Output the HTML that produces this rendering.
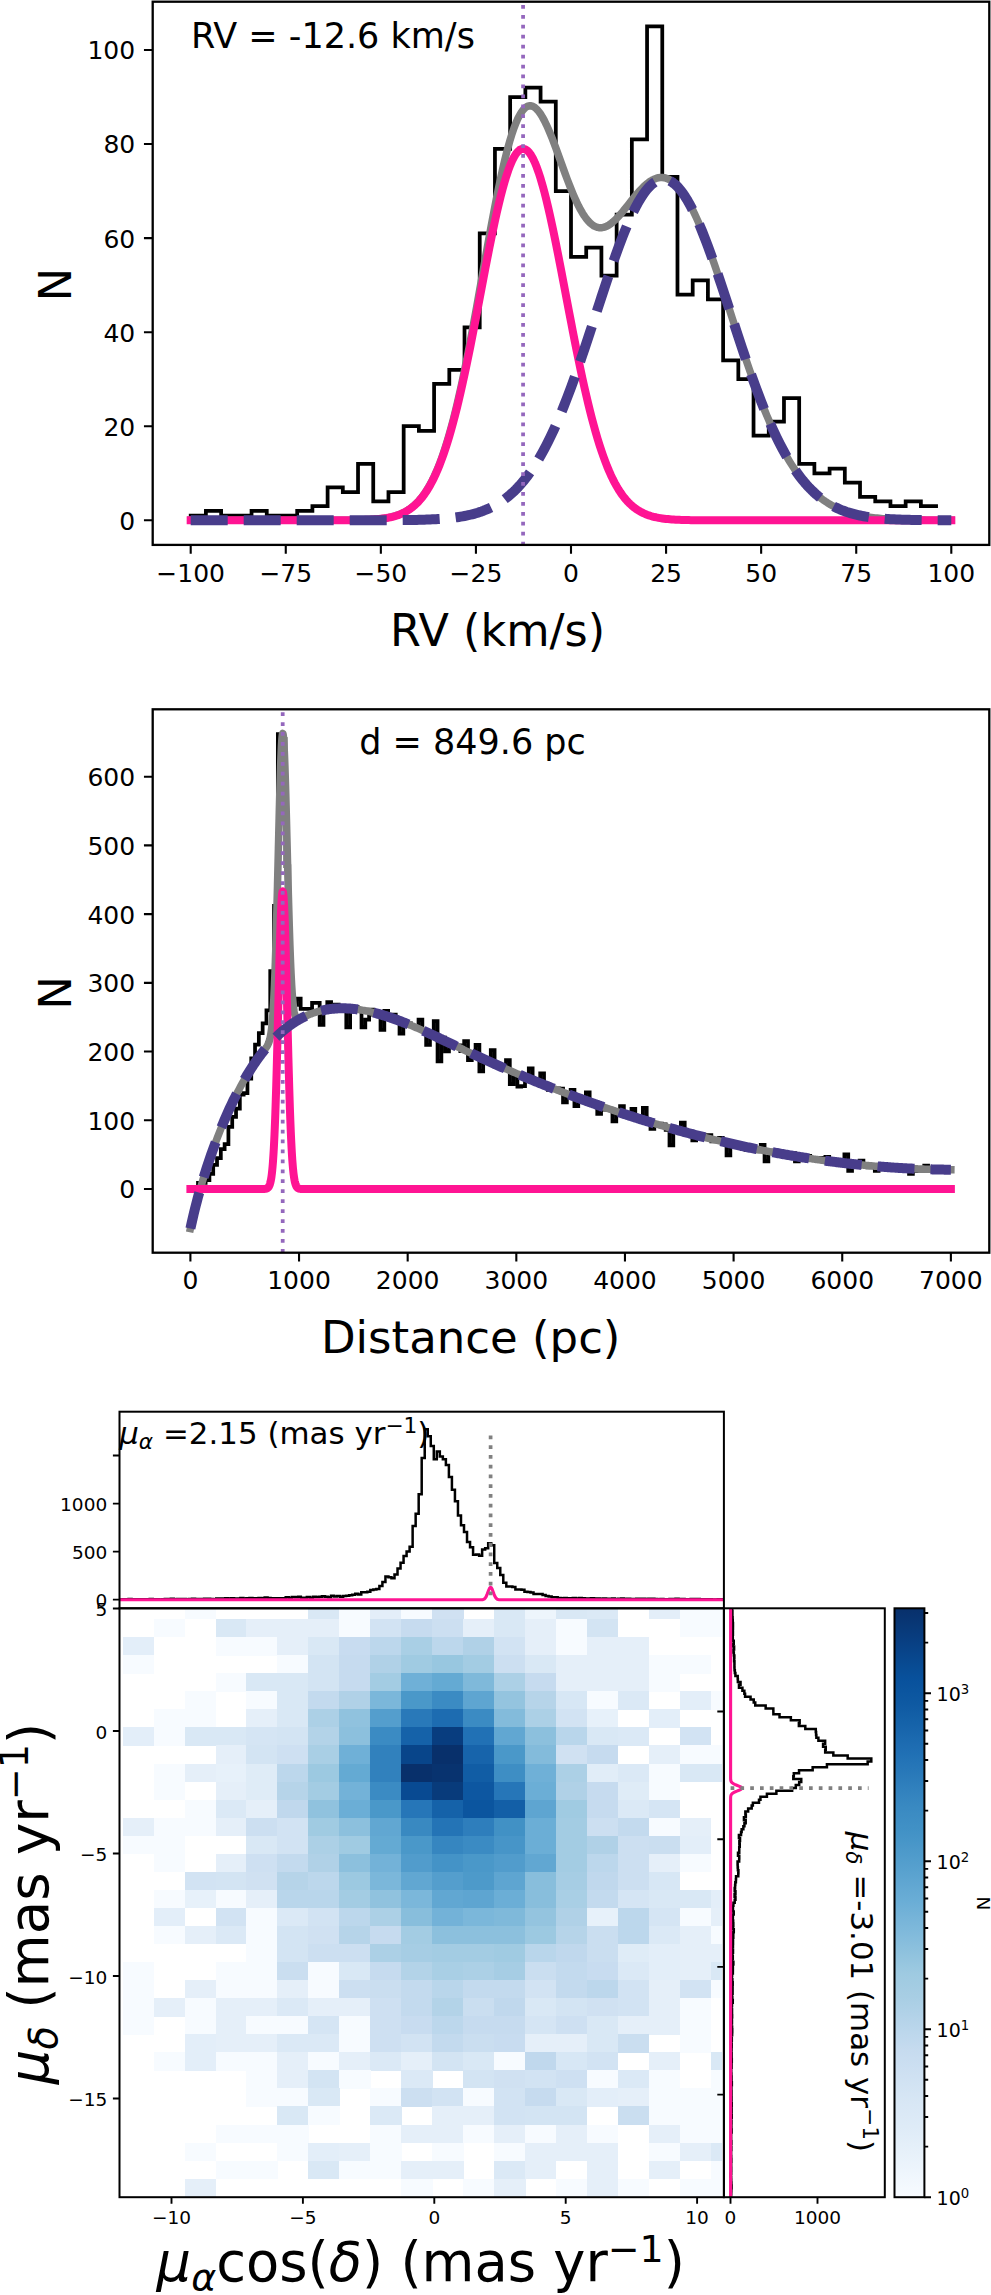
<!DOCTYPE html>
<html><head><meta charset="utf-8"><title>Figure</title>
<style>
html,body{margin:0;padding:0;background:#fff;}
svg{display:block;}
svg text{font-family:'DejaVu Sans','Liberation Sans',sans-serif;fill:#000;}
</style></head>
<body>
<svg width="991" height="2295" viewBox="0 0 991 2295">
<rect width="991" height="2295" fill="#fff"/>
<g id="p1">
<path d="M190.7 515.6 L205.91 515.6 L205.91 510.89 L221.12 510.89 L221.12 515.6 L236.34 515.6 L236.34 515.6 L251.55 515.6 L251.55 510.89 L266.76 510.89 L266.76 515.6 L281.97 515.6 L281.97 515.6 L297.18 515.6 L297.18 510.89 L312.4 510.89 L312.4 506.19 L327.61 506.19 L327.61 487.38 L342.82 487.38 L342.82 492.08 L358.03 492.08 L358.03 463.86 L373.24 463.86 L373.24 501.49 L388.46 501.49 L388.46 492.08 L403.67 492.08 L403.67 426.24 L418.88 426.24 L418.88 430.94 L434.09 430.94 L434.09 383.91 L449.3 383.91 L449.3 369.8 L464.52 369.8 L464.52 327.48 L479.73 327.48 L479.73 233.42 L494.94 233.42 L494.94 148.76 L510.15 148.76 L510.15 97.03 L525.36 97.03 L525.36 87.62 L540.58 87.62 L540.58 101.73 L555.79 101.73 L555.79 191.09 L571 191.09 L571 256.93 L586.21 256.93 L586.21 247.53 L601.42 247.53 L601.42 275.74 L616.64 275.74 L616.64 214.6 L631.85 214.6 L631.85 139.36 L647.06 139.36 L647.06 26.48 L662.27 26.48 L662.27 176.98 L677.48 176.98 L677.48 294.56 L692.7 294.56 L692.7 280.45 L707.91 280.45 L707.91 299.26 L723.12 299.26 L723.12 360.4 L738.33 360.4 L738.33 379.21 L753.54 379.21 L753.54 435.65 L768.76 435.65 L768.76 421.54 L783.97 421.54 L783.97 398.02 L799.18 398.02 L799.18 463.86 L814.39 463.86 L814.39 473.27 L829.6 473.27 L829.6 468.57 L844.82 468.57 L844.82 482.68 L860.03 482.68 L860.03 496.78 L875.24 496.78 L875.24 501.49 L890.45 501.49 L890.45 506.19 L905.66 506.19 L905.66 501.49 L920.88 501.49 L920.88 506.19 L936.09 506.19" fill="none" stroke="#000" stroke-width="3.75" stroke-linejoin="miter" stroke-linecap="square"/>
<path d="M190.7 520.3 L192.6 520.3 L194.5 520.3 L196.4 520.3 L198.31 520.3 L200.21 520.3 L202.11 520.3 L204.01 520.3 L205.91 520.3 L207.81 520.3 L209.72 520.3 L211.62 520.3 L213.52 520.3 L215.42 520.3 L217.32 520.3 L219.22 520.3 L221.12 520.3 L223.03 520.3 L224.93 520.3 L226.83 520.3 L228.73 520.3 L230.63 520.3 L232.53 520.3 L234.43 520.3 L236.34 520.3 L238.24 520.3 L240.14 520.3 L242.04 520.3 L243.94 520.3 L245.84 520.3 L247.75 520.3 L249.65 520.3 L251.55 520.3 L253.45 520.3 L255.35 520.3 L257.25 520.3 L259.15 520.3 L261.06 520.3 L262.96 520.3 L264.86 520.3 L266.76 520.3 L268.66 520.3 L270.56 520.3 L272.46 520.3 L274.37 520.3 L276.27 520.3 L278.17 520.3 L280.07 520.3 L281.97 520.3 L283.87 520.3 L285.77 520.3 L287.68 520.3 L289.58 520.3 L291.48 520.3 L293.38 520.3 L295.28 520.3 L297.18 520.3 L299.09 520.3 L300.99 520.3 L302.89 520.3 L304.79 520.3 L306.69 520.3 L308.59 520.3 L310.49 520.3 L312.4 520.3 L314.3 520.3 L316.2 520.3 L318.1 520.3 L320 520.29 L321.9 520.29 L323.81 520.29 L325.71 520.29 L327.61 520.29 L329.51 520.29 L331.41 520.28 L333.31 520.28 L335.21 520.27 L337.12 520.27 L339.02 520.26 L340.92 520.25 L342.82 520.24 L344.72 520.23 L346.62 520.22 L348.52 520.2 L350.43 520.19 L352.33 520.16 L354.23 520.14 L356.13 520.11 L358.03 520.07 L359.93 520.03 L361.84 519.98 L363.74 519.92 L365.64 519.85 L367.54 519.78 L369.44 519.69 L371.34 519.58 L373.24 519.46 L375.15 519.32 L377.05 519.16 L378.95 518.98 L380.85 518.77 L382.75 518.53 L384.65 518.26 L386.55 517.94 L388.46 517.59 L390.36 517.19 L392.26 516.73 L394.16 516.22 L396.06 515.64 L397.96 514.99 L399.87 514.27 L401.77 513.45 L403.67 512.54 L405.57 511.53 L407.47 510.41 L409.37 509.16 L411.27 507.78 L413.18 506.25 L415.08 504.57 L416.98 502.72 L418.88 500.7 L420.78 498.48 L422.68 496.06 L424.58 493.42 L426.49 490.56 L428.39 487.45 L430.29 484.09 L432.19 480.46 L434.09 476.56 L435.99 472.37 L437.89 467.87 L439.8 463.07 L441.7 457.95 L443.6 452.5 L445.5 446.72 L447.4 440.6 L449.3 434.14 L451.21 427.33 L453.11 420.18 L455.01 412.7 L456.91 404.87 L458.81 396.72 L460.71 388.25 L462.61 379.46 L464.52 370.39 L466.42 361.03 L468.32 351.42 L470.22 341.57 L472.12 331.51 L474.02 321.26 L475.93 310.86 L477.83 300.33 L479.73 289.72 L481.63 279.05 L483.53 268.36 L485.43 257.7 L487.33 247.1 L489.24 236.6 L491.14 226.26 L493.04 216.09 L494.94 206.16 L496.84 196.51 L498.74 187.16 L500.64 178.18 L502.55 169.58 L504.45 161.41 L506.35 153.71 L508.25 146.5 L510.15 139.82 L512.05 133.69 L513.96 128.14 L515.86 123.17 L517.76 118.82 L519.66 115.09 L521.56 111.98 L523.46 109.51 L525.36 107.66 L527.27 106.44 L529.17 105.83 L531.07 105.83 L532.97 106.4 L534.87 107.54 L536.77 109.21 L538.67 111.4 L540.58 114.05 L542.48 117.15 L544.38 120.66 L546.28 124.53 L548.18 128.73 L550.08 133.21 L551.99 137.93 L553.89 142.85 L555.79 147.93 L557.69 153.11 L559.59 158.36 L561.49 163.63 L563.39 168.89 L565.3 174.09 L567.2 179.2 L569.1 184.18 L571 189 L572.9 193.62 L574.8 198.02 L576.7 202.18 L578.61 206.06 L580.51 209.66 L582.41 212.95 L584.31 215.93 L586.21 218.57 L588.11 220.89 L590.01 222.86 L591.92 224.49 L593.82 225.78 L595.72 226.74 L597.62 227.37 L599.52 227.68 L601.42 227.68 L603.33 227.39 L605.23 226.81 L607.13 225.97 L609.03 224.88 L610.93 223.57 L612.83 222.04 L614.73 220.33 L616.64 218.46 L618.54 216.44 L620.44 214.3 L622.34 212.06 L624.24 209.74 L626.14 207.37 L628.04 204.97 L629.95 202.56 L631.85 200.16 L633.75 197.79 L635.65 195.47 L637.55 193.22 L639.45 191.07 L641.36 189.02 L643.26 187.09 L645.16 185.3 L647.06 183.67 L648.96 182.2 L650.86 180.91 L652.76 179.81 L654.67 178.92 L656.57 178.23 L658.47 177.76 L660.37 177.52 L662.27 177.51 L664.17 177.74 L666.08 178.2 L667.98 178.91 L669.88 179.87 L671.78 181.07 L673.68 182.52 L675.58 184.21 L677.48 186.15 L679.39 188.33 L681.29 190.74 L683.19 193.4 L685.09 196.28 L686.99 199.38 L688.89 202.7 L690.79 206.24 L692.7 209.97 L694.6 213.91 L696.5 218.03 L698.4 222.33 L700.3 226.8 L702.2 231.44 L704.11 236.23 L706.01 241.15 L707.91 246.22 L709.81 251.4 L711.71 256.69 L713.61 262.09 L715.51 267.58 L717.42 273.14 L719.32 278.78 L721.22 284.47 L723.12 290.22 L725.02 296 L726.92 301.82 L728.82 307.65 L730.73 313.49 L732.63 319.33 L734.53 325.16 L736.43 330.98 L738.33 336.76 L740.23 342.52 L742.13 348.22 L744.04 353.88 L745.94 359.48 L747.84 365.02 L749.74 370.48 L751.64 375.87 L753.54 381.18 L755.45 386.4 L757.35 391.52 L759.25 396.55 L761.15 401.47 L763.05 406.29 L764.95 411.01 L766.85 415.61 L768.76 420.09 L770.66 424.47 L772.56 428.72 L774.46 432.86 L776.36 436.87 L778.26 440.76 L780.16 444.54 L782.07 448.19 L783.97 451.72 L785.87 455.13 L787.77 458.42 L789.67 461.59 L791.57 464.64 L793.48 467.58 L795.38 470.4 L797.28 473.1 L799.18 475.7 L801.08 478.19 L802.98 480.57 L804.88 482.84 L806.79 485.02 L808.69 487.09 L810.59 489.07 L812.49 490.95 L814.39 492.74 L816.29 494.44 L818.19 496.06 L820.1 497.59 L822 499.05 L823.9 500.42 L825.8 501.72 L827.7 502.95 L829.6 504.12 L831.51 505.21 L833.41 506.25 L835.31 507.22 L837.21 508.13 L839.11 508.99 L841.01 509.8 L842.91 510.56 L844.82 511.27 L846.72 511.94 L848.62 512.56 L850.52 513.14 L852.42 513.68 L854.32 514.19 L856.23 514.66 L858.13 515.1 L860.03 515.51 L861.93 515.89 L863.83 516.25 L865.73 516.58 L867.63 516.88 L869.54 517.16 L871.44 517.42 L873.34 517.67 L875.24 517.89 L877.14 518.09 L879.04 518.28 L880.94 518.46 L882.85 518.62 L884.75 518.77 L886.65 518.91 L888.55 519.03 L890.45 519.15 L892.35 519.25 L894.25 519.35 L896.16 519.44 L898.06 519.52 L899.96 519.59 L901.86 519.66 L903.76 519.72 L905.66 519.77 L907.57 519.83 L909.47 519.87 L911.37 519.91 L913.27 519.95 L915.17 519.99 L917.07 520.02 L918.97 520.05 L920.88 520.07 L922.78 520.1 L924.68 520.12 L926.58 520.14 L928.48 520.15 L930.38 520.17 L932.28 520.18 L934.19 520.2 L936.09 520.21 L937.99 520.22 L939.89 520.23 L941.79 520.23 L943.69 520.24 L945.6 520.25 L947.5 520.25 L949.4 520.26 L951.3 520.26" fill="none" stroke="#808080" stroke-width="7.5" stroke-linecap="square" stroke-linejoin="round"/>
<path d="M190.7 520.3 L192.6 520.3 L194.5 520.3 L196.4 520.3 L198.31 520.3 L200.21 520.3 L202.11 520.3 L204.01 520.3 L205.91 520.3 L207.81 520.3 L209.72 520.3 L211.62 520.3 L213.52 520.3 L215.42 520.3 L217.32 520.3 L219.22 520.3 L221.12 520.3 L223.03 520.3 L224.93 520.3 L226.83 520.3 L228.73 520.3 L230.63 520.3 L232.53 520.3 L234.43 520.3 L236.34 520.3 L238.24 520.3 L240.14 520.3 L242.04 520.3 L243.94 520.3 L245.84 520.3 L247.75 520.3 L249.65 520.3 L251.55 520.3 L253.45 520.3 L255.35 520.3 L257.25 520.3 L259.15 520.3 L261.06 520.3 L262.96 520.3 L264.86 520.3 L266.76 520.3 L268.66 520.3 L270.56 520.3 L272.46 520.3 L274.37 520.3 L276.27 520.3 L278.17 520.3 L280.07 520.3 L281.97 520.3 L283.87 520.3 L285.77 520.3 L287.68 520.3 L289.58 520.3 L291.48 520.3 L293.38 520.3 L295.28 520.3 L297.18 520.3 L299.09 520.3 L300.99 520.3 L302.89 520.3 L304.79 520.3 L306.69 520.3 L308.59 520.3 L310.49 520.3 L312.4 520.3 L314.3 520.3 L316.2 520.3 L318.1 520.3 L320 520.3 L321.9 520.29 L323.81 520.29 L325.71 520.29 L327.61 520.29 L329.51 520.29 L331.41 520.28 L333.31 520.28 L335.21 520.28 L337.12 520.27 L339.02 520.26 L340.92 520.26 L342.82 520.25 L344.72 520.24 L346.62 520.22 L348.52 520.21 L350.43 520.19 L352.33 520.17 L354.23 520.15 L356.13 520.12 L358.03 520.08 L359.93 520.04 L361.84 519.99 L363.74 519.94 L365.64 519.87 L367.54 519.8 L369.44 519.71 L371.34 519.61 L373.24 519.49 L375.15 519.36 L377.05 519.2 L378.95 519.03 L380.85 518.82 L382.75 518.59 L384.65 518.32 L386.55 518.02 L388.46 517.67 L390.36 517.28 L392.26 516.84 L394.16 516.33 L396.06 515.77 L397.96 515.14 L399.87 514.43 L401.77 513.63 L403.67 512.74 L405.57 511.75 L407.47 510.65 L409.37 509.43 L411.27 508.08 L413.18 506.59 L415.08 504.95 L416.98 503.14 L418.88 501.16 L420.78 498.99 L422.68 496.63 L424.58 494.05 L426.49 491.25 L428.39 488.22 L430.29 484.94 L432.19 481.4 L434.09 477.59 L435.99 473.5 L437.89 469.12 L439.8 464.44 L441.7 459.45 L443.6 454.15 L445.5 448.52 L447.4 442.58 L449.3 436.3 L451.21 429.7 L453.11 422.77 L455.01 415.52 L456.91 407.96 L458.81 400.08 L460.71 391.91 L462.61 383.45 L464.52 374.72 L466.42 365.74 L468.32 356.53 L470.22 347.12 L472.12 337.52 L474.02 327.77 L475.93 317.91 L477.83 307.96 L479.73 297.96 L481.63 287.94 L483.53 277.96 L485.43 268.04 L487.33 258.24 L489.24 248.59 L491.14 239.15 L493.04 229.95 L494.94 221.04 L496.84 212.47 L498.74 204.27 L500.64 196.5 L502.55 189.19 L504.45 182.39 L506.35 176.12 L508.25 170.43 L510.15 165.35 L512.05 160.9 L513.96 157.12 L515.86 154.02 L517.76 151.63 L519.66 149.95 L521.56 149 L523.46 148.78 L525.36 149.29 L527.27 150.53 L529.17 152.5 L531.07 155.18 L532.97 158.55 L534.87 162.6 L536.77 167.31 L538.67 172.64 L540.58 178.56 L542.48 185.04 L544.38 192.06 L546.28 199.56 L548.18 207.5 L550.08 215.85 L551.99 224.57 L553.89 233.6 L555.79 242.9 L557.69 252.43 L559.59 262.15 L561.49 272 L563.39 281.95 L565.3 291.95 L567.2 301.96 L569.1 311.95 L571 321.87 L572.9 331.69 L574.8 341.38 L576.7 350.91 L578.61 360.24 L580.51 369.36 L582.41 378.24 L584.31 386.87 L586.21 395.21 L588.11 403.27 L590.01 411.02 L591.92 418.46 L593.82 425.58 L595.72 432.38 L597.62 438.85 L599.52 444.99 L601.42 450.81 L603.33 456.31 L605.23 461.48 L607.13 466.35 L609.03 470.91 L610.93 475.17 L612.83 479.15 L614.73 482.85 L616.64 486.28 L618.54 489.46 L620.44 492.4 L622.34 495.11 L624.24 497.6 L626.14 499.88 L628.04 501.98 L629.95 503.88 L631.85 505.62 L633.75 507.21 L635.65 508.64 L637.55 509.94 L639.45 511.11 L641.36 512.16 L643.26 513.11 L645.16 513.96 L647.06 514.72 L648.96 515.4 L650.86 516 L652.76 516.54 L654.67 517.02 L656.57 517.44 L658.47 517.81 L660.37 518.14 L662.27 518.43 L664.17 518.68 L666.08 518.91 L667.98 519.1 L669.88 519.27 L671.78 519.41 L673.68 519.54 L675.58 519.65 L677.48 519.75 L679.39 519.83 L681.29 519.9 L683.19 519.96 L685.09 520.01 L686.99 520.06 L688.89 520.1 L690.79 520.13 L692.7 520.16 L694.6 520.18 L696.5 520.2 L698.4 520.22 L700.3 520.23 L702.2 520.24 L704.11 520.25 L706.01 520.26 L707.91 520.27 L709.81 520.27 L711.71 520.28 L713.61 520.28 L715.51 520.28 L717.42 520.29 L719.32 520.29 L721.22 520.29 L723.12 520.29 L725.02 520.29 L726.92 520.3 L728.82 520.3 L730.73 520.3 L732.63 520.3 L734.53 520.3 L736.43 520.3 L738.33 520.3 L740.23 520.3 L742.13 520.3 L744.04 520.3 L745.94 520.3 L747.84 520.3 L749.74 520.3 L751.64 520.3 L753.54 520.3 L755.45 520.3 L757.35 520.3 L759.25 520.3 L761.15 520.3 L763.05 520.3 L764.95 520.3 L766.85 520.3 L768.76 520.3 L770.66 520.3 L772.56 520.3 L774.46 520.3 L776.36 520.3 L778.26 520.3 L780.16 520.3 L782.07 520.3 L783.97 520.3 L785.87 520.3 L787.77 520.3 L789.67 520.3 L791.57 520.3 L793.48 520.3 L795.38 520.3 L797.28 520.3 L799.18 520.3 L801.08 520.3 L802.98 520.3 L804.88 520.3 L806.79 520.3 L808.69 520.3 L810.59 520.3 L812.49 520.3 L814.39 520.3 L816.29 520.3 L818.19 520.3 L820.1 520.3 L822 520.3 L823.9 520.3 L825.8 520.3 L827.7 520.3 L829.6 520.3 L831.51 520.3 L833.41 520.3 L835.31 520.3 L837.21 520.3 L839.11 520.3 L841.01 520.3 L842.91 520.3 L844.82 520.3 L846.72 520.3 L848.62 520.3 L850.52 520.3 L852.42 520.3 L854.32 520.3 L856.23 520.3 L858.13 520.3 L860.03 520.3 L861.93 520.3 L863.83 520.3 L865.73 520.3 L867.63 520.3 L869.54 520.3 L871.44 520.3 L873.34 520.3 L875.24 520.3 L877.14 520.3 L879.04 520.3 L880.94 520.3 L882.85 520.3 L884.75 520.3 L886.65 520.3 L888.55 520.3 L890.45 520.3 L892.35 520.3 L894.25 520.3 L896.16 520.3 L898.06 520.3 L899.96 520.3 L901.86 520.3 L903.76 520.3 L905.66 520.3 L907.57 520.3 L909.47 520.3 L911.37 520.3 L913.27 520.3 L915.17 520.3 L917.07 520.3 L918.97 520.3 L920.88 520.3 L922.78 520.3 L924.68 520.3 L926.58 520.3 L928.48 520.3 L930.38 520.3 L932.28 520.3 L934.19 520.3 L936.09 520.3 L937.99 520.3 L939.89 520.3 L941.79 520.3 L943.69 520.3 L945.6 520.3 L947.5 520.3 L949.4 520.3 L951.3 520.3" fill="none" stroke="#ff1493" stroke-width="8" stroke-linecap="square" stroke-linejoin="round"/>
<path d="M190.7 520.3 L192.6 520.3 L194.5 520.3 L196.4 520.3 L198.31 520.3 L200.21 520.3 L202.11 520.3 L204.01 520.3 L205.91 520.3 L207.81 520.3 L209.72 520.3 L211.62 520.3 L213.52 520.3 L215.42 520.3 L217.32 520.3 L219.22 520.3 L221.12 520.3 L223.03 520.3 L224.93 520.3 L226.83 520.3 L228.73 520.3 L230.63 520.3 L232.53 520.3 L234.43 520.3 L236.34 520.3 L238.24 520.3 L240.14 520.3 L242.04 520.3 L243.94 520.3 L245.84 520.3 L247.75 520.3 L249.65 520.3 L251.55 520.3 L253.45 520.3 L255.35 520.3 L257.25 520.3 L259.15 520.3 L261.06 520.3 L262.96 520.3 L264.86 520.3 L266.76 520.3 L268.66 520.3 L270.56 520.3 L272.46 520.3 L274.37 520.3 L276.27 520.3 L278.17 520.3 L280.07 520.3 L281.97 520.3 L283.87 520.3 L285.77 520.3 L287.68 520.3 L289.58 520.3 L291.48 520.3 L293.38 520.3 L295.28 520.3 L297.18 520.3 L299.09 520.3 L300.99 520.3 L302.89 520.3 L304.79 520.3 L306.69 520.3 L308.59 520.3 L310.49 520.3 L312.4 520.3 L314.3 520.3 L316.2 520.3 L318.1 520.3 L320 520.3 L321.9 520.3 L323.81 520.3 L325.71 520.3 L327.61 520.3 L329.51 520.3 L331.41 520.3 L333.31 520.3 L335.21 520.3 L337.12 520.3 L339.02 520.3 L340.92 520.3 L342.82 520.3 L344.72 520.3 L346.62 520.29 L348.52 520.29 L350.43 520.29 L352.33 520.29 L354.23 520.29 L356.13 520.29 L358.03 520.29 L359.93 520.29 L361.84 520.29 L363.74 520.28 L365.64 520.28 L367.54 520.28 L369.44 520.28 L371.34 520.27 L373.24 520.27 L375.15 520.26 L377.05 520.26 L378.95 520.25 L380.85 520.25 L382.75 520.24 L384.65 520.24 L386.55 520.23 L388.46 520.22 L390.36 520.21 L392.26 520.2 L394.16 520.19 L396.06 520.17 L397.96 520.16 L399.87 520.14 L401.77 520.12 L403.67 520.1 L405.57 520.08 L407.47 520.05 L409.37 520.02 L411.27 519.99 L413.18 519.96 L415.08 519.92 L416.98 519.88 L418.88 519.84 L420.78 519.79 L422.68 519.73 L424.58 519.67 L426.49 519.6 L428.39 519.53 L430.29 519.45 L432.19 519.37 L434.09 519.27 L435.99 519.17 L437.89 519.05 L439.8 518.93 L441.7 518.8 L443.6 518.65 L445.5 518.49 L447.4 518.32 L449.3 518.13 L451.21 517.93 L453.11 517.71 L455.01 517.47 L456.91 517.22 L458.81 516.94 L460.71 516.64 L462.61 516.32 L464.52 515.97 L466.42 515.59 L468.32 515.19 L470.22 514.75 L472.12 514.29 L474.02 513.79 L475.93 513.25 L477.83 512.68 L479.73 512.06 L481.63 511.41 L483.53 510.71 L485.43 509.96 L487.33 509.16 L489.24 508.31 L491.14 507.41 L493.04 506.45 L494.94 505.42 L496.84 504.34 L498.74 503.19 L500.64 501.98 L502.55 500.69 L504.45 499.33 L506.35 497.89 L508.25 496.37 L510.15 494.77 L512.05 493.09 L513.96 491.31 L515.86 489.45 L517.76 487.49 L519.66 485.44 L521.56 483.28 L523.46 481.03 L525.36 478.67 L527.27 476.21 L529.17 473.63 L531.07 470.95 L532.97 468.15 L534.87 465.24 L536.77 462.21 L538.67 459.06 L540.58 455.8 L542.48 452.41 L544.38 448.9 L546.28 445.28 L548.18 441.53 L550.08 437.66 L551.99 433.67 L553.89 429.56 L555.79 425.33 L557.69 420.98 L559.59 416.51 L561.49 411.94 L563.39 407.25 L565.3 402.45 L567.2 397.54 L569.1 392.53 L571 387.43 L572.9 382.23 L574.8 376.94 L576.7 371.57 L578.61 366.12 L580.51 360.6 L582.41 355.01 L584.31 349.36 L586.21 343.66 L588.11 337.92 L590.01 332.14 L591.92 326.33 L593.82 320.5 L595.72 314.66 L597.62 308.82 L599.52 302.99 L601.42 297.17 L603.33 291.38 L605.23 285.63 L607.13 279.92 L609.03 274.28 L610.93 268.7 L612.83 263.2 L614.73 257.79 L616.64 252.48 L618.54 247.27 L620.44 242.2 L622.34 237.25 L624.24 232.44 L626.14 227.79 L628.04 223.29 L629.95 218.97 L631.85 214.83 L633.75 210.88 L635.65 207.13 L637.55 203.59 L639.45 200.26 L641.36 197.16 L643.26 194.28 L645.16 191.64 L647.06 189.25 L648.96 187.1 L650.86 185.21 L652.76 183.57 L654.67 182.2 L656.57 181.09 L658.47 180.25 L660.37 179.68 L662.27 179.38 L664.17 179.35 L666.08 179.6 L667.98 180.12 L669.88 180.9 L671.78 181.96 L673.68 183.28 L675.58 184.86 L677.48 186.7 L679.39 188.8 L681.29 191.14 L683.19 193.73 L685.09 196.56 L686.99 199.62 L688.89 202.91 L690.79 206.41 L692.7 210.12 L694.6 214.03 L696.5 218.13 L698.4 222.42 L700.3 226.87 L702.2 231.5 L704.11 236.27 L706.01 241.19 L707.91 246.25 L709.81 251.43 L711.71 256.72 L713.61 262.11 L715.51 267.59 L717.42 273.15 L719.32 278.79 L721.22 284.48 L723.12 290.23 L725.02 296.01 L726.92 301.82 L728.82 307.65 L730.73 313.49 L732.63 319.33 L734.53 325.16 L736.43 330.98 L738.33 336.76 L740.23 342.52 L742.13 348.22 L744.04 353.88 L745.94 359.48 L747.84 365.02 L749.74 370.48 L751.64 375.87 L753.54 381.18 L755.45 386.4 L757.35 391.52 L759.25 396.55 L761.15 401.47 L763.05 406.29 L764.95 411.01 L766.85 415.61 L768.76 420.09 L770.66 424.47 L772.56 428.72 L774.46 432.86 L776.36 436.87 L778.26 440.76 L780.16 444.54 L782.07 448.19 L783.97 451.72 L785.87 455.13 L787.77 458.42 L789.67 461.59 L791.57 464.64 L793.48 467.58 L795.38 470.4 L797.28 473.1 L799.18 475.7 L801.08 478.19 L802.98 480.57 L804.88 482.84 L806.79 485.02 L808.69 487.09 L810.59 489.07 L812.49 490.95 L814.39 492.74 L816.29 494.44 L818.19 496.06 L820.1 497.59 L822 499.05 L823.9 500.42 L825.8 501.72 L827.7 502.95 L829.6 504.12 L831.51 505.21 L833.41 506.25 L835.31 507.22 L837.21 508.13 L839.11 508.99 L841.01 509.8 L842.91 510.56 L844.82 511.27 L846.72 511.94 L848.62 512.56 L850.52 513.14 L852.42 513.68 L854.32 514.19 L856.23 514.66 L858.13 515.1 L860.03 515.51 L861.93 515.89 L863.83 516.25 L865.73 516.58 L867.63 516.88 L869.54 517.16 L871.44 517.42 L873.34 517.67 L875.24 517.89 L877.14 518.09 L879.04 518.28 L880.94 518.46 L882.85 518.62 L884.75 518.77 L886.65 518.91 L888.55 519.03 L890.45 519.15 L892.35 519.25 L894.25 519.35 L896.16 519.44 L898.06 519.52 L899.96 519.59 L901.86 519.66 L903.76 519.72 L905.66 519.77 L907.57 519.83 L909.47 519.87 L911.37 519.91 L913.27 519.95 L915.17 519.99 L917.07 520.02 L918.97 520.05 L920.88 520.07 L922.78 520.1 L924.68 520.12 L926.58 520.14 L928.48 520.15 L930.38 520.17 L932.28 520.18 L934.19 520.2 L936.09 520.21 L937.99 520.22 L939.89 520.23 L941.79 520.23 L943.69 520.24 L945.6 520.25 L947.5 520.25 L949.4 520.26 L951.3 520.26" fill="none" stroke="#483d8b" stroke-width="10" stroke-dasharray="37 16" stroke-linejoin="round"/>
<path d="M523.08 544.9 V1.7" stroke="#9467bd" stroke-width="3.75" stroke-dasharray="3.75 6.19" stroke-dashoffset="0.6" fill="none"/>
<rect x="152.7" y="1.7" width="836.6" height="543.2" fill="none" stroke="#000" stroke-width="2.3"/>
<path d="M190.7 544.9 v8.75M285.77 544.9 v8.75M380.85 544.9 v8.75M475.93 544.9 v8.75M571 544.9 v8.75M666.08 544.9 v8.75M761.15 544.9 v8.75M856.23 544.9 v8.75M951.3 544.9 v8.75M152.7 520.3 h-8.75M152.7 426.24 h-8.75M152.7 332.18 h-8.75M152.7 238.12 h-8.75M152.7 144.06 h-8.75M152.7 50 h-8.75" stroke="#000" stroke-width="2.1" fill="none"/>
<text x="190.7" y="582" font-size="25" text-anchor="middle" >−100</text>
<text x="285.77" y="582" font-size="25" text-anchor="middle" >−75</text>
<text x="380.85" y="582" font-size="25" text-anchor="middle" >−50</text>
<text x="475.93" y="582" font-size="25" text-anchor="middle" >−25</text>
<text x="571" y="582" font-size="25" text-anchor="middle" >0</text>
<text x="666.08" y="582" font-size="25" text-anchor="middle" >25</text>
<text x="761.15" y="582" font-size="25" text-anchor="middle" >50</text>
<text x="856.23" y="582" font-size="25" text-anchor="middle" >75</text>
<text x="951.3" y="582" font-size="25" text-anchor="middle" >100</text>
<text x="135.2" y="529.7" font-size="25" text-anchor="end" >0</text>
<text x="135.2" y="435.64" font-size="25" text-anchor="end" >20</text>
<text x="135.2" y="341.58" font-size="25" text-anchor="end" >40</text>
<text x="135.2" y="247.52" font-size="25" text-anchor="end" >60</text>
<text x="135.2" y="153.46" font-size="25" text-anchor="end" >80</text>
<text x="135.2" y="59.4" font-size="25" text-anchor="end" >100</text>
<text x="190.9" y="47.9" font-size="35" text-anchor="start" >RV = -12.6 km/s</text>
<text x="497.5" y="645.6" font-size="44.5" text-anchor="middle" >RV (km/s)</text>
<text transform="translate(70.7 284.6) rotate(-90)" font-size="45" text-anchor="middle">N</text>
</g>
<g id="p2">
<path d="M190.4 1189 L194.2 1189 L194.2 1187.63 L198 1187.63 L198 1182.82 L201.81 1182.82 L201.81 1182.82 L205.61 1182.82 L205.61 1180.07 L209.41 1180.07 L209.41 1173.88 L213.21 1173.88 L213.21 1164.95 L217.02 1164.95 L217.02 1158.08 L220.82 1158.08 L220.82 1149.14 L224.62 1149.14 L224.62 1144.13 L228.42 1144.13 L228.42 1126.88 L232.23 1126.88 L232.23 1116.84 L236.03 1116.84 L236.03 1108.6 L239.83 1108.6 L239.83 1094.58 L243.63 1094.58 L243.63 1093.14 L247.44 1093.14 L247.44 1078.5 L251.24 1078.5 L251.24 1058.43 L255.04 1058.43 L255.04 1044.69 L258.84 1044.69 L258.84 1033.01 L262.65 1033.01 L262.65 1023.38 L266.45 1023.38 L266.45 1010.33 L270.25 1010.33 L270.25 971.16 L274.05 971.16 L274.05 905.87 L277.86 905.87 L277.86 734.07 L281.66 734.07 L281.66 738.88 L285.46 738.88 L285.46 866.02 L289.26 866.02 L289.26 982.84 L293.06 982.84 L293.06 1004.83 L296.87 1004.83 L296.87 998.65 L300.67 998.65 L300.67 1008.95 L304.47 1008.95 L304.47 1008.95 L308.27 1008.95 L308.27 1008.95 L312.08 1008.95 L312.08 1002.77 L315.88 1002.77 L315.88 1002.77 L319.68 1002.77 L319.68 1024.77 L323.48 1024.77 L323.48 1007.94 L327.29 1007.94 L327.29 1002.08 L331.09 1002.08 L331.09 1009.75 L334.89 1009.75 L334.89 1004.6 L338.69 1004.6 L338.69 1009.54 L342.5 1009.54 L342.5 1008.58 L346.3 1008.58 L346.3 1027.29 L350.1 1027.29 L350.1 1007.91 L353.9 1007.91 L353.9 1007.13 L357.71 1007.13 L357.71 1009.96 L361.51 1009.96 L361.51 1027.29 L365.31 1027.29 L365.31 1019.72 L369.11 1019.72 L369.11 1009.74 L372.92 1009.74 L372.92 1014.66 L376.72 1014.66 L376.72 1012.6 L380.52 1012.6 L380.52 1029.82 L384.32 1029.82 L384.32 1010.91 L388.12 1010.91 L388.12 1016.7 L391.93 1016.7 L391.93 1014.7 L395.73 1014.7 L395.73 1020.6 L399.53 1020.6 L399.53 1033.6 L403.33 1033.6 L403.33 1025.3 L407.14 1025.3 L407.14 1023.45 L410.94 1023.45 L410.94 1026.06 L414.74 1026.06 L414.74 1026.74 L418.54 1026.74 L418.54 1019.74 L422.35 1019.74 L422.35 1030.19 L426.15 1030.19 L426.15 1044.95 L429.95 1044.95 L429.95 1035.73 L433.75 1035.73 L433.75 1021 L437.56 1021 L437.56 1061.35 L441.36 1061.35 L441.36 1037.5 L445.16 1037.5 L445.16 1051.26 L448.96 1051.26 L448.96 1041.77 L452.77 1041.77 L452.77 1045.66 L456.57 1045.66 L456.57 1045.44 L460.37 1045.44 L460.37 1051.15 L464.17 1051.15 L464.17 1041.18 L467.98 1041.18 L467.98 1060.09 L471.78 1060.09 L471.78 1053.12 L475.58 1053.12 L475.58 1044.97 L479.38 1044.97 L479.38 1071.44 L483.18 1071.44 L483.18 1060.54 L486.99 1060.54 L486.99 1062.36 L490.79 1062.36 L490.79 1050.01 L494.59 1050.01 L494.59 1066.62 L498.39 1066.62 L498.39 1066.93 L502.2 1066.93 L502.2 1068.41 L506 1068.41 L506 1060.1 L509.8 1060.1 L509.8 1084.05 L513.6 1084.05 L513.6 1072.92 L517.41 1072.92 L517.41 1086.58 L521.21 1086.58 L521.21 1086.03 L525.01 1086.03 L525.01 1075.71 L528.81 1075.71 L528.81 1068.39 L532.62 1068.39 L532.62 1079.32 L536.42 1079.32 L536.42 1080.11 L540.22 1080.11 L540.22 1073.43 L544.02 1073.43 L544.02 1083.51 L547.83 1083.51 L547.83 1089.82 L551.63 1089.82 L551.63 1088.72 L555.43 1088.72 L555.43 1088.44 L559.23 1088.44 L559.23 1088.57 L563.04 1088.57 L563.04 1102.43 L566.84 1102.43 L566.84 1093.57 L570.64 1093.57 L570.64 1089.83 L574.44 1089.83 L574.44 1106.21 L578.24 1106.21 L578.24 1096.97 L582.05 1096.97 L582.05 1100.48 L585.85 1100.48 L585.85 1092.35 L589.65 1092.35 L589.65 1101.57 L593.45 1101.57 L593.45 1102.41 L597.26 1102.41 L597.26 1113.78 L601.06 1113.78 L601.06 1109.55 L604.86 1109.55 L604.86 1108.6 L608.66 1108.6 L608.66 1109.66 L612.47 1109.66 L612.47 1121.35 L616.27 1121.35 L616.27 1111.79 L620.07 1111.79 L620.07 1106.23 L623.87 1106.23 L623.87 1112.71 L627.68 1112.71 L627.68 1113.32 L631.48 1113.32 L631.48 1108.75 L635.28 1108.75 L635.28 1119.66 L639.08 1119.66 L639.08 1118.49 L642.89 1118.49 L642.89 1107.99 L646.69 1107.99 L646.69 1123.23 L650.49 1123.23 L650.49 1128.92 L654.29 1128.92 L654.29 1125.82 L658.1 1125.82 L658.1 1123.57 L661.9 1123.57 L661.9 1124.27 L665.7 1124.27 L665.7 1129.9 L669.5 1129.9 L669.5 1145.31 L673.3 1145.31 L673.3 1127.86 L677.11 1127.86 L677.11 1127.93 L680.91 1127.93 L680.91 1122.63 L684.71 1122.63 L684.71 1134.44 L688.51 1134.44 L688.51 1131.56 L692.32 1131.56 L692.32 1140.27 L696.12 1140.27 L696.12 1137.29 L699.92 1137.29 L699.92 1136.92 L703.72 1136.92 L703.72 1136.36 L707.53 1136.36 L707.53 1135.24 L711.33 1135.24 L711.33 1141.27 L715.13 1141.27 L715.13 1139.46 L718.93 1139.46 L718.93 1137.76 L722.74 1137.76 L722.74 1141.89 L726.54 1141.89 L726.54 1155.41 L730.34 1155.41 L730.34 1146.46 L734.14 1146.46 L734.14 1145.96 L737.95 1145.96 L737.95 1143.9 L741.75 1143.9 L741.75 1148.92 L745.55 1148.92 L745.55 1149.93 L749.35 1149.93 L749.35 1148.78 L753.16 1148.78 L753.16 1151.2 L756.96 1151.2 L756.96 1151.49 L760.76 1151.49 L760.76 1144.88 L764.56 1144.88 L764.56 1161.26 L768.36 1161.26 L768.36 1150.7 L772.17 1150.7 L772.17 1152.89 L775.97 1152.89 L775.97 1155.2 L779.77 1155.2 L779.77 1154.8 L783.57 1154.8 L783.57 1154.04 L787.38 1154.04 L787.38 1152.77 L791.18 1152.77 L791.18 1153.13 L794.98 1153.13 L794.98 1161.26 L798.78 1161.26 L798.78 1159.76 L802.59 1159.76 L802.59 1155.85 L806.39 1155.85 L806.39 1155.91 L810.19 1155.91 L810.19 1159.05 L813.99 1159.05 L813.99 1157.89 L817.8 1157.89 L817.8 1157.91 L821.6 1157.91 L821.6 1159.84 L825.4 1159.84 L825.4 1156.99 L829.2 1156.99 L829.2 1164.07 L833.01 1164.07 L833.01 1163.2 L836.81 1163.2 L836.81 1163.63 L840.61 1163.63 L840.61 1164.95 L844.41 1164.95 L844.41 1154.46 L848.22 1154.46 L848.22 1170.84 L852.02 1170.84 L852.02 1163.19 L855.82 1163.19 L855.82 1166.9 L859.62 1166.9 L859.62 1160.52 L863.42 1160.52 L863.42 1165.74 L867.23 1165.74 L867.23 1167.4 L871.03 1167.4 L871.03 1165.87 L874.83 1165.87 L874.83 1170.84 L878.63 1170.84 L878.63 1167.62 L882.44 1167.62 L882.44 1163.8 L886.24 1163.8 L886.24 1169.06 L890.04 1169.06 L890.04 1169.15 L893.84 1169.15 L893.84 1168.51 L897.65 1168.51 L897.65 1168.62 L901.45 1168.62 L901.45 1169.79 L905.25 1169.79 L905.25 1166.08 L909.05 1166.08 L909.05 1173.87 L912.86 1173.87 L912.86 1170.91 L916.66 1170.91 L916.66 1169.63 L920.46 1169.63 L920.46 1170.53 L924.26 1170.53 L924.26 1165.56 L928.07 1165.56 L928.07 1170.54 L931.87 1170.54 L931.87 1169.41 L935.67 1169.41 L935.67 1167.18 L939.47 1167.18 L939.47 1170.23 L943.28 1170.23 L943.28 1168.82 L947.08 1168.82 L947.08 1169.16 L950.88 1169.16" fill="none" stroke="#000" stroke-width="3.75" stroke-linejoin="miter" stroke-linecap="butt"/>
<path d="M190.4 1228.54 L191.49 1223.6 L192.57 1218.81 L193.66 1214.18 L194.75 1209.69 L195.83 1205.35 L196.92 1201.13 L198 1197.04 L199.09 1193.06 L200.18 1189.19 L201.26 1185.43 L202.35 1181.76 L203.44 1178.18 L204.52 1174.68 L205.61 1171.25 L206.7 1167.89 L207.78 1164.59 L208.87 1161.34 L209.96 1158.14 L211.04 1155 L212.13 1151.91 L213.21 1148.86 L214.3 1145.87 L215.39 1142.92 L216.47 1140.02 L217.56 1137.17 L218.65 1134.37 L219.73 1131.61 L220.82 1128.89 L221.91 1126.22 L222.99 1123.59 L224.08 1121.01 L225.16 1118.46 L226.25 1115.96 L227.34 1113.5 L228.42 1111.08 L229.51 1108.7 L230.6 1106.35 L231.68 1104.05 L232.77 1101.78 L233.86 1099.54 L234.94 1097.35 L236.03 1095.18 L237.12 1093.05 L238.2 1090.96 L239.29 1088.9 L240.37 1086.87 L241.46 1084.88 L242.55 1082.91 L243.63 1080.99 L244.72 1079.09 L245.81 1077.22 L246.89 1075.39 L247.98 1073.59 L249.07 1071.82 L250.15 1070.08 L251.24 1068.37 L252.32 1066.7 L253.41 1065.05 L254.5 1063.43 L255.58 1061.84 L255.8 1061.53 L256.02 1061.22 L256.24 1060.91 L256.45 1060.59 L256.67 1060.29 L256.89 1059.98 L257.1 1059.67 L257.32 1059.36 L257.54 1059.06 L257.76 1058.76 L257.97 1058.45 L258.19 1058.15 L258.41 1057.85 L258.63 1057.55 L258.84 1057.26 L259.06 1056.96 L259.28 1056.66 L259.5 1056.37 L259.71 1056.07 L259.93 1055.78 L260.15 1055.49 L260.36 1055.2 L260.58 1054.91 L260.8 1054.62 L261.02 1054.34 L261.23 1054.05 L261.45 1053.77 L261.67 1053.48 L261.89 1053.2 L262.1 1052.92 L262.32 1052.64 L262.54 1052.35 L262.75 1052.07 L262.97 1051.79 L263.19 1051.52 L263.41 1051.24 L263.62 1050.96 L263.84 1050.68 L264.06 1050.4 L264.28 1050.12 L264.49 1049.84 L264.71 1049.55 L264.93 1049.27 L265.14 1048.98 L265.36 1048.69 L265.58 1048.39 L265.8 1048.09 L266.01 1047.79 L266.23 1047.47 L266.45 1047.15 L266.67 1046.82 L266.88 1046.48 L267.1 1046.12 L267.32 1045.74 L267.53 1045.35 L267.75 1044.94 L267.97 1044.5 L268.19 1044.03 L268.4 1043.53 L268.62 1042.99 L268.84 1042.41 L269.06 1041.78 L269.27 1041.1 L269.49 1040.36 L269.71 1039.55 L269.92 1038.67 L270.14 1037.7 L270.36 1036.64 L270.58 1035.49 L270.79 1034.22 L271.01 1032.83 L271.23 1031.31 L271.45 1029.64 L271.66 1027.82 L271.88 1025.83 L272.1 1023.66 L272.31 1021.3 L272.53 1018.73 L272.75 1015.94 L272.97 1012.92 L273.18 1009.66 L273.4 1006.14 L273.62 1002.35 L273.84 998.28 L274.05 993.93 L274.27 989.27 L274.49 984.32 L274.7 979.05 L274.92 973.47 L275.14 967.58 L275.36 961.37 L275.57 954.85 L275.79 948.03 L276.01 940.91 L276.23 933.5 L276.44 925.81 L276.66 917.88 L276.88 909.7 L277.09 901.32 L277.31 892.74 L277.53 884.02 L277.75 875.16 L277.96 866.22 L278.18 857.23 L278.4 848.22 L278.62 839.25 L278.83 830.35 L279.05 821.57 L279.27 812.96 L279.48 804.56 L279.7 796.43 L279.92 788.6 L280.14 781.13 L280.35 774.07 L280.57 767.45 L280.79 761.31 L281.01 755.71 L281.22 750.67 L281.44 746.22 L281.66 742.4 L281.87 739.24 L282.09 736.74 L282.31 734.94 L282.53 733.83 L282.74 733.44 L282.96 733.75 L283.18 734.76 L283.4 736.48 L283.61 738.87 L283.83 741.93 L284.05 745.63 L284.26 749.95 L284.48 754.85 L284.7 760.3 L284.92 766.26 L285.13 772.7 L285.35 779.56 L285.57 786.81 L285.79 794.39 L286 802.26 L286.22 810.38 L286.44 818.7 L286.66 827.16 L286.87 835.72 L287.09 844.34 L287.31 852.98 L287.52 861.58 L287.74 870.12 L287.96 878.56 L288.18 886.86 L288.39 894.99 L288.61 902.92 L288.83 910.63 L289.05 918.09 L289.26 925.3 L289.48 932.22 L289.7 938.85 L289.91 945.18 L290.13 951.21 L290.35 956.92 L290.57 962.31 L290.78 967.39 L291 972.16 L291.22 976.62 L291.44 980.78 L291.65 984.64 L291.87 988.22 L292.09 991.53 L292.3 994.57 L292.52 997.36 L292.74 999.92 L292.96 1002.24 L293.17 1004.35 L293.39 1006.26 L293.61 1007.98 L293.83 1009.52 L294.04 1010.9 L294.26 1012.14 L294.48 1013.23 L294.69 1014.19 L294.91 1015.04 L295.13 1015.77 L295.35 1016.42 L295.56 1016.97 L295.78 1017.44 L296 1017.85 L296.22 1018.18 L296.43 1018.47 L296.65 1018.7 L296.87 1018.88 L297.08 1019.02 L297.3 1019.13 L297.52 1019.21 L297.74 1019.26 L297.95 1019.28 L298.17 1019.29 L298.39 1019.27 L298.61 1019.24 L298.82 1019.2 L299.04 1019.15 L299.26 1019.08 L299.47 1019.01 L299.69 1018.93 L299.91 1018.85 L300.13 1018.76 L300.34 1018.66 L300.56 1018.57 L300.78 1018.47 L301 1018.37 L301.21 1018.26 L301.43 1018.16 L301.65 1018.05 L301.86 1017.94 L302.08 1017.84 L302.3 1017.73 L302.52 1017.62 L302.73 1017.51 L302.95 1017.41 L303.17 1017.3 L303.39 1017.19 L303.6 1017.09 L303.82 1016.98 L304.04 1016.88 L304.25 1016.77 L304.47 1016.67 L304.69 1016.56 L304.91 1016.46 L305.12 1016.36 L305.34 1016.26 L305.56 1016.16 L305.78 1016.06 L305.99 1015.96 L306.21 1015.86 L306.43 1015.76 L306.64 1015.66 L306.86 1015.57 L307.08 1015.47 L307.3 1015.37 L307.51 1015.28 L307.73 1015.19 L307.95 1015.09 L308.17 1015 L308.38 1014.91 L308.6 1014.82 L308.82 1014.73 L309.03 1014.64 L309.25 1014.55 L309.47 1014.46 L309.69 1014.37 L309.9 1014.29 L310.99 1013.86 L312.08 1013.46 L313.16 1013.07 L314.25 1012.7 L315.34 1012.34 L316.42 1012 L317.51 1011.68 L318.6 1011.37 L319.68 1011.08 L320.77 1010.8 L321.85 1010.54 L322.94 1010.3 L324.03 1010.07 L325.11 1009.85 L326.2 1009.65 L327.29 1009.47 L328.37 1009.29 L329.46 1009.14 L330.55 1008.99 L331.63 1008.87 L332.72 1008.75 L333.8 1008.65 L334.89 1008.56 L335.98 1008.48 L337.06 1008.42 L338.15 1008.37 L339.24 1008.33 L340.32 1008.31 L341.41 1008.3 L342.5 1008.3 L343.58 1008.31 L344.67 1008.33 L345.76 1008.36 L346.84 1008.41 L347.93 1008.47 L349.01 1008.54 L350.1 1008.61 L351.19 1008.7 L352.27 1008.8 L353.36 1008.91 L354.45 1009.03 L355.53 1009.16 L356.62 1009.3 L357.71 1009.45 L358.79 1009.61 L359.88 1009.78 L360.96 1009.95 L362.05 1010.14 L363.14 1010.33 L364.22 1010.53 L365.31 1010.74 L366.4 1010.96 L367.48 1011.19 L368.57 1011.42 L369.66 1011.66 L370.74 1011.91 L371.83 1012.17 L372.92 1012.43 L374 1012.7 L375.09 1012.98 L376.17 1013.26 L377.26 1013.55 L378.35 1013.85 L379.43 1014.15 L380.52 1014.46 L381.61 1014.78 L382.69 1015.1 L383.78 1015.43 L384.87 1015.77 L385.95 1016.11 L387.04 1016.46 L388.12 1016.81 L389.21 1017.17 L390.3 1017.54 L391.38 1017.91 L392.47 1018.28 L393.56 1018.66 L394.64 1019.05 L395.73 1019.44 L396.82 1019.83 L397.9 1020.24 L398.99 1020.64 L400.08 1021.05 L401.16 1021.47 L402.25 1021.89 L403.33 1022.31 L404.42 1022.74 L405.51 1023.17 L406.59 1023.61 L407.68 1024.05 L408.77 1024.49 L409.85 1024.94 L410.94 1025.39 L412.03 1025.85 L413.11 1026.31 L414.2 1026.77 L415.28 1027.24 L416.37 1027.7 L417.46 1028.18 L418.54 1028.65 L419.63 1029.13 L420.72 1029.61 L421.8 1030.09 L422.89 1030.58 L423.98 1031.07 L425.06 1031.56 L426.15 1032.05 L427.24 1032.55 L428.32 1033.05 L429.41 1033.55 L430.49 1034.05 L431.58 1034.55 L432.67 1035.06 L433.75 1035.57 L434.84 1036.07 L435.93 1036.58 L437.01 1037.1 L438.1 1037.61 L439.19 1038.12 L440.27 1038.64 L441.36 1039.15 L442.44 1039.67 L443.53 1040.18 L444.62 1040.7 L445.7 1041.22 L446.79 1041.74 L447.88 1042.26 L448.96 1042.78 L450.05 1043.3 L451.14 1043.82 L452.22 1044.34 L453.31 1044.85 L454.4 1045.37 L455.48 1045.89 L456.57 1046.41 L457.65 1046.93 L458.74 1047.44 L459.83 1047.96 L460.91 1048.48 L462 1048.99 L463.09 1049.5 L464.17 1050.02 L465.26 1050.53 L466.35 1051.04 L467.43 1051.55 L468.52 1052.05 L469.6 1052.56 L470.69 1053.07 L471.78 1053.57 L472.86 1054.08 L473.95 1054.58 L475.04 1055.08 L476.12 1055.58 L477.21 1056.08 L478.3 1056.58 L479.38 1057.08 L480.47 1057.58 L481.56 1058.07 L482.64 1058.57 L483.73 1059.06 L484.81 1059.55 L485.9 1060.04 L486.99 1060.53 L488.07 1061.02 L489.16 1061.51 L490.25 1062 L491.33 1062.49 L492.42 1062.97 L493.51 1063.46 L494.59 1063.94 L495.68 1064.42 L496.76 1064.9 L497.85 1065.38 L498.94 1065.86 L500.02 1066.34 L501.11 1066.82 L502.2 1067.29 L503.28 1067.77 L504.37 1068.24 L505.46 1068.71 L506.54 1069.19 L507.63 1069.66 L508.72 1070.13 L509.8 1070.6 L510.89 1071.06 L511.97 1071.53 L513.06 1072 L514.15 1072.46 L515.23 1072.92 L516.32 1073.39 L517.41 1073.85 L518.49 1074.31 L519.58 1074.77 L520.67 1075.22 L521.75 1075.68 L522.84 1076.14 L523.92 1076.59 L525.01 1077.05 L526.1 1077.5 L527.18 1077.95 L528.27 1078.4 L529.36 1078.85 L530.44 1079.3 L531.53 1079.75 L532.62 1080.19 L533.7 1080.64 L534.79 1081.08 L535.88 1081.53 L536.96 1081.97 L538.05 1082.41 L539.13 1082.85 L540.22 1083.29 L541.31 1083.73 L542.39 1084.17 L543.48 1084.6 L544.57 1085.04 L545.65 1085.47 L546.74 1085.9 L547.83 1086.34 L548.91 1086.77 L550 1087.2 L551.08 1087.62 L552.17 1088.05 L553.26 1088.48 L554.34 1088.9 L555.43 1089.33 L556.52 1089.75 L557.6 1090.17 L558.69 1090.6 L559.78 1091.02 L560.86 1091.43 L561.95 1091.85 L563.04 1092.27 L564.12 1092.68 L565.21 1093.1 L566.29 1093.51 L567.38 1093.93 L568.47 1094.34 L569.55 1094.75 L570.64 1095.16 L571.73 1095.57 L572.81 1095.97 L573.9 1096.38 L574.99 1096.78 L576.07 1097.19 L577.16 1097.59 L578.24 1097.99 L579.33 1098.39 L580.42 1098.79 L581.5 1099.19 L582.59 1099.59 L583.68 1099.99 L584.76 1100.38 L585.85 1100.78 L586.94 1101.17 L588.02 1101.56 L589.11 1101.95 L590.2 1102.34 L591.28 1102.73 L592.37 1103.12 L593.45 1103.51 L594.54 1103.89 L595.63 1104.28 L596.71 1104.66 L597.8 1105.04 L598.89 1105.42 L599.97 1105.8 L601.06 1106.18 L602.15 1106.56 L603.23 1106.94 L604.32 1107.32 L605.4 1107.69 L606.49 1108.06 L607.58 1108.44 L608.66 1108.81 L609.75 1109.18 L610.84 1109.55 L611.92 1109.92 L613.01 1110.28 L614.1 1110.65 L615.18 1111.02 L616.27 1111.38 L617.36 1111.74 L618.44 1112.1 L619.53 1112.47 L620.61 1112.83 L621.7 1113.18 L622.79 1113.54 L623.87 1113.9 L624.96 1114.25 L626.05 1114.61 L627.13 1114.96 L628.22 1115.31 L629.31 1115.66 L630.39 1116.01 L631.48 1116.36 L632.56 1116.71 L633.65 1117.06 L634.74 1117.4 L635.82 1117.75 L636.91 1118.09 L638 1118.43 L639.08 1118.77 L640.17 1119.11 L641.26 1119.45 L642.34 1119.79 L643.43 1120.13 L644.52 1120.46 L645.6 1120.8 L646.69 1121.13 L647.77 1121.46 L648.86 1121.79 L649.95 1122.12 L651.03 1122.45 L652.12 1122.78 L653.21 1123.11 L654.29 1123.43 L655.38 1123.76 L656.47 1124.08 L657.55 1124.4 L658.64 1124.73 L659.72 1125.05 L660.81 1125.37 L661.9 1125.68 L662.98 1126 L664.07 1126.32 L665.16 1126.63 L666.24 1126.94 L667.33 1127.26 L668.42 1127.57 L669.5 1127.88 L670.59 1128.19 L671.68 1128.5 L672.76 1128.8 L673.85 1129.11 L674.93 1129.41 L676.02 1129.72 L677.11 1130.02 L678.19 1130.32 L679.28 1130.62 L680.37 1130.92 L681.45 1131.22 L682.54 1131.52 L683.63 1131.81 L684.71 1132.11 L685.8 1132.4 L686.88 1132.69 L687.97 1132.98 L689.06 1133.27 L690.14 1133.56 L691.23 1133.85 L692.32 1134.14 L693.4 1134.42 L694.49 1134.71 L695.58 1134.99 L696.66 1135.27 L697.75 1135.56 L698.84 1135.84 L699.92 1136.11 L701.01 1136.39 L702.09 1136.67 L703.18 1136.95 L704.27 1137.22 L705.35 1137.49 L706.44 1137.77 L707.53 1138.04 L708.61 1138.31 L709.7 1138.58 L710.79 1138.84 L711.87 1139.11 L712.96 1139.38 L714.04 1139.64 L715.13 1139.9 L716.22 1140.17 L717.3 1140.43 L718.39 1140.69 L719.48 1140.95 L720.56 1141.2 L721.65 1141.46 L722.74 1141.72 L723.82 1141.97 L724.91 1142.22 L726 1142.48 L727.08 1142.73 L728.17 1142.98 L729.25 1143.23 L730.34 1143.47 L731.43 1143.72 L732.51 1143.96 L733.6 1144.21 L734.69 1144.45 L735.77 1144.69 L736.86 1144.93 L737.95 1145.17 L739.03 1145.41 L740.12 1145.65 L741.2 1145.89 L742.29 1146.12 L743.38 1146.36 L744.46 1146.59 L745.55 1146.82 L746.64 1147.05 L747.72 1147.28 L748.81 1147.51 L749.9 1147.73 L750.98 1147.96 L752.07 1148.19 L753.16 1148.41 L754.24 1148.63 L755.33 1148.85 L756.41 1149.07 L757.5 1149.29 L758.59 1149.51 L759.67 1149.73 L760.76 1149.94 L761.85 1150.16 L762.93 1150.37 L764.02 1150.58 L765.11 1150.79 L766.19 1151 L767.28 1151.21 L768.36 1151.42 L769.45 1151.63 L770.54 1151.83 L771.62 1152.04 L772.71 1152.24 L773.8 1152.44 L774.88 1152.64 L775.97 1152.84 L777.06 1153.04 L778.14 1153.24 L779.23 1153.44 L780.32 1153.63 L781.4 1153.82 L782.49 1154.02 L783.57 1154.21 L784.66 1154.4 L785.75 1154.59 L786.83 1154.78 L787.92 1154.96 L789.01 1155.15 L790.09 1155.33 L791.18 1155.52 L792.27 1155.7 L793.35 1155.88 L794.44 1156.06 L795.52 1156.24 L796.61 1156.42 L797.7 1156.59 L798.78 1156.77 L799.87 1156.94 L800.96 1157.12 L802.04 1157.29 L803.13 1157.46 L804.22 1157.63 L805.3 1157.8 L806.39 1157.97 L807.48 1158.13 L808.56 1158.3 L809.65 1158.46 L810.73 1158.62 L811.82 1158.78 L812.91 1158.94 L813.99 1159.1 L815.08 1159.26 L816.17 1159.42 L817.25 1159.57 L818.34 1159.73 L819.43 1159.88 L820.51 1160.03 L821.6 1160.19 L822.68 1160.34 L823.77 1160.48 L824.86 1160.63 L825.94 1160.78 L827.03 1160.92 L828.12 1161.07 L829.2 1161.21 L830.29 1161.35 L831.38 1161.49 L832.46 1161.63 L833.55 1161.77 L834.64 1161.91 L835.72 1162.04 L836.81 1162.18 L837.89 1162.31 L838.98 1162.44 L840.07 1162.57 L841.15 1162.7 L842.24 1162.83 L843.33 1162.96 L844.41 1163.09 L845.5 1163.21 L846.59 1163.34 L847.67 1163.46 L848.76 1163.58 L849.84 1163.7 L850.93 1163.82 L852.02 1163.94 L853.1 1164.06 L854.19 1164.17 L855.28 1164.29 L856.36 1164.4 L857.45 1164.51 L858.54 1164.62 L859.62 1164.73 L860.71 1164.84 L861.8 1164.95 L862.88 1165.05 L863.97 1165.16 L865.05 1165.26 L866.14 1165.37 L867.23 1165.47 L868.31 1165.57 L869.4 1165.67 L870.49 1165.77 L871.57 1165.86 L872.66 1165.96 L873.75 1166.05 L874.83 1166.15 L875.92 1166.24 L877 1166.33 L878.09 1166.42 L879.18 1166.51 L880.26 1166.6 L881.35 1166.68 L882.44 1166.77 L883.52 1166.85 L884.61 1166.93 L885.7 1167.01 L886.78 1167.09 L887.87 1167.17 L888.96 1167.25 L890.04 1167.33 L891.13 1167.4 L892.21 1167.48 L893.3 1167.55 L894.39 1167.62 L895.47 1167.69 L896.56 1167.76 L897.65 1167.83 L898.73 1167.9 L899.82 1167.96 L900.91 1168.03 L901.99 1168.09 L903.08 1168.15 L904.16 1168.22 L905.25 1168.28 L906.34 1168.33 L907.42 1168.39 L908.51 1168.45 L909.6 1168.5 L910.68 1168.56 L911.77 1168.61 L912.86 1168.66 L913.94 1168.71 L915.03 1168.76 L916.12 1168.81 L917.2 1168.86 L918.29 1168.9 L919.37 1168.95 L920.46 1168.99 L921.55 1169.03 L922.63 1169.07 L923.72 1169.11 L924.81 1169.15 L925.89 1169.19 L926.98 1169.22 L928.07 1169.26 L929.15 1169.29 L930.24 1169.32 L931.32 1169.35 L932.41 1169.38 L933.5 1169.41 L934.58 1169.44 L935.67 1169.46 L936.76 1169.49 L937.84 1169.51 L938.93 1169.54 L940.02 1169.56 L941.1 1169.58 L942.19 1169.6 L943.28 1169.61 L944.36 1169.63 L945.45 1169.65 L946.53 1169.66 L947.62 1169.67 L948.71 1169.68 L949.79 1169.69 L950.88 1169.7" fill="none" stroke="#808080" stroke-width="7.5" stroke-linecap="square" stroke-linejoin="round"/>
<path d="M190.4 1189 L191.49 1189 L192.57 1189 L193.66 1189 L194.75 1189 L195.83 1189 L196.92 1189 L198 1189 L199.09 1189 L200.18 1189 L201.26 1189 L202.35 1189 L203.44 1189 L204.52 1189 L205.61 1189 L206.7 1189 L207.78 1189 L208.87 1189 L209.96 1189 L211.04 1189 L212.13 1189 L213.21 1189 L214.3 1189 L215.39 1189 L216.47 1189 L217.56 1189 L218.65 1189 L219.73 1189 L220.82 1189 L221.91 1189 L222.99 1189 L224.08 1189 L225.16 1189 L226.25 1189 L227.34 1189 L228.42 1189 L229.51 1189 L230.6 1189 L231.68 1189 L232.77 1189 L233.86 1189 L234.94 1189 L236.03 1189 L237.12 1189 L238.2 1189 L239.29 1189 L240.37 1189 L241.46 1189 L242.55 1189 L243.63 1189 L244.72 1189 L245.81 1189 L246.89 1189 L247.98 1189 L249.07 1189 L250.15 1189 L251.24 1189 L252.32 1189 L253.41 1189 L254.5 1189 L255.58 1189 L255.8 1189 L256.02 1189 L256.24 1189 L256.45 1189 L256.67 1189 L256.89 1189 L257.1 1189 L257.32 1189 L257.54 1189 L257.76 1189 L257.97 1189 L258.19 1189 L258.41 1189 L258.63 1189 L258.84 1189 L259.06 1189 L259.28 1189 L259.5 1189 L259.71 1189 L259.93 1189 L260.15 1189 L260.36 1189 L260.58 1189 L260.8 1189 L261.02 1189 L261.23 1189 L261.45 1189 L261.67 1189 L261.89 1188.99 L262.1 1188.99 L262.32 1188.99 L262.54 1188.99 L262.75 1188.99 L262.97 1188.98 L263.19 1188.98 L263.41 1188.97 L263.62 1188.97 L263.84 1188.96 L264.06 1188.95 L264.28 1188.94 L264.49 1188.93 L264.71 1188.91 L264.93 1188.9 L265.14 1188.87 L265.36 1188.85 L265.58 1188.82 L265.8 1188.78 L266.01 1188.73 L266.23 1188.68 L266.45 1188.62 L266.67 1188.54 L266.88 1188.46 L267.1 1188.35 L267.32 1188.24 L267.53 1188.1 L267.75 1187.93 L267.97 1187.75 L268.19 1187.53 L268.4 1187.28 L268.62 1186.99 L268.84 1186.65 L269.06 1186.27 L269.27 1185.84 L269.49 1185.34 L269.71 1184.78 L269.92 1184.14 L270.14 1183.41 L270.36 1182.59 L270.58 1181.68 L270.79 1180.65 L271.01 1179.49 L271.23 1178.21 L271.45 1176.78 L271.66 1175.19 L271.88 1173.44 L272.1 1171.5 L272.31 1169.37 L272.53 1167.03 L272.75 1164.47 L272.97 1161.68 L273.18 1158.64 L273.4 1155.35 L273.62 1151.78 L273.84 1147.94 L274.05 1143.81 L274.27 1139.38 L274.49 1134.64 L274.7 1129.6 L274.92 1124.24 L275.14 1118.56 L275.36 1112.57 L275.57 1106.27 L275.79 1099.66 L276.01 1092.75 L276.23 1085.55 L276.44 1078.08 L276.66 1070.36 L276.88 1062.4 L277.09 1054.22 L277.31 1045.86 L277.53 1037.33 L277.75 1028.69 L277.96 1019.95 L278.18 1011.16 L278.4 1002.36 L278.62 993.59 L278.83 984.89 L279.05 976.32 L279.27 967.9 L279.48 959.71 L279.7 951.77 L279.92 944.14 L280.14 936.87 L280.35 930 L280.57 923.57 L280.79 917.63 L281.01 912.22 L281.22 907.37 L281.44 903.12 L281.66 899.49 L281.87 896.51 L282.09 894.21 L282.31 892.59 L282.53 891.67 L282.74 891.46 L282.96 891.95 L283.18 893.15 L283.4 895.05 L283.61 897.62 L283.83 900.86 L284.05 904.74 L284.26 909.24 L284.48 914.32 L284.7 919.95 L284.92 926.09 L285.13 932.7 L285.35 939.73 L285.57 947.15 L285.79 954.91 L286 962.96 L286.22 971.25 L286.44 979.73 L286.66 988.36 L286.87 997.09 L287.09 1005.88 L287.31 1014.68 L287.52 1023.46 L287.74 1032.16 L287.96 1040.76 L288.18 1049.22 L288.39 1057.51 L288.61 1065.61 L288.83 1073.48 L289.05 1081.1 L289.26 1088.47 L289.48 1095.55 L289.7 1102.34 L289.91 1108.83 L290.13 1115 L290.35 1120.87 L290.57 1126.42 L290.78 1131.65 L291 1136.57 L291.22 1141.18 L291.44 1145.49 L291.65 1149.51 L291.87 1153.24 L292.09 1156.7 L292.3 1159.89 L292.52 1162.82 L292.74 1165.52 L292.96 1167.99 L293.17 1170.24 L293.39 1172.3 L293.61 1174.16 L293.83 1175.85 L294.04 1177.37 L294.26 1178.74 L294.48 1179.97 L294.69 1181.07 L294.91 1182.06 L295.13 1182.93 L295.35 1183.71 L295.56 1184.4 L295.78 1185.01 L296 1185.55 L296.22 1186.02 L296.43 1186.43 L296.65 1186.79 L296.87 1187.11 L297.08 1187.38 L297.3 1187.62 L297.52 1187.82 L297.74 1188 L297.95 1188.15 L298.17 1188.29 L298.39 1188.4 L298.61 1188.49 L298.82 1188.57 L299.04 1188.64 L299.26 1188.7 L299.47 1188.75 L299.69 1188.79 L299.91 1188.83 L300.13 1188.86 L300.34 1188.88 L300.56 1188.9 L300.78 1188.92 L301 1188.94 L301.21 1188.95 L301.43 1188.96 L301.65 1188.96 L301.86 1188.97 L302.08 1188.98 L302.3 1188.98 L302.52 1188.99 L302.73 1188.99 L302.95 1188.99 L303.17 1188.99 L303.39 1188.99 L303.6 1189 L303.82 1189 L304.04 1189 L304.25 1189 L304.47 1189 L304.69 1189 L304.91 1189 L305.12 1189 L305.34 1189 L305.56 1189 L305.78 1189 L305.99 1189 L306.21 1189 L306.43 1189 L306.64 1189 L306.86 1189 L307.08 1189 L307.3 1189 L307.51 1189 L307.73 1189 L307.95 1189 L308.17 1189 L308.38 1189 L308.6 1189 L308.82 1189 L309.03 1189 L309.25 1189 L309.47 1189 L309.69 1189 L309.9 1189 L310.99 1189 L312.08 1189 L313.16 1189 L314.25 1189 L315.34 1189 L316.42 1189 L317.51 1189 L318.6 1189 L319.68 1189 L320.77 1189 L321.85 1189 L322.94 1189 L324.03 1189 L325.11 1189 L326.2 1189 L327.29 1189 L328.37 1189 L329.46 1189 L330.55 1189 L331.63 1189 L332.72 1189 L333.8 1189 L334.89 1189 L335.98 1189 L337.06 1189 L338.15 1189 L339.24 1189 L340.32 1189 L341.41 1189 L342.5 1189 L343.58 1189 L344.67 1189 L345.76 1189 L346.84 1189 L347.93 1189 L349.01 1189 L350.1 1189 L351.19 1189 L352.27 1189 L353.36 1189 L354.45 1189 L355.53 1189 L356.62 1189 L357.71 1189 L358.79 1189 L359.88 1189 L360.96 1189 L362.05 1189 L363.14 1189 L364.22 1189 L365.31 1189 L366.4 1189 L367.48 1189 L368.57 1189 L369.66 1189 L370.74 1189 L371.83 1189 L372.92 1189 L374 1189 L375.09 1189 L376.17 1189 L377.26 1189 L378.35 1189 L379.43 1189 L380.52 1189 L381.61 1189 L382.69 1189 L383.78 1189 L384.87 1189 L385.95 1189 L387.04 1189 L388.12 1189 L389.21 1189 L390.3 1189 L391.38 1189 L392.47 1189 L393.56 1189 L394.64 1189 L395.73 1189 L396.82 1189 L397.9 1189 L398.99 1189 L400.08 1189 L401.16 1189 L402.25 1189 L403.33 1189 L404.42 1189 L405.51 1189 L406.59 1189 L407.68 1189 L408.77 1189 L409.85 1189 L410.94 1189 L412.03 1189 L413.11 1189 L414.2 1189 L415.28 1189 L416.37 1189 L417.46 1189 L418.54 1189 L419.63 1189 L420.72 1189 L421.8 1189 L422.89 1189 L423.98 1189 L425.06 1189 L426.15 1189 L427.24 1189 L428.32 1189 L429.41 1189 L430.49 1189 L431.58 1189 L432.67 1189 L433.75 1189 L434.84 1189 L435.93 1189 L437.01 1189 L438.1 1189 L439.19 1189 L440.27 1189 L441.36 1189 L442.44 1189 L443.53 1189 L444.62 1189 L445.7 1189 L446.79 1189 L447.88 1189 L448.96 1189 L450.05 1189 L451.14 1189 L452.22 1189 L453.31 1189 L454.4 1189 L455.48 1189 L456.57 1189 L457.65 1189 L458.74 1189 L459.83 1189 L460.91 1189 L462 1189 L463.09 1189 L464.17 1189 L465.26 1189 L466.35 1189 L467.43 1189 L468.52 1189 L469.6 1189 L470.69 1189 L471.78 1189 L472.86 1189 L473.95 1189 L475.04 1189 L476.12 1189 L477.21 1189 L478.3 1189 L479.38 1189 L480.47 1189 L481.56 1189 L482.64 1189 L483.73 1189 L484.81 1189 L485.9 1189 L486.99 1189 L488.07 1189 L489.16 1189 L490.25 1189 L491.33 1189 L492.42 1189 L493.51 1189 L494.59 1189 L495.68 1189 L496.76 1189 L497.85 1189 L498.94 1189 L500.02 1189 L501.11 1189 L502.2 1189 L503.28 1189 L504.37 1189 L505.46 1189 L506.54 1189 L507.63 1189 L508.72 1189 L509.8 1189 L510.89 1189 L511.97 1189 L513.06 1189 L514.15 1189 L515.23 1189 L516.32 1189 L517.41 1189 L518.49 1189 L519.58 1189 L520.67 1189 L521.75 1189 L522.84 1189 L523.92 1189 L525.01 1189 L526.1 1189 L527.18 1189 L528.27 1189 L529.36 1189 L530.44 1189 L531.53 1189 L532.62 1189 L533.7 1189 L534.79 1189 L535.88 1189 L536.96 1189 L538.05 1189 L539.13 1189 L540.22 1189 L541.31 1189 L542.39 1189 L543.48 1189 L544.57 1189 L545.65 1189 L546.74 1189 L547.83 1189 L548.91 1189 L550 1189 L551.08 1189 L552.17 1189 L553.26 1189 L554.34 1189 L555.43 1189 L556.52 1189 L557.6 1189 L558.69 1189 L559.78 1189 L560.86 1189 L561.95 1189 L563.04 1189 L564.12 1189 L565.21 1189 L566.29 1189 L567.38 1189 L568.47 1189 L569.55 1189 L570.64 1189 L571.73 1189 L572.81 1189 L573.9 1189 L574.99 1189 L576.07 1189 L577.16 1189 L578.24 1189 L579.33 1189 L580.42 1189 L581.5 1189 L582.59 1189 L583.68 1189 L584.76 1189 L585.85 1189 L586.94 1189 L588.02 1189 L589.11 1189 L590.2 1189 L591.28 1189 L592.37 1189 L593.45 1189 L594.54 1189 L595.63 1189 L596.71 1189 L597.8 1189 L598.89 1189 L599.97 1189 L601.06 1189 L602.15 1189 L603.23 1189 L604.32 1189 L605.4 1189 L606.49 1189 L607.58 1189 L608.66 1189 L609.75 1189 L610.84 1189 L611.92 1189 L613.01 1189 L614.1 1189 L615.18 1189 L616.27 1189 L617.36 1189 L618.44 1189 L619.53 1189 L620.61 1189 L621.7 1189 L622.79 1189 L623.87 1189 L624.96 1189 L626.05 1189 L627.13 1189 L628.22 1189 L629.31 1189 L630.39 1189 L631.48 1189 L632.56 1189 L633.65 1189 L634.74 1189 L635.82 1189 L636.91 1189 L638 1189 L639.08 1189 L640.17 1189 L641.26 1189 L642.34 1189 L643.43 1189 L644.52 1189 L645.6 1189 L646.69 1189 L647.77 1189 L648.86 1189 L649.95 1189 L651.03 1189 L652.12 1189 L653.21 1189 L654.29 1189 L655.38 1189 L656.47 1189 L657.55 1189 L658.64 1189 L659.72 1189 L660.81 1189 L661.9 1189 L662.98 1189 L664.07 1189 L665.16 1189 L666.24 1189 L667.33 1189 L668.42 1189 L669.5 1189 L670.59 1189 L671.68 1189 L672.76 1189 L673.85 1189 L674.93 1189 L676.02 1189 L677.11 1189 L678.19 1189 L679.28 1189 L680.37 1189 L681.45 1189 L682.54 1189 L683.63 1189 L684.71 1189 L685.8 1189 L686.88 1189 L687.97 1189 L689.06 1189 L690.14 1189 L691.23 1189 L692.32 1189 L693.4 1189 L694.49 1189 L695.58 1189 L696.66 1189 L697.75 1189 L698.84 1189 L699.92 1189 L701.01 1189 L702.09 1189 L703.18 1189 L704.27 1189 L705.35 1189 L706.44 1189 L707.53 1189 L708.61 1189 L709.7 1189 L710.79 1189 L711.87 1189 L712.96 1189 L714.04 1189 L715.13 1189 L716.22 1189 L717.3 1189 L718.39 1189 L719.48 1189 L720.56 1189 L721.65 1189 L722.74 1189 L723.82 1189 L724.91 1189 L726 1189 L727.08 1189 L728.17 1189 L729.25 1189 L730.34 1189 L731.43 1189 L732.51 1189 L733.6 1189 L734.69 1189 L735.77 1189 L736.86 1189 L737.95 1189 L739.03 1189 L740.12 1189 L741.2 1189 L742.29 1189 L743.38 1189 L744.46 1189 L745.55 1189 L746.64 1189 L747.72 1189 L748.81 1189 L749.9 1189 L750.98 1189 L752.07 1189 L753.16 1189 L754.24 1189 L755.33 1189 L756.41 1189 L757.5 1189 L758.59 1189 L759.67 1189 L760.76 1189 L761.85 1189 L762.93 1189 L764.02 1189 L765.11 1189 L766.19 1189 L767.28 1189 L768.36 1189 L769.45 1189 L770.54 1189 L771.62 1189 L772.71 1189 L773.8 1189 L774.88 1189 L775.97 1189 L777.06 1189 L778.14 1189 L779.23 1189 L780.32 1189 L781.4 1189 L782.49 1189 L783.57 1189 L784.66 1189 L785.75 1189 L786.83 1189 L787.92 1189 L789.01 1189 L790.09 1189 L791.18 1189 L792.27 1189 L793.35 1189 L794.44 1189 L795.52 1189 L796.61 1189 L797.7 1189 L798.78 1189 L799.87 1189 L800.96 1189 L802.04 1189 L803.13 1189 L804.22 1189 L805.3 1189 L806.39 1189 L807.48 1189 L808.56 1189 L809.65 1189 L810.73 1189 L811.82 1189 L812.91 1189 L813.99 1189 L815.08 1189 L816.17 1189 L817.25 1189 L818.34 1189 L819.43 1189 L820.51 1189 L821.6 1189 L822.68 1189 L823.77 1189 L824.86 1189 L825.94 1189 L827.03 1189 L828.12 1189 L829.2 1189 L830.29 1189 L831.38 1189 L832.46 1189 L833.55 1189 L834.64 1189 L835.72 1189 L836.81 1189 L837.89 1189 L838.98 1189 L840.07 1189 L841.15 1189 L842.24 1189 L843.33 1189 L844.41 1189 L845.5 1189 L846.59 1189 L847.67 1189 L848.76 1189 L849.84 1189 L850.93 1189 L852.02 1189 L853.1 1189 L854.19 1189 L855.28 1189 L856.36 1189 L857.45 1189 L858.54 1189 L859.62 1189 L860.71 1189 L861.8 1189 L862.88 1189 L863.97 1189 L865.05 1189 L866.14 1189 L867.23 1189 L868.31 1189 L869.4 1189 L870.49 1189 L871.57 1189 L872.66 1189 L873.75 1189 L874.83 1189 L875.92 1189 L877 1189 L878.09 1189 L879.18 1189 L880.26 1189 L881.35 1189 L882.44 1189 L883.52 1189 L884.61 1189 L885.7 1189 L886.78 1189 L887.87 1189 L888.96 1189 L890.04 1189 L891.13 1189 L892.21 1189 L893.3 1189 L894.39 1189 L895.47 1189 L896.56 1189 L897.65 1189 L898.73 1189 L899.82 1189 L900.91 1189 L901.99 1189 L903.08 1189 L904.16 1189 L905.25 1189 L906.34 1189 L907.42 1189 L908.51 1189 L909.6 1189 L910.68 1189 L911.77 1189 L912.86 1189 L913.94 1189 L915.03 1189 L916.12 1189 L917.2 1189 L918.29 1189 L919.37 1189 L920.46 1189 L921.55 1189 L922.63 1189 L923.72 1189 L924.81 1189 L925.89 1189 L926.98 1189 L928.07 1189 L929.15 1189 L930.24 1189 L931.32 1189 L932.41 1189 L933.5 1189 L934.58 1189 L935.67 1189 L936.76 1189 L937.84 1189 L938.93 1189 L940.02 1189 L941.1 1189 L942.19 1189 L943.28 1189 L944.36 1189 L945.45 1189 L946.53 1189 L947.62 1189 L948.71 1189 L949.79 1189 L950.88 1189" fill="none" stroke="#ff1493" stroke-width="8" stroke-linecap="square" stroke-linejoin="round"/>
<path d="M190.4 1228.54 L191.49 1223.6 L192.57 1218.81 L193.66 1214.18 L194.75 1209.69 L195.83 1205.35 L196.92 1201.13 L198 1197.04 L199.09 1193.06 L200.18 1189.19 L201.26 1185.43 L202.35 1181.76 L203.44 1178.18 L204.52 1174.68 L205.61 1171.25 L206.7 1167.89 L207.78 1164.59 L208.87 1161.34 L209.96 1158.14 L211.04 1155 L212.13 1151.91 L213.21 1148.86 L214.3 1145.87 L215.39 1142.92 L216.47 1140.02 L217.56 1137.17 L218.65 1134.37 L219.73 1131.61 L220.82 1128.89 L221.91 1126.22 L222.99 1123.59 L224.08 1121.01 L225.16 1118.46 L226.25 1115.96 L227.34 1113.5 L228.42 1111.08 L229.51 1108.7 L230.6 1106.35 L231.68 1104.05 L232.77 1101.78 L233.86 1099.54 L234.94 1097.35 L236.03 1095.18 L237.12 1093.05 L238.2 1090.96 L239.29 1088.9 L240.37 1086.87 L241.46 1084.88 L242.55 1082.91 L243.63 1080.99 L244.72 1079.09 L245.81 1077.22 L246.89 1075.39 L247.98 1073.59 L249.07 1071.82 L250.15 1070.08 L251.24 1068.37 L252.32 1066.7 L253.41 1065.05 L254.5 1063.43 L255.58 1061.84 L255.8 1061.53 L256.02 1061.22 L256.24 1060.91 L256.45 1060.59 L256.67 1060.29 L256.89 1059.98 L257.1 1059.67 L257.32 1059.36 L257.54 1059.06 L257.76 1058.76 L257.97 1058.45 L258.19 1058.15 L258.41 1057.85 L258.63 1057.55 L258.84 1057.26 L259.06 1056.96 L259.28 1056.66 L259.5 1056.37 L259.71 1056.08 L259.93 1055.78 L260.15 1055.49 L260.36 1055.2 L260.58 1054.91 L260.8 1054.63 L261.02 1054.34 L261.23 1054.05 L261.45 1053.77 L261.67 1053.49 L261.89 1053.2 L262.1 1052.92 L262.32 1052.64 L262.54 1052.37 L262.75 1052.09 L262.97 1051.81 L263.19 1051.54 L263.41 1051.26 L263.62 1050.99 L263.84 1050.72 L264.06 1050.44 L264.28 1050.17 L264.49 1049.91 L264.71 1049.64 L264.93 1049.37 L265.14 1049.11 L265.36 1048.84 L265.58 1048.58 L265.8 1048.32 L266.01 1048.05 L266.23 1047.79 L266.45 1047.53 L266.67 1047.28 L266.88 1047.02 L267.1 1046.76 L267.32 1046.51 L267.53 1046.25 L267.75 1046 L267.97 1045.75 L268.19 1045.5 L268.4 1045.25 L268.62 1045 L268.84 1044.75 L269.06 1044.51 L269.27 1044.26 L269.49 1044.02 L269.71 1043.77 L269.92 1043.53 L270.14 1043.29 L270.36 1043.05 L270.58 1042.81 L270.79 1042.57 L271.01 1042.33 L271.23 1042.1 L271.45 1041.86 L271.66 1041.63 L271.88 1041.4 L272.1 1041.16 L272.31 1040.93 L272.53 1040.7 L272.75 1040.47 L272.97 1040.25 L273.18 1040.02 L273.4 1039.79 L273.62 1039.57 L273.84 1039.34 L274.05 1039.12 L274.27 1038.9 L274.49 1038.68 L274.7 1038.46 L274.92 1038.24 L275.14 1038.02 L275.36 1037.8 L275.57 1037.58 L275.79 1037.37 L276.01 1037.16 L276.23 1036.94 L276.44 1036.73 L276.66 1036.52 L276.88 1036.31 L277.09 1036.1 L277.31 1035.89 L277.53 1035.68 L277.75 1035.47 L277.96 1035.27 L278.18 1035.06 L278.4 1034.86 L278.62 1034.66 L278.83 1034.46 L279.05 1034.25 L279.27 1034.05 L279.48 1033.86 L279.7 1033.66 L279.92 1033.46 L280.14 1033.26 L280.35 1033.07 L280.57 1032.87 L280.79 1032.68 L281.01 1032.49 L281.22 1032.3 L281.44 1032.11 L281.66 1031.92 L281.87 1031.73 L282.09 1031.54 L282.31 1031.35 L282.53 1031.17 L282.74 1030.98 L282.96 1030.8 L283.18 1030.61 L283.4 1030.43 L283.61 1030.25 L283.83 1030.07 L284.05 1029.89 L284.26 1029.71 L284.48 1029.53 L284.7 1029.35 L284.92 1029.18 L285.13 1029 L285.35 1028.83 L285.57 1028.65 L285.79 1028.48 L286 1028.31 L286.22 1028.14 L286.44 1027.97 L286.66 1027.8 L286.87 1027.63 L287.09 1027.46 L287.31 1027.29 L287.52 1027.13 L287.74 1026.96 L287.96 1026.8 L288.18 1026.63 L288.39 1026.47 L288.61 1026.31 L288.83 1026.15 L289.05 1025.99 L289.26 1025.83 L289.48 1025.67 L289.7 1025.51 L289.91 1025.36 L290.13 1025.2 L290.35 1025.05 L290.57 1024.89 L290.78 1024.74 L291 1024.59 L291.22 1024.43 L291.44 1024.28 L291.65 1024.13 L291.87 1023.98 L292.09 1023.84 L292.3 1023.69 L292.52 1023.54 L292.74 1023.4 L292.96 1023.25 L293.17 1023.11 L293.39 1022.96 L293.61 1022.82 L293.83 1022.68 L294.04 1022.54 L294.26 1022.4 L294.48 1022.26 L294.69 1022.12 L294.91 1021.98 L295.13 1021.84 L295.35 1021.7 L295.56 1021.57 L295.78 1021.43 L296 1021.3 L296.22 1021.17 L296.43 1021.03 L296.65 1020.9 L296.87 1020.77 L297.08 1020.64 L297.3 1020.51 L297.52 1020.38 L297.74 1020.26 L297.95 1020.13 L298.17 1020 L298.39 1019.88 L298.61 1019.75 L298.82 1019.63 L299.04 1019.5 L299.26 1019.38 L299.47 1019.26 L299.69 1019.14 L299.91 1019.02 L300.13 1018.9 L300.34 1018.78 L300.56 1018.66 L300.78 1018.55 L301 1018.43 L301.21 1018.31 L301.43 1018.2 L301.65 1018.08 L301.86 1017.97 L302.08 1017.86 L302.3 1017.75 L302.52 1017.64 L302.73 1017.53 L302.95 1017.42 L303.17 1017.31 L303.39 1017.2 L303.6 1017.09 L303.82 1016.98 L304.04 1016.88 L304.25 1016.77 L304.47 1016.67 L304.69 1016.56 L304.91 1016.46 L305.12 1016.36 L305.34 1016.26 L305.56 1016.16 L305.78 1016.06 L305.99 1015.96 L306.21 1015.86 L306.43 1015.76 L306.64 1015.66 L306.86 1015.57 L307.08 1015.47 L307.3 1015.38 L307.51 1015.28 L307.73 1015.19 L307.95 1015.09 L308.17 1015 L308.38 1014.91 L308.6 1014.82 L308.82 1014.73 L309.03 1014.64 L309.25 1014.55 L309.47 1014.46 L309.69 1014.37 L309.9 1014.29 L310.99 1013.86 L312.08 1013.46 L313.16 1013.07 L314.25 1012.7 L315.34 1012.34 L316.42 1012 L317.51 1011.68 L318.6 1011.37 L319.68 1011.08 L320.77 1010.8 L321.85 1010.54 L322.94 1010.3 L324.03 1010.07 L325.11 1009.85 L326.2 1009.65 L327.29 1009.47 L328.37 1009.29 L329.46 1009.14 L330.55 1008.99 L331.63 1008.87 L332.72 1008.75 L333.8 1008.65 L334.89 1008.56 L335.98 1008.48 L337.06 1008.42 L338.15 1008.37 L339.24 1008.33 L340.32 1008.31 L341.41 1008.3 L342.5 1008.3 L343.58 1008.31 L344.67 1008.33 L345.76 1008.36 L346.84 1008.41 L347.93 1008.47 L349.01 1008.54 L350.1 1008.61 L351.19 1008.7 L352.27 1008.8 L353.36 1008.91 L354.45 1009.03 L355.53 1009.16 L356.62 1009.3 L357.71 1009.45 L358.79 1009.61 L359.88 1009.78 L360.96 1009.95 L362.05 1010.14 L363.14 1010.33 L364.22 1010.53 L365.31 1010.74 L366.4 1010.96 L367.48 1011.19 L368.57 1011.42 L369.66 1011.66 L370.74 1011.91 L371.83 1012.17 L372.92 1012.43 L374 1012.7 L375.09 1012.98 L376.17 1013.26 L377.26 1013.55 L378.35 1013.85 L379.43 1014.15 L380.52 1014.46 L381.61 1014.78 L382.69 1015.1 L383.78 1015.43 L384.87 1015.77 L385.95 1016.11 L387.04 1016.46 L388.12 1016.81 L389.21 1017.17 L390.3 1017.54 L391.38 1017.91 L392.47 1018.28 L393.56 1018.66 L394.64 1019.05 L395.73 1019.44 L396.82 1019.83 L397.9 1020.24 L398.99 1020.64 L400.08 1021.05 L401.16 1021.47 L402.25 1021.89 L403.33 1022.31 L404.42 1022.74 L405.51 1023.17 L406.59 1023.61 L407.68 1024.05 L408.77 1024.49 L409.85 1024.94 L410.94 1025.39 L412.03 1025.85 L413.11 1026.31 L414.2 1026.77 L415.28 1027.24 L416.37 1027.7 L417.46 1028.18 L418.54 1028.65 L419.63 1029.13 L420.72 1029.61 L421.8 1030.09 L422.89 1030.58 L423.98 1031.07 L425.06 1031.56 L426.15 1032.05 L427.24 1032.55 L428.32 1033.05 L429.41 1033.55 L430.49 1034.05 L431.58 1034.55 L432.67 1035.06 L433.75 1035.57 L434.84 1036.07 L435.93 1036.58 L437.01 1037.1 L438.1 1037.61 L439.19 1038.12 L440.27 1038.64 L441.36 1039.15 L442.44 1039.67 L443.53 1040.18 L444.62 1040.7 L445.7 1041.22 L446.79 1041.74 L447.88 1042.26 L448.96 1042.78 L450.05 1043.3 L451.14 1043.82 L452.22 1044.34 L453.31 1044.85 L454.4 1045.37 L455.48 1045.89 L456.57 1046.41 L457.65 1046.93 L458.74 1047.44 L459.83 1047.96 L460.91 1048.48 L462 1048.99 L463.09 1049.5 L464.17 1050.02 L465.26 1050.53 L466.35 1051.04 L467.43 1051.55 L468.52 1052.05 L469.6 1052.56 L470.69 1053.07 L471.78 1053.57 L472.86 1054.08 L473.95 1054.58 L475.04 1055.08 L476.12 1055.58 L477.21 1056.08 L478.3 1056.58 L479.38 1057.08 L480.47 1057.58 L481.56 1058.07 L482.64 1058.57 L483.73 1059.06 L484.81 1059.55 L485.9 1060.04 L486.99 1060.53 L488.07 1061.02 L489.16 1061.51 L490.25 1062 L491.33 1062.49 L492.42 1062.97 L493.51 1063.46 L494.59 1063.94 L495.68 1064.42 L496.76 1064.9 L497.85 1065.38 L498.94 1065.86 L500.02 1066.34 L501.11 1066.82 L502.2 1067.29 L503.28 1067.77 L504.37 1068.24 L505.46 1068.71 L506.54 1069.19 L507.63 1069.66 L508.72 1070.13 L509.8 1070.6 L510.89 1071.06 L511.97 1071.53 L513.06 1072 L514.15 1072.46 L515.23 1072.92 L516.32 1073.39 L517.41 1073.85 L518.49 1074.31 L519.58 1074.77 L520.67 1075.22 L521.75 1075.68 L522.84 1076.14 L523.92 1076.59 L525.01 1077.05 L526.1 1077.5 L527.18 1077.95 L528.27 1078.4 L529.36 1078.85 L530.44 1079.3 L531.53 1079.75 L532.62 1080.19 L533.7 1080.64 L534.79 1081.08 L535.88 1081.53 L536.96 1081.97 L538.05 1082.41 L539.13 1082.85 L540.22 1083.29 L541.31 1083.73 L542.39 1084.17 L543.48 1084.6 L544.57 1085.04 L545.65 1085.47 L546.74 1085.9 L547.83 1086.34 L548.91 1086.77 L550 1087.2 L551.08 1087.62 L552.17 1088.05 L553.26 1088.48 L554.34 1088.9 L555.43 1089.33 L556.52 1089.75 L557.6 1090.17 L558.69 1090.6 L559.78 1091.02 L560.86 1091.43 L561.95 1091.85 L563.04 1092.27 L564.12 1092.68 L565.21 1093.1 L566.29 1093.51 L567.38 1093.93 L568.47 1094.34 L569.55 1094.75 L570.64 1095.16 L571.73 1095.57 L572.81 1095.97 L573.9 1096.38 L574.99 1096.78 L576.07 1097.19 L577.16 1097.59 L578.24 1097.99 L579.33 1098.39 L580.42 1098.79 L581.5 1099.19 L582.59 1099.59 L583.68 1099.99 L584.76 1100.38 L585.85 1100.78 L586.94 1101.17 L588.02 1101.56 L589.11 1101.95 L590.2 1102.34 L591.28 1102.73 L592.37 1103.12 L593.45 1103.51 L594.54 1103.89 L595.63 1104.28 L596.71 1104.66 L597.8 1105.04 L598.89 1105.42 L599.97 1105.8 L601.06 1106.18 L602.15 1106.56 L603.23 1106.94 L604.32 1107.32 L605.4 1107.69 L606.49 1108.06 L607.58 1108.44 L608.66 1108.81 L609.75 1109.18 L610.84 1109.55 L611.92 1109.92 L613.01 1110.28 L614.1 1110.65 L615.18 1111.02 L616.27 1111.38 L617.36 1111.74 L618.44 1112.1 L619.53 1112.47 L620.61 1112.83 L621.7 1113.18 L622.79 1113.54 L623.87 1113.9 L624.96 1114.25 L626.05 1114.61 L627.13 1114.96 L628.22 1115.31 L629.31 1115.66 L630.39 1116.01 L631.48 1116.36 L632.56 1116.71 L633.65 1117.06 L634.74 1117.4 L635.82 1117.75 L636.91 1118.09 L638 1118.43 L639.08 1118.77 L640.17 1119.11 L641.26 1119.45 L642.34 1119.79 L643.43 1120.13 L644.52 1120.46 L645.6 1120.8 L646.69 1121.13 L647.77 1121.46 L648.86 1121.79 L649.95 1122.12 L651.03 1122.45 L652.12 1122.78 L653.21 1123.11 L654.29 1123.43 L655.38 1123.76 L656.47 1124.08 L657.55 1124.4 L658.64 1124.73 L659.72 1125.05 L660.81 1125.37 L661.9 1125.68 L662.98 1126 L664.07 1126.32 L665.16 1126.63 L666.24 1126.94 L667.33 1127.26 L668.42 1127.57 L669.5 1127.88 L670.59 1128.19 L671.68 1128.5 L672.76 1128.8 L673.85 1129.11 L674.93 1129.41 L676.02 1129.72 L677.11 1130.02 L678.19 1130.32 L679.28 1130.62 L680.37 1130.92 L681.45 1131.22 L682.54 1131.52 L683.63 1131.81 L684.71 1132.11 L685.8 1132.4 L686.88 1132.69 L687.97 1132.98 L689.06 1133.27 L690.14 1133.56 L691.23 1133.85 L692.32 1134.14 L693.4 1134.42 L694.49 1134.71 L695.58 1134.99 L696.66 1135.27 L697.75 1135.56 L698.84 1135.84 L699.92 1136.11 L701.01 1136.39 L702.09 1136.67 L703.18 1136.95 L704.27 1137.22 L705.35 1137.49 L706.44 1137.77 L707.53 1138.04 L708.61 1138.31 L709.7 1138.58 L710.79 1138.84 L711.87 1139.11 L712.96 1139.38 L714.04 1139.64 L715.13 1139.9 L716.22 1140.17 L717.3 1140.43 L718.39 1140.69 L719.48 1140.95 L720.56 1141.2 L721.65 1141.46 L722.74 1141.72 L723.82 1141.97 L724.91 1142.22 L726 1142.48 L727.08 1142.73 L728.17 1142.98 L729.25 1143.23 L730.34 1143.47 L731.43 1143.72 L732.51 1143.96 L733.6 1144.21 L734.69 1144.45 L735.77 1144.69 L736.86 1144.93 L737.95 1145.17 L739.03 1145.41 L740.12 1145.65 L741.2 1145.89 L742.29 1146.12 L743.38 1146.36 L744.46 1146.59 L745.55 1146.82 L746.64 1147.05 L747.72 1147.28 L748.81 1147.51 L749.9 1147.73 L750.98 1147.96 L752.07 1148.19 L753.16 1148.41 L754.24 1148.63 L755.33 1148.85 L756.41 1149.07 L757.5 1149.29 L758.59 1149.51 L759.67 1149.73 L760.76 1149.94 L761.85 1150.16 L762.93 1150.37 L764.02 1150.58 L765.11 1150.79 L766.19 1151 L767.28 1151.21 L768.36 1151.42 L769.45 1151.63 L770.54 1151.83 L771.62 1152.04 L772.71 1152.24 L773.8 1152.44 L774.88 1152.64 L775.97 1152.84 L777.06 1153.04 L778.14 1153.24 L779.23 1153.44 L780.32 1153.63 L781.4 1153.82 L782.49 1154.02 L783.57 1154.21 L784.66 1154.4 L785.75 1154.59 L786.83 1154.78 L787.92 1154.96 L789.01 1155.15 L790.09 1155.33 L791.18 1155.52 L792.27 1155.7 L793.35 1155.88 L794.44 1156.06 L795.52 1156.24 L796.61 1156.42 L797.7 1156.59 L798.78 1156.77 L799.87 1156.94 L800.96 1157.12 L802.04 1157.29 L803.13 1157.46 L804.22 1157.63 L805.3 1157.8 L806.39 1157.97 L807.48 1158.13 L808.56 1158.3 L809.65 1158.46 L810.73 1158.62 L811.82 1158.78 L812.91 1158.94 L813.99 1159.1 L815.08 1159.26 L816.17 1159.42 L817.25 1159.57 L818.34 1159.73 L819.43 1159.88 L820.51 1160.03 L821.6 1160.19 L822.68 1160.34 L823.77 1160.48 L824.86 1160.63 L825.94 1160.78 L827.03 1160.92 L828.12 1161.07 L829.2 1161.21 L830.29 1161.35 L831.38 1161.49 L832.46 1161.63 L833.55 1161.77 L834.64 1161.91 L835.72 1162.04 L836.81 1162.18 L837.89 1162.31 L838.98 1162.44 L840.07 1162.57 L841.15 1162.7 L842.24 1162.83 L843.33 1162.96 L844.41 1163.09 L845.5 1163.21 L846.59 1163.34 L847.67 1163.46 L848.76 1163.58 L849.84 1163.7 L850.93 1163.82 L852.02 1163.94 L853.1 1164.06 L854.19 1164.17 L855.28 1164.29 L856.36 1164.4 L857.45 1164.51 L858.54 1164.62 L859.62 1164.73 L860.71 1164.84 L861.8 1164.95 L862.88 1165.05 L863.97 1165.16 L865.05 1165.26 L866.14 1165.37 L867.23 1165.47 L868.31 1165.57 L869.4 1165.67 L870.49 1165.77 L871.57 1165.86 L872.66 1165.96 L873.75 1166.05 L874.83 1166.15 L875.92 1166.24 L877 1166.33 L878.09 1166.42 L879.18 1166.51 L880.26 1166.6 L881.35 1166.68 L882.44 1166.77 L883.52 1166.85 L884.61 1166.93 L885.7 1167.01 L886.78 1167.09 L887.87 1167.17 L888.96 1167.25 L890.04 1167.33 L891.13 1167.4 L892.21 1167.48 L893.3 1167.55 L894.39 1167.62 L895.47 1167.69 L896.56 1167.76 L897.65 1167.83 L898.73 1167.9 L899.82 1167.96 L900.91 1168.03 L901.99 1168.09 L903.08 1168.15 L904.16 1168.22 L905.25 1168.28 L906.34 1168.33 L907.42 1168.39 L908.51 1168.45 L909.6 1168.5 L910.68 1168.56 L911.77 1168.61 L912.86 1168.66 L913.94 1168.71 L915.03 1168.76 L916.12 1168.81 L917.2 1168.86 L918.29 1168.9 L919.37 1168.95 L920.46 1168.99 L921.55 1169.03 L922.63 1169.07 L923.72 1169.11 L924.81 1169.15 L925.89 1169.19 L926.98 1169.22 L928.07 1169.26 L929.15 1169.29 L930.24 1169.32 L931.32 1169.35 L932.41 1169.38 L933.5 1169.41 L934.58 1169.44 L935.67 1169.46 L936.76 1169.49 L937.84 1169.51 L938.93 1169.54 L940.02 1169.56 L941.1 1169.58 L942.19 1169.6 L943.28 1169.61 L944.36 1169.63 L945.45 1169.65 L946.53 1169.66 L947.62 1169.67 L948.71 1169.68 L949.79 1169.69 L950.88 1169.7" fill="none" stroke="#483d8b" stroke-width="10" stroke-dasharray="37 16" stroke-linejoin="round"/>
<path d="M282.7 1252.7 V709.3" stroke="#9467bd" stroke-width="3.75" stroke-dasharray="3.75 6.19" stroke-dashoffset="0" fill="none"/>
<rect x="152.7" y="709.3" width="836.6" height="543.4" fill="none" stroke="#000" stroke-width="2.3"/>
<path d="M190.4 1252.7 v8.75M299.04 1252.7 v8.75M407.68 1252.7 v8.75M516.32 1252.7 v8.75M624.96 1252.7 v8.75M733.6 1252.7 v8.75M842.24 1252.7 v8.75M950.88 1252.7 v8.75M152.7 1189 h-8.75M152.7 1120.28 h-8.75M152.7 1051.56 h-8.75M152.7 982.84 h-8.75M152.7 914.12 h-8.75M152.7 845.4 h-8.75M152.7 776.68 h-8.75" stroke="#000" stroke-width="2.1" fill="none"/>
<text x="190.4" y="1289" font-size="25" text-anchor="middle" >0</text>
<text x="299.04" y="1289" font-size="25" text-anchor="middle" >1000</text>
<text x="407.68" y="1289" font-size="25" text-anchor="middle" >2000</text>
<text x="516.32" y="1289" font-size="25" text-anchor="middle" >3000</text>
<text x="624.96" y="1289" font-size="25" text-anchor="middle" >4000</text>
<text x="733.6" y="1289" font-size="25" text-anchor="middle" >5000</text>
<text x="842.24" y="1289" font-size="25" text-anchor="middle" >6000</text>
<text x="950.88" y="1289" font-size="25" text-anchor="middle" >7000</text>
<text x="135.2" y="1198.4" font-size="25" text-anchor="end" >0</text>
<text x="135.2" y="1129.68" font-size="25" text-anchor="end" >100</text>
<text x="135.2" y="1060.96" font-size="25" text-anchor="end" >200</text>
<text x="135.2" y="992.24" font-size="25" text-anchor="end" >300</text>
<text x="135.2" y="923.52" font-size="25" text-anchor="end" >400</text>
<text x="135.2" y="854.8" font-size="25" text-anchor="end" >500</text>
<text x="135.2" y="786.08" font-size="25" text-anchor="end" >600</text>
<text x="359.2" y="753.9" font-size="35" text-anchor="start" >d = 849.6 pc</text>
<text x="470.7" y="1353.4" font-size="45" text-anchor="middle" >Distance (pc)</text>
<text transform="translate(70.8 992.9) rotate(-90)" font-size="45" text-anchor="middle">N</text>
</g>
<g id="p3">
<g shape-rendering="crispEdges">
<rect x="184.54" y="1608.3" width="31.27" height="11.1" fill="#f7fbff"/>
<rect x="308.42" y="1608.3" width="31.27" height="11.1" fill="#d9e8f5"/>
<rect x="339.39" y="1608.3" width="31.27" height="11.1" fill="#f7fbff"/>
<rect x="370.36" y="1608.3" width="31.27" height="11.1" fill="#e3eef9"/>
<rect x="401.33" y="1608.3" width="31.27" height="11.1" fill="#f7fbff"/>
<rect x="432.3" y="1608.3" width="31.27" height="11.1" fill="#d0e1f2"/>
<rect x="494.24" y="1608.3" width="31.27" height="11.1" fill="#d9e8f5"/>
<rect x="525.21" y="1608.3" width="31.27" height="11.1" fill="#edf5fc"/>
<rect x="556.18" y="1608.3" width="31.27" height="11.1" fill="#d9e8f5"/>
<rect x="587.15" y="1608.3" width="31.27" height="11.1" fill="#dbe9f6"/>
<rect x="649.09" y="1608.3" width="31.27" height="11.1" fill="#e3eef9"/>
<rect x="680.06" y="1608.3" width="31.27" height="11.1" fill="#f7fbff"/>
<rect x="711.03" y="1608.3" width="10.47" height="11.1" fill="#f7fbff"/>
<rect x="153.57" y="1619.1" width="31.27" height="18.35" fill="#f7fbff"/>
<rect x="215.51" y="1619.1" width="31.27" height="18.35" fill="#d9e8f5"/>
<rect x="246.48" y="1619.1" width="31.27" height="18.35" fill="#e5eff9"/>
<rect x="277.45" y="1619.1" width="31.27" height="18.35" fill="#e5eff9"/>
<rect x="308.42" y="1619.1" width="31.27" height="18.35" fill="#e5eff9"/>
<rect x="339.39" y="1619.1" width="31.27" height="18.35" fill="#f7fbff"/>
<rect x="370.36" y="1619.1" width="31.27" height="18.35" fill="#d2e3f3"/>
<rect x="401.33" y="1619.1" width="31.27" height="18.35" fill="#c6dbef"/>
<rect x="432.3" y="1619.1" width="31.27" height="18.35" fill="#ccdff1"/>
<rect x="463.27" y="1619.1" width="31.27" height="18.35" fill="#e5eff9"/>
<rect x="494.24" y="1619.1" width="31.27" height="18.35" fill="#d9e8f5"/>
<rect x="525.21" y="1619.1" width="31.27" height="18.35" fill="#e5eff9"/>
<rect x="556.18" y="1619.1" width="31.27" height="18.35" fill="#f7fbff"/>
<rect x="587.15" y="1619.1" width="31.27" height="18.35" fill="#d3e4f3"/>
<rect x="680.06" y="1619.1" width="31.27" height="18.35" fill="#f7fbff"/>
<rect x="711.03" y="1619.1" width="10.47" height="18.35" fill="#f7fbff"/>
<rect x="122.6" y="1637.15" width="31.27" height="18.35" fill="#e3eef9"/>
<rect x="215.51" y="1637.15" width="31.27" height="18.35" fill="#f7fbff"/>
<rect x="246.48" y="1637.15" width="31.27" height="18.35" fill="#f7fbff"/>
<rect x="277.45" y="1637.15" width="31.27" height="18.35" fill="#e5eff9"/>
<rect x="308.42" y="1637.15" width="31.27" height="18.35" fill="#d9e8f5"/>
<rect x="339.39" y="1637.15" width="31.27" height="18.35" fill="#c8dcf0"/>
<rect x="370.36" y="1637.15" width="31.27" height="18.35" fill="#bcd7ec"/>
<rect x="401.33" y="1637.15" width="31.27" height="18.35" fill="#a9cfe5"/>
<rect x="432.3" y="1637.15" width="31.27" height="18.35" fill="#bcd7ec"/>
<rect x="463.27" y="1637.15" width="31.27" height="18.35" fill="#b0d1e7"/>
<rect x="494.24" y="1637.15" width="31.27" height="18.35" fill="#d2e3f3"/>
<rect x="525.21" y="1637.15" width="31.27" height="18.35" fill="#e5eff9"/>
<rect x="556.18" y="1637.15" width="31.27" height="18.35" fill="#f7fbff"/>
<rect x="587.15" y="1637.15" width="31.27" height="18.35" fill="#e5eff9"/>
<rect x="618.12" y="1637.15" width="31.27" height="18.35" fill="#e5eff9"/>
<rect x="122.6" y="1655.2" width="31.27" height="18.35" fill="#f7fbff"/>
<rect x="277.45" y="1655.2" width="31.27" height="18.35" fill="#f7fbff"/>
<rect x="308.42" y="1655.2" width="31.27" height="18.35" fill="#d3e4f3"/>
<rect x="339.39" y="1655.2" width="31.27" height="18.35" fill="#c6dbef"/>
<rect x="370.36" y="1655.2" width="31.27" height="18.35" fill="#b0d1e7"/>
<rect x="401.33" y="1655.2" width="31.27" height="18.35" fill="#a0cbe2"/>
<rect x="432.3" y="1655.2" width="31.27" height="18.35" fill="#98c7e0"/>
<rect x="463.27" y="1655.2" width="31.27" height="18.35" fill="#a3cce3"/>
<rect x="494.24" y="1655.2" width="31.27" height="18.35" fill="#ccdff1"/>
<rect x="525.21" y="1655.2" width="31.27" height="18.35" fill="#d9e8f5"/>
<rect x="556.18" y="1655.2" width="31.27" height="18.35" fill="#e5eff9"/>
<rect x="587.15" y="1655.2" width="31.27" height="18.35" fill="#e5eff9"/>
<rect x="618.12" y="1655.2" width="31.27" height="18.35" fill="#e5eff9"/>
<rect x="649.09" y="1655.2" width="31.27" height="18.35" fill="#f7fbff"/>
<rect x="680.06" y="1655.2" width="31.27" height="18.35" fill="#f7fbff"/>
<rect x="215.51" y="1673.25" width="31.27" height="18.35" fill="#f7fbff"/>
<rect x="246.48" y="1673.25" width="31.27" height="18.35" fill="#d9e8f5"/>
<rect x="277.45" y="1673.25" width="31.27" height="18.35" fill="#d9e8f5"/>
<rect x="308.42" y="1673.25" width="31.27" height="18.35" fill="#d3e4f3"/>
<rect x="339.39" y="1673.25" width="31.27" height="18.35" fill="#c6dbef"/>
<rect x="370.36" y="1673.25" width="31.27" height="18.35" fill="#a3cce3"/>
<rect x="401.33" y="1673.25" width="31.27" height="18.35" fill="#6fb0d7"/>
<rect x="432.3" y="1673.25" width="31.27" height="18.35" fill="#64aad3"/>
<rect x="463.27" y="1673.25" width="31.27" height="18.35" fill="#7fb9da"/>
<rect x="494.24" y="1673.25" width="31.27" height="18.35" fill="#acd0e6"/>
<rect x="525.21" y="1673.25" width="31.27" height="18.35" fill="#c6dbef"/>
<rect x="556.18" y="1673.25" width="31.27" height="18.35" fill="#e5eff9"/>
<rect x="587.15" y="1673.25" width="31.27" height="18.35" fill="#e5eff9"/>
<rect x="618.12" y="1673.25" width="31.27" height="18.35" fill="#e5eff9"/>
<rect x="649.09" y="1673.25" width="31.27" height="18.35" fill="#f7fbff"/>
<rect x="184.54" y="1691.3" width="31.27" height="18.35" fill="#f7fbff"/>
<rect x="246.48" y="1691.3" width="31.27" height="18.35" fill="#f7fbff"/>
<rect x="277.45" y="1691.3" width="31.27" height="18.35" fill="#d9e8f5"/>
<rect x="308.42" y="1691.3" width="31.27" height="18.35" fill="#c3daee"/>
<rect x="339.39" y="1691.3" width="31.27" height="18.35" fill="#b0d1e7"/>
<rect x="370.36" y="1691.3" width="31.27" height="18.35" fill="#7bb7da"/>
<rect x="401.33" y="1691.3" width="31.27" height="18.35" fill="#4a98c9"/>
<rect x="432.3" y="1691.3" width="31.27" height="18.35" fill="#3b8bc3"/>
<rect x="463.27" y="1691.3" width="31.27" height="18.35" fill="#5ea5d1"/>
<rect x="494.24" y="1691.3" width="31.27" height="18.35" fill="#94c4df"/>
<rect x="525.21" y="1691.3" width="31.27" height="18.35" fill="#b6d4e9"/>
<rect x="556.18" y="1691.3" width="31.27" height="18.35" fill="#d7e7f5"/>
<rect x="587.15" y="1691.3" width="31.27" height="18.35" fill="#f7fbff"/>
<rect x="618.12" y="1691.3" width="31.27" height="18.35" fill="#dbe9f6"/>
<rect x="680.06" y="1691.3" width="31.27" height="18.35" fill="#e3eef9"/>
<rect x="711.03" y="1691.3" width="10.47" height="18.35" fill="#f7fbff"/>
<rect x="153.57" y="1709.35" width="31.27" height="18.35" fill="#f7fbff"/>
<rect x="184.54" y="1709.35" width="31.27" height="18.35" fill="#f7fbff"/>
<rect x="246.48" y="1709.35" width="31.27" height="18.35" fill="#e5eff9"/>
<rect x="277.45" y="1709.35" width="31.27" height="18.35" fill="#d9e8f5"/>
<rect x="308.42" y="1709.35" width="31.27" height="18.35" fill="#acd0e6"/>
<rect x="339.39" y="1709.35" width="31.27" height="18.35" fill="#90c2de"/>
<rect x="370.36" y="1709.35" width="31.27" height="18.35" fill="#549ecd"/>
<rect x="401.33" y="1709.35" width="31.27" height="18.35" fill="#2979b9"/>
<rect x="432.3" y="1709.35" width="31.27" height="18.35" fill="#1d6cb1"/>
<rect x="463.27" y="1709.35" width="31.27" height="18.35" fill="#3b8bc3"/>
<rect x="494.24" y="1709.35" width="31.27" height="18.35" fill="#83bbdb"/>
<rect x="525.21" y="1709.35" width="31.27" height="18.35" fill="#acd0e6"/>
<rect x="556.18" y="1709.35" width="31.27" height="18.35" fill="#d2e3f3"/>
<rect x="587.15" y="1709.35" width="31.27" height="18.35" fill="#e7f1fa"/>
<rect x="649.09" y="1709.35" width="31.27" height="18.35" fill="#e3eef9"/>
<rect x="122.6" y="1727.4" width="31.27" height="18.35" fill="#e3eef9"/>
<rect x="153.57" y="1727.4" width="31.27" height="18.35" fill="#f7fbff"/>
<rect x="184.54" y="1727.4" width="31.27" height="18.35" fill="#d9e8f5"/>
<rect x="215.51" y="1727.4" width="31.27" height="18.35" fill="#d9e8f5"/>
<rect x="246.48" y="1727.4" width="31.27" height="18.35" fill="#d5e5f4"/>
<rect x="277.45" y="1727.4" width="31.27" height="18.35" fill="#d3e4f3"/>
<rect x="308.42" y="1727.4" width="31.27" height="18.35" fill="#b3d3e8"/>
<rect x="339.39" y="1727.4" width="31.27" height="18.35" fill="#8cc0dd"/>
<rect x="370.36" y="1727.4" width="31.27" height="18.35" fill="#3b8bc3"/>
<rect x="401.33" y="1727.4" width="31.27" height="18.35" fill="#1562a9"/>
<rect x="432.3" y="1727.4" width="31.27" height="18.35" fill="#083d7f"/>
<rect x="463.27" y="1727.4" width="31.27" height="18.35" fill="#2171b5"/>
<rect x="494.24" y="1727.4" width="31.27" height="18.35" fill="#61a7d2"/>
<rect x="525.21" y="1727.4" width="31.27" height="18.35" fill="#8cc0dd"/>
<rect x="556.18" y="1727.4" width="31.27" height="18.35" fill="#b9d6eb"/>
<rect x="587.15" y="1727.4" width="31.27" height="18.35" fill="#d9e8f5"/>
<rect x="618.12" y="1727.4" width="31.27" height="18.35" fill="#dbe9f6"/>
<rect x="680.06" y="1727.4" width="31.27" height="18.35" fill="#d2e3f3"/>
<rect x="215.51" y="1745.45" width="31.27" height="18.35" fill="#e5eff9"/>
<rect x="246.48" y="1745.45" width="31.27" height="18.35" fill="#d3e4f3"/>
<rect x="277.45" y="1745.45" width="31.27" height="18.35" fill="#cee0f2"/>
<rect x="308.42" y="1745.45" width="31.27" height="18.35" fill="#a9cfe5"/>
<rect x="339.39" y="1745.45" width="31.27" height="18.35" fill="#6fb0d7"/>
<rect x="370.36" y="1745.45" width="31.27" height="18.35" fill="#3181bd"/>
<rect x="401.33" y="1745.45" width="31.27" height="18.35" fill="#08458a"/>
<rect x="432.3" y="1745.45" width="31.27" height="18.35" fill="#08306b"/>
<rect x="463.27" y="1745.45" width="31.27" height="18.35" fill="#1764ab"/>
<rect x="494.24" y="1745.45" width="31.27" height="18.35" fill="#4a98c9"/>
<rect x="525.21" y="1745.45" width="31.27" height="18.35" fill="#83bbdb"/>
<rect x="556.18" y="1745.45" width="31.27" height="18.35" fill="#d0e1f2"/>
<rect x="587.15" y="1745.45" width="31.27" height="18.35" fill="#c6dbef"/>
<rect x="649.09" y="1745.45" width="31.27" height="18.35" fill="#e5eff9"/>
<rect x="680.06" y="1745.45" width="31.27" height="18.35" fill="#f7fbff"/>
<rect x="711.03" y="1745.45" width="10.47" height="18.35" fill="#f7fbff"/>
<rect x="153.57" y="1763.5" width="31.27" height="18.35" fill="#f7fbff"/>
<rect x="184.54" y="1763.5" width="31.27" height="18.35" fill="#e5eff9"/>
<rect x="215.51" y="1763.5" width="31.27" height="18.35" fill="#e7f1fa"/>
<rect x="246.48" y="1763.5" width="31.27" height="18.35" fill="#dfecf7"/>
<rect x="277.45" y="1763.5" width="31.27" height="18.35" fill="#bcd7ec"/>
<rect x="308.42" y="1763.5" width="31.27" height="18.35" fill="#9cc9e1"/>
<rect x="339.39" y="1763.5" width="31.27" height="18.35" fill="#64aad3"/>
<rect x="370.36" y="1763.5" width="31.27" height="18.35" fill="#3181bd"/>
<rect x="401.33" y="1763.5" width="31.27" height="18.35" fill="#08306b"/>
<rect x="432.3" y="1763.5" width="31.27" height="18.35" fill="#08336f"/>
<rect x="463.27" y="1763.5" width="31.27" height="18.35" fill="#115da5"/>
<rect x="494.24" y="1763.5" width="31.27" height="18.35" fill="#3e8ec4"/>
<rect x="525.21" y="1763.5" width="31.27" height="18.35" fill="#6fb0d7"/>
<rect x="556.18" y="1763.5" width="31.27" height="18.35" fill="#acd0e6"/>
<rect x="587.15" y="1763.5" width="31.27" height="18.35" fill="#e1edf8"/>
<rect x="618.12" y="1763.5" width="31.27" height="18.35" fill="#dbe9f6"/>
<rect x="649.09" y="1763.5" width="31.27" height="18.35" fill="#f7fbff"/>
<rect x="680.06" y="1763.5" width="31.27" height="18.35" fill="#d9e8f5"/>
<rect x="711.03" y="1763.5" width="10.47" height="18.35" fill="#d9e8f5"/>
<rect x="153.57" y="1781.55" width="31.27" height="18.35" fill="#f7fbff"/>
<rect x="215.51" y="1781.55" width="31.27" height="18.35" fill="#e5eff9"/>
<rect x="246.48" y="1781.55" width="31.27" height="18.35" fill="#dfecf7"/>
<rect x="277.45" y="1781.55" width="31.27" height="18.35" fill="#b6d4e9"/>
<rect x="308.42" y="1781.55" width="31.27" height="18.35" fill="#a3cce3"/>
<rect x="339.39" y="1781.55" width="31.27" height="18.35" fill="#73b2d8"/>
<rect x="370.36" y="1781.55" width="31.27" height="18.35" fill="#3b8bc3"/>
<rect x="401.33" y="1781.55" width="31.27" height="18.35" fill="#084a92"/>
<rect x="432.3" y="1781.55" width="31.27" height="18.35" fill="#083b7b"/>
<rect x="463.27" y="1781.55" width="31.27" height="18.35" fill="#0d57a1"/>
<rect x="494.24" y="1781.55" width="31.27" height="18.35" fill="#2676b8"/>
<rect x="525.21" y="1781.55" width="31.27" height="18.35" fill="#6baed6"/>
<rect x="556.18" y="1781.55" width="31.27" height="18.35" fill="#b0d1e7"/>
<rect x="587.15" y="1781.55" width="31.27" height="18.35" fill="#c6dbef"/>
<rect x="618.12" y="1781.55" width="31.27" height="18.35" fill="#dfecf7"/>
<rect x="649.09" y="1781.55" width="31.27" height="18.35" fill="#f7fbff"/>
<rect x="184.54" y="1799.6" width="31.27" height="18.35" fill="#f7fbff"/>
<rect x="215.51" y="1799.6" width="31.27" height="18.35" fill="#dbe9f6"/>
<rect x="246.48" y="1799.6" width="31.27" height="18.35" fill="#e5eff9"/>
<rect x="277.45" y="1799.6" width="31.27" height="18.35" fill="#c0d8ed"/>
<rect x="308.42" y="1799.6" width="31.27" height="18.35" fill="#90c2de"/>
<rect x="339.39" y="1799.6" width="31.27" height="18.35" fill="#6baed6"/>
<rect x="370.36" y="1799.6" width="31.27" height="18.35" fill="#4a98c9"/>
<rect x="401.33" y="1799.6" width="31.27" height="18.35" fill="#2676b8"/>
<rect x="432.3" y="1799.6" width="31.27" height="18.35" fill="#1562a9"/>
<rect x="463.27" y="1799.6" width="31.27" height="18.35" fill="#0b559f"/>
<rect x="494.24" y="1799.6" width="31.27" height="18.35" fill="#135fa7"/>
<rect x="525.21" y="1799.6" width="31.27" height="18.35" fill="#5ea5d1"/>
<rect x="556.18" y="1799.6" width="31.27" height="18.35" fill="#a0cbe2"/>
<rect x="587.15" y="1799.6" width="31.27" height="18.35" fill="#c6dbef"/>
<rect x="618.12" y="1799.6" width="31.27" height="18.35" fill="#dbe9f6"/>
<rect x="649.09" y="1799.6" width="31.27" height="18.35" fill="#d5e5f4"/>
<rect x="122.6" y="1817.65" width="31.27" height="18.35" fill="#e5eff9"/>
<rect x="153.57" y="1817.65" width="31.27" height="18.35" fill="#f7fbff"/>
<rect x="184.54" y="1817.65" width="31.27" height="18.35" fill="#f7fbff"/>
<rect x="215.51" y="1817.65" width="31.27" height="18.35" fill="#e5eff9"/>
<rect x="246.48" y="1817.65" width="31.27" height="18.35" fill="#ccdff1"/>
<rect x="277.45" y="1817.65" width="31.27" height="18.35" fill="#d2e3f3"/>
<rect x="308.42" y="1817.65" width="31.27" height="18.35" fill="#a0cbe2"/>
<rect x="339.39" y="1817.65" width="31.27" height="18.35" fill="#8cc0dd"/>
<rect x="370.36" y="1817.65" width="31.27" height="18.35" fill="#61a7d2"/>
<rect x="401.33" y="1817.65" width="31.27" height="18.35" fill="#3989c1"/>
<rect x="432.3" y="1817.65" width="31.27" height="18.35" fill="#2474b6"/>
<rect x="463.27" y="1817.65" width="31.27" height="18.35" fill="#2e7ebc"/>
<rect x="494.24" y="1817.65" width="31.27" height="18.35" fill="#4191c5"/>
<rect x="525.21" y="1817.65" width="31.27" height="18.35" fill="#6baed6"/>
<rect x="556.18" y="1817.65" width="31.27" height="18.35" fill="#a3cce3"/>
<rect x="587.15" y="1817.65" width="31.27" height="18.35" fill="#ccdff1"/>
<rect x="618.12" y="1817.65" width="31.27" height="18.35" fill="#c3daee"/>
<rect x="649.09" y="1817.65" width="31.27" height="18.35" fill="#f7fbff"/>
<rect x="680.06" y="1817.65" width="31.27" height="18.35" fill="#e5eff9"/>
<rect x="122.6" y="1835.7" width="31.27" height="18.35" fill="#f7fbff"/>
<rect x="153.57" y="1835.7" width="31.27" height="18.35" fill="#f7fbff"/>
<rect x="246.48" y="1835.7" width="31.27" height="18.35" fill="#d9e8f5"/>
<rect x="277.45" y="1835.7" width="31.27" height="18.35" fill="#d2e3f3"/>
<rect x="308.42" y="1835.7" width="31.27" height="18.35" fill="#acd0e6"/>
<rect x="339.39" y="1835.7" width="31.27" height="18.35" fill="#a0cbe2"/>
<rect x="370.36" y="1835.7" width="31.27" height="18.35" fill="#64aad3"/>
<rect x="401.33" y="1835.7" width="31.27" height="18.35" fill="#4a98c9"/>
<rect x="432.3" y="1835.7" width="31.27" height="18.35" fill="#3686c0"/>
<rect x="463.27" y="1835.7" width="31.27" height="18.35" fill="#3b8bc3"/>
<rect x="494.24" y="1835.7" width="31.27" height="18.35" fill="#4795c8"/>
<rect x="525.21" y="1835.7" width="31.27" height="18.35" fill="#6baed6"/>
<rect x="556.18" y="1835.7" width="31.27" height="18.35" fill="#a3cce3"/>
<rect x="587.15" y="1835.7" width="31.27" height="18.35" fill="#b0d1e7"/>
<rect x="618.12" y="1835.7" width="31.27" height="18.35" fill="#ccdff1"/>
<rect x="649.09" y="1835.7" width="31.27" height="18.35" fill="#cadef0"/>
<rect x="680.06" y="1835.7" width="31.27" height="18.35" fill="#e3eef9"/>
<rect x="153.57" y="1853.75" width="31.27" height="18.35" fill="#f7fbff"/>
<rect x="215.51" y="1853.75" width="31.27" height="18.35" fill="#e5eff9"/>
<rect x="246.48" y="1853.75" width="31.27" height="18.35" fill="#cee0f2"/>
<rect x="277.45" y="1853.75" width="31.27" height="18.35" fill="#c3daee"/>
<rect x="308.42" y="1853.75" width="31.27" height="18.35" fill="#b0d1e7"/>
<rect x="339.39" y="1853.75" width="31.27" height="18.35" fill="#8cc0dd"/>
<rect x="370.36" y="1853.75" width="31.27" height="18.35" fill="#73b2d8"/>
<rect x="401.33" y="1853.75" width="31.27" height="18.35" fill="#519ccc"/>
<rect x="432.3" y="1853.75" width="31.27" height="18.35" fill="#4493c7"/>
<rect x="463.27" y="1853.75" width="31.27" height="18.35" fill="#4a98c9"/>
<rect x="494.24" y="1853.75" width="31.27" height="18.35" fill="#519ccc"/>
<rect x="525.21" y="1853.75" width="31.27" height="18.35" fill="#61a7d2"/>
<rect x="556.18" y="1853.75" width="31.27" height="18.35" fill="#a3cce3"/>
<rect x="587.15" y="1853.75" width="31.27" height="18.35" fill="#bcd7ec"/>
<rect x="618.12" y="1853.75" width="31.27" height="18.35" fill="#ccdff1"/>
<rect x="649.09" y="1853.75" width="31.27" height="18.35" fill="#e5eff9"/>
<rect x="680.06" y="1853.75" width="31.27" height="18.35" fill="#f7fbff"/>
<rect x="184.54" y="1871.8" width="31.27" height="18.35" fill="#d2e3f3"/>
<rect x="215.51" y="1871.8" width="31.27" height="18.35" fill="#d3e4f3"/>
<rect x="246.48" y="1871.8" width="31.27" height="18.35" fill="#d0e1f2"/>
<rect x="277.45" y="1871.8" width="31.27" height="18.35" fill="#b6d4e9"/>
<rect x="308.42" y="1871.8" width="31.27" height="18.35" fill="#bcd7ec"/>
<rect x="339.39" y="1871.8" width="31.27" height="18.35" fill="#9cc9e1"/>
<rect x="370.36" y="1871.8" width="31.27" height="18.35" fill="#7bb7da"/>
<rect x="401.33" y="1871.8" width="31.27" height="18.35" fill="#61a7d2"/>
<rect x="432.3" y="1871.8" width="31.27" height="18.35" fill="#549ecd"/>
<rect x="463.27" y="1871.8" width="31.27" height="18.35" fill="#4d9aca"/>
<rect x="494.24" y="1871.8" width="31.27" height="18.35" fill="#5ea5d1"/>
<rect x="525.21" y="1871.8" width="31.27" height="18.35" fill="#88bedc"/>
<rect x="556.18" y="1871.8" width="31.27" height="18.35" fill="#a6cde4"/>
<rect x="587.15" y="1871.8" width="31.27" height="18.35" fill="#c0d8ed"/>
<rect x="618.12" y="1871.8" width="31.27" height="18.35" fill="#ccdff1"/>
<rect x="649.09" y="1871.8" width="31.27" height="18.35" fill="#d7e7f5"/>
<rect x="153.57" y="1889.85" width="31.27" height="18.35" fill="#f7fbff"/>
<rect x="184.54" y="1889.85" width="31.27" height="18.35" fill="#e7f1fa"/>
<rect x="215.51" y="1889.85" width="31.27" height="18.35" fill="#f7fbff"/>
<rect x="246.48" y="1889.85" width="31.27" height="18.35" fill="#e5eff9"/>
<rect x="277.45" y="1889.85" width="31.27" height="18.35" fill="#b9d6eb"/>
<rect x="308.42" y="1889.85" width="31.27" height="18.35" fill="#b9d6eb"/>
<rect x="339.39" y="1889.85" width="31.27" height="18.35" fill="#a3cce3"/>
<rect x="370.36" y="1889.85" width="31.27" height="18.35" fill="#90c2de"/>
<rect x="401.33" y="1889.85" width="31.27" height="18.35" fill="#7bb7da"/>
<rect x="432.3" y="1889.85" width="31.27" height="18.35" fill="#61a7d2"/>
<rect x="463.27" y="1889.85" width="31.27" height="18.35" fill="#5ea5d1"/>
<rect x="494.24" y="1889.85" width="31.27" height="18.35" fill="#6baed6"/>
<rect x="525.21" y="1889.85" width="31.27" height="18.35" fill="#88bedc"/>
<rect x="556.18" y="1889.85" width="31.27" height="18.35" fill="#a9cfe5"/>
<rect x="587.15" y="1889.85" width="31.27" height="18.35" fill="#c3daee"/>
<rect x="618.12" y="1889.85" width="31.27" height="18.35" fill="#d5e5f4"/>
<rect x="649.09" y="1889.85" width="31.27" height="18.35" fill="#d9e8f5"/>
<rect x="680.06" y="1889.85" width="31.27" height="18.35" fill="#d9e8f5"/>
<rect x="711.03" y="1889.85" width="10.47" height="18.35" fill="#e3eef9"/>
<rect x="153.57" y="1907.9" width="31.27" height="18.35" fill="#e3eef9"/>
<rect x="215.51" y="1907.9" width="31.27" height="18.35" fill="#d2e3f3"/>
<rect x="246.48" y="1907.9" width="31.27" height="18.35" fill="#f7fbff"/>
<rect x="277.45" y="1907.9" width="31.27" height="18.35" fill="#dbe9f6"/>
<rect x="308.42" y="1907.9" width="31.27" height="18.35" fill="#d2e3f3"/>
<rect x="339.39" y="1907.9" width="31.27" height="18.35" fill="#bcd7ec"/>
<rect x="370.36" y="1907.9" width="31.27" height="18.35" fill="#acd0e6"/>
<rect x="401.33" y="1907.9" width="31.27" height="18.35" fill="#88bedc"/>
<rect x="432.3" y="1907.9" width="31.27" height="18.35" fill="#73b2d8"/>
<rect x="463.27" y="1907.9" width="31.27" height="18.35" fill="#7bb7da"/>
<rect x="494.24" y="1907.9" width="31.27" height="18.35" fill="#7fb9da"/>
<rect x="525.21" y="1907.9" width="31.27" height="18.35" fill="#94c4df"/>
<rect x="556.18" y="1907.9" width="31.27" height="18.35" fill="#b0d1e7"/>
<rect x="587.15" y="1907.9" width="31.27" height="18.35" fill="#e7f1fa"/>
<rect x="618.12" y="1907.9" width="31.27" height="18.35" fill="#bcd7ec"/>
<rect x="649.09" y="1907.9" width="31.27" height="18.35" fill="#d5e5f4"/>
<rect x="680.06" y="1907.9" width="31.27" height="18.35" fill="#f7fbff"/>
<rect x="711.03" y="1907.9" width="10.47" height="18.35" fill="#e5eff9"/>
<rect x="153.57" y="1925.95" width="31.27" height="18.35" fill="#f7fbff"/>
<rect x="184.54" y="1925.95" width="31.27" height="18.35" fill="#e5eff9"/>
<rect x="215.51" y="1925.95" width="31.27" height="18.35" fill="#dbe9f6"/>
<rect x="246.48" y="1925.95" width="31.27" height="18.35" fill="#f7fbff"/>
<rect x="277.45" y="1925.95" width="31.27" height="18.35" fill="#d3e4f3"/>
<rect x="308.42" y="1925.95" width="31.27" height="18.35" fill="#d0e1f2"/>
<rect x="339.39" y="1925.95" width="31.27" height="18.35" fill="#b6d4e9"/>
<rect x="370.36" y="1925.95" width="31.27" height="18.35" fill="#c6dbef"/>
<rect x="401.33" y="1925.95" width="31.27" height="18.35" fill="#a3cce3"/>
<rect x="432.3" y="1925.95" width="31.27" height="18.35" fill="#8cc0dd"/>
<rect x="463.27" y="1925.95" width="31.27" height="18.35" fill="#8cc0dd"/>
<rect x="494.24" y="1925.95" width="31.27" height="18.35" fill="#8cc0dd"/>
<rect x="525.21" y="1925.95" width="31.27" height="18.35" fill="#9cc9e1"/>
<rect x="556.18" y="1925.95" width="31.27" height="18.35" fill="#b6d4e9"/>
<rect x="587.15" y="1925.95" width="31.27" height="18.35" fill="#cadef0"/>
<rect x="618.12" y="1925.95" width="31.27" height="18.35" fill="#bcd7ec"/>
<rect x="649.09" y="1925.95" width="31.27" height="18.35" fill="#dbe9f6"/>
<rect x="680.06" y="1925.95" width="31.27" height="18.35" fill="#e5eff9"/>
<rect x="711.03" y="1925.95" width="10.47" height="18.35" fill="#f7fbff"/>
<rect x="246.48" y="1944" width="31.27" height="18.35" fill="#f7fbff"/>
<rect x="277.45" y="1944" width="31.27" height="18.35" fill="#d3e4f3"/>
<rect x="308.42" y="1944" width="31.27" height="18.35" fill="#ccdff1"/>
<rect x="339.39" y="1944" width="31.27" height="18.35" fill="#ccdff1"/>
<rect x="370.36" y="1944" width="31.27" height="18.35" fill="#acd0e6"/>
<rect x="401.33" y="1944" width="31.27" height="18.35" fill="#a6cde4"/>
<rect x="432.3" y="1944" width="31.27" height="18.35" fill="#a3cce3"/>
<rect x="463.27" y="1944" width="31.27" height="18.35" fill="#a3cce3"/>
<rect x="494.24" y="1944" width="31.27" height="18.35" fill="#a0cbe2"/>
<rect x="525.21" y="1944" width="31.27" height="18.35" fill="#b9d6eb"/>
<rect x="556.18" y="1944" width="31.27" height="18.35" fill="#c0d8ed"/>
<rect x="587.15" y="1944" width="31.27" height="18.35" fill="#cadef0"/>
<rect x="618.12" y="1944" width="31.27" height="18.35" fill="#dfecf7"/>
<rect x="649.09" y="1944" width="31.27" height="18.35" fill="#e3eef9"/>
<rect x="680.06" y="1944" width="31.27" height="18.35" fill="#e5eff9"/>
<rect x="711.03" y="1944" width="10.47" height="18.35" fill="#e5eff9"/>
<rect x="122.6" y="1962.05" width="31.27" height="18.35" fill="#f7fbff"/>
<rect x="215.51" y="1962.05" width="31.27" height="18.35" fill="#f7fbff"/>
<rect x="246.48" y="1962.05" width="31.27" height="18.35" fill="#f7fbff"/>
<rect x="277.45" y="1962.05" width="31.27" height="18.35" fill="#cadef0"/>
<rect x="308.42" y="1962.05" width="31.27" height="18.35" fill="#f7fbff"/>
<rect x="339.39" y="1962.05" width="31.27" height="18.35" fill="#d9e8f5"/>
<rect x="370.36" y="1962.05" width="31.27" height="18.35" fill="#c6dbef"/>
<rect x="401.33" y="1962.05" width="31.27" height="18.35" fill="#b3d3e8"/>
<rect x="432.3" y="1962.05" width="31.27" height="18.35" fill="#a9cfe5"/>
<rect x="463.27" y="1962.05" width="31.27" height="18.35" fill="#acd0e6"/>
<rect x="494.24" y="1962.05" width="31.27" height="18.35" fill="#a6cde4"/>
<rect x="525.21" y="1962.05" width="31.27" height="18.35" fill="#cadef0"/>
<rect x="556.18" y="1962.05" width="31.27" height="18.35" fill="#c3daee"/>
<rect x="587.15" y="1962.05" width="31.27" height="18.35" fill="#c8dcf0"/>
<rect x="618.12" y="1962.05" width="31.27" height="18.35" fill="#dbe9f6"/>
<rect x="649.09" y="1962.05" width="31.27" height="18.35" fill="#e3eef9"/>
<rect x="680.06" y="1962.05" width="31.27" height="18.35" fill="#e5eff9"/>
<rect x="711.03" y="1962.05" width="10.47" height="18.35" fill="#d9e8f5"/>
<rect x="122.6" y="1980.1" width="31.27" height="18.35" fill="#f7fbff"/>
<rect x="184.54" y="1980.1" width="31.27" height="18.35" fill="#e5eff9"/>
<rect x="215.51" y="1980.1" width="31.27" height="18.35" fill="#f7fbff"/>
<rect x="246.48" y="1980.1" width="31.27" height="18.35" fill="#f7fbff"/>
<rect x="277.45" y="1980.1" width="31.27" height="18.35" fill="#e5eff9"/>
<rect x="308.42" y="1980.1" width="31.27" height="18.35" fill="#f7fbff"/>
<rect x="339.39" y="1980.1" width="31.27" height="18.35" fill="#ccdff1"/>
<rect x="370.36" y="1980.1" width="31.27" height="18.35" fill="#cadef0"/>
<rect x="401.33" y="1980.1" width="31.27" height="18.35" fill="#c3daee"/>
<rect x="432.3" y="1980.1" width="31.27" height="18.35" fill="#b9d6eb"/>
<rect x="463.27" y="1980.1" width="31.27" height="18.35" fill="#c3daee"/>
<rect x="494.24" y="1980.1" width="31.27" height="18.35" fill="#c3daee"/>
<rect x="525.21" y="1980.1" width="31.27" height="18.35" fill="#d2e3f3"/>
<rect x="556.18" y="1980.1" width="31.27" height="18.35" fill="#c3daee"/>
<rect x="587.15" y="1980.1" width="31.27" height="18.35" fill="#bcd7ec"/>
<rect x="618.12" y="1980.1" width="31.27" height="18.35" fill="#d2e3f3"/>
<rect x="649.09" y="1980.1" width="31.27" height="18.35" fill="#e5eff9"/>
<rect x="680.06" y="1980.1" width="31.27" height="18.35" fill="#d2e3f3"/>
<rect x="711.03" y="1980.1" width="10.47" height="18.35" fill="#f7fbff"/>
<rect x="122.6" y="1998.15" width="31.27" height="18.35" fill="#f7fbff"/>
<rect x="153.57" y="1998.15" width="31.27" height="18.35" fill="#e5eff9"/>
<rect x="184.54" y="1998.15" width="31.27" height="18.35" fill="#f7fbff"/>
<rect x="215.51" y="1998.15" width="31.27" height="18.35" fill="#e5eff9"/>
<rect x="246.48" y="1998.15" width="31.27" height="18.35" fill="#e5eff9"/>
<rect x="277.45" y="1998.15" width="31.27" height="18.35" fill="#dbe9f6"/>
<rect x="308.42" y="1998.15" width="31.27" height="18.35" fill="#e5eff9"/>
<rect x="339.39" y="1998.15" width="31.27" height="18.35" fill="#e5eff9"/>
<rect x="370.36" y="1998.15" width="31.27" height="18.35" fill="#cee0f2"/>
<rect x="401.33" y="1998.15" width="31.27" height="18.35" fill="#c3daee"/>
<rect x="432.3" y="1998.15" width="31.27" height="18.35" fill="#b3d3e8"/>
<rect x="463.27" y="1998.15" width="31.27" height="18.35" fill="#cadef0"/>
<rect x="494.24" y="1998.15" width="31.27" height="18.35" fill="#c0d8ed"/>
<rect x="525.21" y="1998.15" width="31.27" height="18.35" fill="#d9e8f5"/>
<rect x="556.18" y="1998.15" width="31.27" height="18.35" fill="#d3e4f3"/>
<rect x="587.15" y="1998.15" width="31.27" height="18.35" fill="#d0e1f2"/>
<rect x="618.12" y="1998.15" width="31.27" height="18.35" fill="#d2e3f3"/>
<rect x="649.09" y="1998.15" width="31.27" height="18.35" fill="#e5eff9"/>
<rect x="680.06" y="1998.15" width="31.27" height="18.35" fill="#f7fbff"/>
<rect x="122.6" y="2016.2" width="31.27" height="18.35" fill="#f7fbff"/>
<rect x="184.54" y="2016.2" width="31.27" height="18.35" fill="#f7fbff"/>
<rect x="215.51" y="2016.2" width="31.27" height="18.35" fill="#e5eff9"/>
<rect x="246.48" y="2016.2" width="31.27" height="18.35" fill="#f7fbff"/>
<rect x="277.45" y="2016.2" width="31.27" height="18.35" fill="#f7fbff"/>
<rect x="308.42" y="2016.2" width="31.27" height="18.35" fill="#d5e5f4"/>
<rect x="339.39" y="2016.2" width="31.27" height="18.35" fill="#f7fbff"/>
<rect x="370.36" y="2016.2" width="31.27" height="18.35" fill="#cee0f2"/>
<rect x="401.33" y="2016.2" width="31.27" height="18.35" fill="#c8dcf0"/>
<rect x="432.3" y="2016.2" width="31.27" height="18.35" fill="#bcd7ec"/>
<rect x="463.27" y="2016.2" width="31.27" height="18.35" fill="#c6dbef"/>
<rect x="494.24" y="2016.2" width="31.27" height="18.35" fill="#c6dbef"/>
<rect x="525.21" y="2016.2" width="31.27" height="18.35" fill="#d5e5f4"/>
<rect x="556.18" y="2016.2" width="31.27" height="18.35" fill="#cee0f2"/>
<rect x="587.15" y="2016.2" width="31.27" height="18.35" fill="#d9e8f5"/>
<rect x="618.12" y="2016.2" width="31.27" height="18.35" fill="#e5eff9"/>
<rect x="649.09" y="2016.2" width="31.27" height="18.35" fill="#e5eff9"/>
<rect x="680.06" y="2016.2" width="31.27" height="18.35" fill="#f7fbff"/>
<rect x="184.54" y="2034.25" width="31.27" height="18.35" fill="#e3eef9"/>
<rect x="215.51" y="2034.25" width="31.27" height="18.35" fill="#e5eff9"/>
<rect x="246.48" y="2034.25" width="31.27" height="18.35" fill="#e5eff9"/>
<rect x="277.45" y="2034.25" width="31.27" height="18.35" fill="#dbe9f6"/>
<rect x="308.42" y="2034.25" width="31.27" height="18.35" fill="#dbe9f6"/>
<rect x="339.39" y="2034.25" width="31.27" height="18.35" fill="#f7fbff"/>
<rect x="370.36" y="2034.25" width="31.27" height="18.35" fill="#cee0f2"/>
<rect x="401.33" y="2034.25" width="31.27" height="18.35" fill="#d2e3f3"/>
<rect x="432.3" y="2034.25" width="31.27" height="18.35" fill="#c3daee"/>
<rect x="463.27" y="2034.25" width="31.27" height="18.35" fill="#cadef0"/>
<rect x="494.24" y="2034.25" width="31.27" height="18.35" fill="#c8dcf0"/>
<rect x="525.21" y="2034.25" width="31.27" height="18.35" fill="#e5eff9"/>
<rect x="556.18" y="2034.25" width="31.27" height="18.35" fill="#e5eff9"/>
<rect x="587.15" y="2034.25" width="31.27" height="18.35" fill="#d9e8f5"/>
<rect x="618.12" y="2034.25" width="31.27" height="18.35" fill="#cadef0"/>
<rect x="680.06" y="2034.25" width="31.27" height="18.35" fill="#f7fbff"/>
<rect x="153.57" y="2052.3" width="31.27" height="18.35" fill="#f7fbff"/>
<rect x="184.54" y="2052.3" width="31.27" height="18.35" fill="#e3eef9"/>
<rect x="215.51" y="2052.3" width="31.27" height="18.35" fill="#f7fbff"/>
<rect x="246.48" y="2052.3" width="31.27" height="18.35" fill="#f7fbff"/>
<rect x="277.45" y="2052.3" width="31.27" height="18.35" fill="#e5eff9"/>
<rect x="308.42" y="2052.3" width="31.27" height="18.35" fill="#f7fbff"/>
<rect x="339.39" y="2052.3" width="31.27" height="18.35" fill="#e5eff9"/>
<rect x="370.36" y="2052.3" width="31.27" height="18.35" fill="#dbe9f6"/>
<rect x="401.33" y="2052.3" width="31.27" height="18.35" fill="#e5eff9"/>
<rect x="432.3" y="2052.3" width="31.27" height="18.35" fill="#d3e4f3"/>
<rect x="463.27" y="2052.3" width="31.27" height="18.35" fill="#d9e8f5"/>
<rect x="494.24" y="2052.3" width="31.27" height="18.35" fill="#f7fbff"/>
<rect x="525.21" y="2052.3" width="31.27" height="18.35" fill="#c0d8ed"/>
<rect x="556.18" y="2052.3" width="31.27" height="18.35" fill="#d7e7f5"/>
<rect x="587.15" y="2052.3" width="31.27" height="18.35" fill="#d2e3f3"/>
<rect x="649.09" y="2052.3" width="31.27" height="18.35" fill="#e5eff9"/>
<rect x="711.03" y="2052.3" width="10.47" height="18.35" fill="#d9e8f5"/>
<rect x="246.48" y="2070.35" width="31.27" height="18.35" fill="#f7fbff"/>
<rect x="277.45" y="2070.35" width="31.27" height="18.35" fill="#e5eff9"/>
<rect x="308.42" y="2070.35" width="31.27" height="18.35" fill="#d3e4f3"/>
<rect x="339.39" y="2070.35" width="31.27" height="18.35" fill="#f7fbff"/>
<rect x="401.33" y="2070.35" width="31.27" height="18.35" fill="#dbe9f6"/>
<rect x="463.27" y="2070.35" width="31.27" height="18.35" fill="#d3e4f3"/>
<rect x="494.24" y="2070.35" width="31.27" height="18.35" fill="#d0e1f2"/>
<rect x="525.21" y="2070.35" width="31.27" height="18.35" fill="#d2e3f3"/>
<rect x="556.18" y="2070.35" width="31.27" height="18.35" fill="#cee0f2"/>
<rect x="587.15" y="2070.35" width="31.27" height="18.35" fill="#f7fbff"/>
<rect x="618.12" y="2070.35" width="31.27" height="18.35" fill="#dbe9f6"/>
<rect x="649.09" y="2070.35" width="31.27" height="18.35" fill="#f7fbff"/>
<rect x="711.03" y="2070.35" width="10.47" height="18.35" fill="#f7fbff"/>
<rect x="246.48" y="2088.4" width="31.27" height="18.35" fill="#f7fbff"/>
<rect x="277.45" y="2088.4" width="31.27" height="18.35" fill="#f7fbff"/>
<rect x="308.42" y="2088.4" width="31.27" height="18.35" fill="#d9e8f5"/>
<rect x="370.36" y="2088.4" width="31.27" height="18.35" fill="#f7fbff"/>
<rect x="401.33" y="2088.4" width="31.27" height="18.35" fill="#ccdff1"/>
<rect x="432.3" y="2088.4" width="31.27" height="18.35" fill="#d2e3f3"/>
<rect x="463.27" y="2088.4" width="31.27" height="18.35" fill="#f7fbff"/>
<rect x="494.24" y="2088.4" width="31.27" height="18.35" fill="#d2e3f3"/>
<rect x="525.21" y="2088.4" width="31.27" height="18.35" fill="#c6dbef"/>
<rect x="556.18" y="2088.4" width="31.27" height="18.35" fill="#d9e8f5"/>
<rect x="587.15" y="2088.4" width="31.27" height="18.35" fill="#e3eef9"/>
<rect x="618.12" y="2088.4" width="31.27" height="18.35" fill="#e5eff9"/>
<rect x="649.09" y="2088.4" width="31.27" height="18.35" fill="#f7fbff"/>
<rect x="680.06" y="2088.4" width="31.27" height="18.35" fill="#f7fbff"/>
<rect x="711.03" y="2088.4" width="10.47" height="18.35" fill="#f7fbff"/>
<rect x="277.45" y="2106.45" width="31.27" height="18.35" fill="#d9e8f5"/>
<rect x="308.42" y="2106.45" width="31.27" height="18.35" fill="#f7fbff"/>
<rect x="370.36" y="2106.45" width="31.27" height="18.35" fill="#dbe9f6"/>
<rect x="432.3" y="2106.45" width="31.27" height="18.35" fill="#e5eff9"/>
<rect x="463.27" y="2106.45" width="31.27" height="18.35" fill="#e5eff9"/>
<rect x="494.24" y="2106.45" width="31.27" height="18.35" fill="#d2e3f3"/>
<rect x="525.21" y="2106.45" width="31.27" height="18.35" fill="#d3e4f3"/>
<rect x="556.18" y="2106.45" width="31.27" height="18.35" fill="#d3e4f3"/>
<rect x="618.12" y="2106.45" width="31.27" height="18.35" fill="#cadef0"/>
<rect x="649.09" y="2106.45" width="31.27" height="18.35" fill="#f7fbff"/>
<rect x="680.06" y="2106.45" width="31.27" height="18.35" fill="#f7fbff"/>
<rect x="711.03" y="2106.45" width="10.47" height="18.35" fill="#f7fbff"/>
<rect x="215.51" y="2124.5" width="31.27" height="18.35" fill="#f7fbff"/>
<rect x="246.48" y="2124.5" width="31.27" height="18.35" fill="#f7fbff"/>
<rect x="277.45" y="2124.5" width="31.27" height="18.35" fill="#f7fbff"/>
<rect x="370.36" y="2124.5" width="31.27" height="18.35" fill="#f7fbff"/>
<rect x="401.33" y="2124.5" width="31.27" height="18.35" fill="#e5eff9"/>
<rect x="432.3" y="2124.5" width="31.27" height="18.35" fill="#e5eff9"/>
<rect x="463.27" y="2124.5" width="31.27" height="18.35" fill="#f7fbff"/>
<rect x="494.24" y="2124.5" width="31.27" height="18.35" fill="#e5eff9"/>
<rect x="525.21" y="2124.5" width="31.27" height="18.35" fill="#f7fbff"/>
<rect x="556.18" y="2124.5" width="31.27" height="18.35" fill="#e5eff9"/>
<rect x="587.15" y="2124.5" width="31.27" height="18.35" fill="#f7fbff"/>
<rect x="649.09" y="2124.5" width="31.27" height="18.35" fill="#e5eff9"/>
<rect x="680.06" y="2124.5" width="31.27" height="18.35" fill="#f7fbff"/>
<rect x="711.03" y="2124.5" width="10.47" height="18.35" fill="#f7fbff"/>
<rect x="184.54" y="2142.55" width="31.27" height="18.35" fill="#f7fbff"/>
<rect x="277.45" y="2142.55" width="31.27" height="18.35" fill="#f7fbff"/>
<rect x="308.42" y="2142.55" width="31.27" height="18.35" fill="#e3eef9"/>
<rect x="339.39" y="2142.55" width="31.27" height="18.35" fill="#e5eff9"/>
<rect x="370.36" y="2142.55" width="31.27" height="18.35" fill="#f7fbff"/>
<rect x="432.3" y="2142.55" width="31.27" height="18.35" fill="#f7fbff"/>
<rect x="494.24" y="2142.55" width="31.27" height="18.35" fill="#f7fbff"/>
<rect x="525.21" y="2142.55" width="31.27" height="18.35" fill="#e5eff9"/>
<rect x="556.18" y="2142.55" width="31.27" height="18.35" fill="#e5eff9"/>
<rect x="587.15" y="2142.55" width="31.27" height="18.35" fill="#e5eff9"/>
<rect x="649.09" y="2142.55" width="31.27" height="18.35" fill="#f7fbff"/>
<rect x="680.06" y="2142.55" width="31.27" height="18.35" fill="#e5eff9"/>
<rect x="711.03" y="2142.55" width="10.47" height="18.35" fill="#dbe9f6"/>
<rect x="215.51" y="2160.6" width="31.27" height="18.35" fill="#f7fbff"/>
<rect x="246.48" y="2160.6" width="31.27" height="18.35" fill="#f7fbff"/>
<rect x="308.42" y="2160.6" width="31.27" height="18.35" fill="#d9e8f5"/>
<rect x="339.39" y="2160.6" width="31.27" height="18.35" fill="#f7fbff"/>
<rect x="370.36" y="2160.6" width="31.27" height="18.35" fill="#f7fbff"/>
<rect x="401.33" y="2160.6" width="31.27" height="18.35" fill="#e5eff9"/>
<rect x="432.3" y="2160.6" width="31.27" height="18.35" fill="#e5eff9"/>
<rect x="494.24" y="2160.6" width="31.27" height="18.35" fill="#dbe9f6"/>
<rect x="525.21" y="2160.6" width="31.27" height="18.35" fill="#e5eff9"/>
<rect x="587.15" y="2160.6" width="31.27" height="18.35" fill="#e5eff9"/>
<rect x="649.09" y="2160.6" width="31.27" height="18.35" fill="#e5eff9"/>
<rect x="711.03" y="2160.6" width="10.47" height="18.35" fill="#f7fbff"/>
<rect x="184.54" y="2178.65" width="31.27" height="18.85" fill="#e5eff9"/>
<rect x="401.33" y="2178.65" width="31.27" height="18.85" fill="#f7fbff"/>
<rect x="463.27" y="2178.65" width="31.27" height="18.85" fill="#f7fbff"/>
<rect x="494.24" y="2178.65" width="31.27" height="18.85" fill="#e5eff9"/>
<rect x="556.18" y="2178.65" width="31.27" height="18.85" fill="#f7fbff"/>
<rect x="587.15" y="2178.65" width="31.27" height="18.85" fill="#e5eff9"/>
<rect x="618.12" y="2178.65" width="31.27" height="18.85" fill="#f7fbff"/>
<rect x="680.06" y="2178.65" width="31.27" height="18.85" fill="#f7fbff"/>
<rect x="711.03" y="2178.65" width="10.47" height="18.85" fill="#f7fbff"/>
</g>
<path d="M119.5 1599.51 L122.52 1599.51 L122.52 1599.34 L125.54 1599.34 L125.54 1599.28 L128.57 1599.28 L128.57 1599.02 L131.59 1599.02 L131.59 1599.21 L134.61 1599.21 L134.61 1599.19 L137.63 1599.19 L137.63 1599.22 L140.65 1599.22 L140.65 1599.13 L143.68 1599.13 L143.68 1599.2 L146.7 1599.2 L146.7 1599.13 L149.72 1599.13 L149.72 1598.99 L152.74 1598.99 L152.74 1599.3 L155.76 1599.3 L155.76 1599.29 L158.79 1599.29 L158.79 1599.4 L161.81 1599.4 L161.81 1599.14 L164.83 1599.14 L164.83 1599.06 L167.85 1599.06 L167.85 1599.03 L170.87 1599.03 L170.87 1598.86 L173.9 1598.86 L173.9 1599.25 L176.92 1599.25 L176.92 1598.91 L179.94 1598.91 L179.94 1598.88 L182.96 1598.88 L182.96 1599.02 L185.98 1599.02 L185.98 1599.29 L189.01 1599.29 L189.01 1599.07 L192.03 1599.07 L192.03 1598.85 L195.05 1598.85 L195.05 1598.89 L198.07 1598.89 L198.07 1599.11 L201.09 1599.11 L201.09 1598.94 L204.12 1598.94 L204.12 1598.79 L207.14 1598.79 L207.14 1598.85 L210.16 1598.85 L210.16 1598.99 L213.18 1598.99 L213.18 1599.2 L216.2 1599.2 L216.2 1598.53 L219.23 1598.53 L219.23 1598.61 L222.25 1598.61 L222.25 1598.53 L225.27 1598.53 L225.27 1598.14 L228.29 1598.14 L228.29 1598.42 L231.31 1598.42 L231.31 1598.36 L234.34 1598.36 L234.34 1598.8 L237.36 1598.8 L237.36 1598.48 L240.38 1598.48 L240.38 1598.09 L243.4 1598.09 L243.4 1598.58 L246.42 1598.58 L246.42 1598.31 L249.45 1598.31 L249.45 1597.93 L252.47 1597.93 L252.47 1598.17 L255.49 1598.17 L255.49 1598.13 L258.51 1598.13 L258.51 1598.01 L261.53 1598.01 L261.53 1598.21 L264.56 1598.21 L264.56 1597.57 L267.58 1597.57 L267.58 1598.05 L270.6 1598.05 L270.6 1598.35 L273.62 1598.35 L273.62 1598.23 L276.64 1598.23 L276.64 1598.24 L279.67 1598.24 L279.67 1598.17 L282.69 1598.17 L282.69 1598.21 L285.71 1598.21 L285.71 1597.35 L288.73 1597.35 L288.73 1597.88 L291.75 1597.88 L291.75 1596.96 L294.78 1596.96 L294.78 1597.27 L297.8 1597.27 L297.8 1596.77 L300.82 1596.77 L300.82 1597.67 L303.84 1597.67 L303.84 1597.69 L306.86 1597.69 L306.86 1597.1 L309.89 1597.1 L309.89 1597.71 L312.91 1597.71 L312.91 1596.78 L315.93 1596.78 L315.93 1596.95 L318.95 1596.95 L318.95 1596.83 L321.97 1596.83 L321.97 1596.25 L325 1596.25 L325 1596.69 L328.02 1596.69 L328.02 1597.16 L331.04 1597.16 L331.04 1595.86 L334.06 1595.86 L334.06 1596.52 L337.08 1596.52 L337.08 1595.96 L340.11 1595.96 L340.11 1596.65 L343.13 1596.65 L343.13 1595.94 L346.15 1595.94 L346.15 1595.69 L349.17 1595.69 L349.17 1595.34 L352.19 1595.34 L352.19 1594.82 L355.22 1594.82 L355.22 1593.65 L358.24 1593.65 L358.24 1594.62 L361.26 1594.62 L361.26 1592.28 L364.28 1592.28 L364.28 1592.35 L367.3 1592.35 L367.3 1591.75 L370.33 1591.75 L370.33 1589.97 L373.35 1589.97 L373.35 1589.48 L376.37 1589.48 L376.37 1588.91 L379.39 1588.91 L379.39 1586.08 L382.41 1586.08 L382.41 1581.94 L385.44 1581.94 L385.44 1576.51 L388.46 1576.51 L388.46 1577.31 L391.48 1577.31 L391.48 1578.21 L394.5 1578.21 L394.5 1574.51 L397.52 1574.51 L397.52 1568.42 L400.55 1568.42 L400.55 1562.76 L403.57 1562.76 L403.57 1556.07 L406.59 1556.07 L406.59 1551.55 L409.61 1551.55 L409.61 1546.84 L412.63 1546.84 L412.63 1526.1 L415.66 1526.1 L415.66 1513.7 L418.68 1513.7 L418.68 1494.22 L421.7 1494.22 L421.7 1457.9 L424.72 1457.9 L424.72 1429.31 L427.74 1429.31 L427.74 1436.29 L430.77 1436.29 L430.77 1446 L433.79 1446 L433.79 1459.19 L436.81 1459.19 L436.81 1451.6 L439.83 1451.6 L439.83 1456.44 L442.85 1456.44 L442.85 1459.13 L445.88 1459.13 L445.88 1465.11 L448.9 1465.11 L448.9 1477.1 L451.92 1477.1 L451.92 1489.77 L454.94 1489.77 L454.94 1501.21 L457.96 1501.21 L457.96 1515.62 L460.99 1515.62 L460.99 1525.16 L464.01 1525.16 L464.01 1531.95 L467.03 1531.95 L467.03 1541.96 L470.05 1541.96 L470.05 1547.35 L473.07 1547.35 L473.07 1554.72 L476.1 1554.72 L476.1 1554.43 L479.12 1554.43 L479.12 1555.65 L482.14 1555.65 L482.14 1549.52 L485.16 1549.52 L485.16 1548.25 L488.18 1548.25 L488.18 1543.37 L491.21 1543.37 L491.21 1545.16 L494.23 1545.16 L494.23 1562.99 L497.25 1562.99 L497.25 1568.12 L500.27 1568.12 L500.27 1574.97 L503.29 1574.97 L503.29 1582.68 L506.32 1582.68 L506.32 1586.6 L509.34 1586.6 L509.34 1586.53 L512.36 1586.53 L512.36 1587.08 L515.38 1587.08 L515.38 1589.5 L518.4 1589.5 L518.4 1589.53 L521.43 1589.53 L521.43 1589.87 L524.45 1589.87 L524.45 1591.85 L527.47 1591.85 L527.47 1591.92 L530.49 1591.92 L530.49 1592.61 L533.51 1592.61 L533.51 1594 L536.54 1594 L536.54 1593.89 L539.56 1593.89 L539.56 1593.98 L542.58 1593.98 L542.58 1594.99 L545.6 1594.99 L545.6 1595.93 L548.62 1595.93 L548.62 1596.44 L551.65 1596.44 L551.65 1597.33 L554.67 1597.33 L554.67 1597.14 L557.69 1597.14 L557.69 1598.08 L560.71 1598.08 L560.71 1598.15 L563.73 1598.15 L563.73 1598.04 L566.76 1598.04 L566.76 1598.35 L569.78 1598.35 L569.78 1598.3 L572.8 1598.3 L572.8 1597.99 L575.82 1597.99 L575.82 1598.53 L578.84 1598.53 L578.84 1598 L581.87 1598 L581.87 1598.36 L584.89 1598.36 L584.89 1598.38 L587.91 1598.38 L587.91 1598.52 L590.93 1598.52 L590.93 1598.28 L593.95 1598.28 L593.95 1598.49 L596.98 1598.49 L596.98 1598.5 L600 1598.5 L600 1598.79 L603.02 1598.79 L603.02 1598.43 L606.04 1598.43 L606.04 1598.66 L609.06 1598.66 L609.06 1598.63 L612.09 1598.63 L612.09 1598.45 L615.11 1598.45 L615.11 1599.3 L618.13 1599.3 L618.13 1598.78 L621.15 1598.78 L621.15 1598.52 L624.17 1598.52 L624.17 1599.1 L627.2 1599.1 L627.2 1598.64 L630.22 1598.64 L630.22 1598.93 L633.24 1598.93 L633.24 1599.03 L636.26 1599.03 L636.26 1598.76 L639.28 1598.76 L639.28 1598.82 L642.31 1598.82 L642.31 1598.82 L645.33 1598.82 L645.33 1598.91 L648.35 1598.91 L648.35 1598.65 L651.37 1598.65 L651.37 1598.74 L654.39 1598.74 L654.39 1598.95 L657.42 1598.95 L657.42 1599.17 L660.44 1599.17 L660.44 1599.11 L663.46 1599.11 L663.46 1599.31 L666.48 1599.31 L666.48 1599.15 L669.5 1599.15 L669.5 1598.96 L672.53 1598.96 L672.53 1599.04 L675.55 1599.04 L675.55 1598.75 L678.57 1598.75 L678.57 1598.94 L681.59 1598.94 L681.59 1598.95 L684.61 1598.95 L684.61 1599.16 L687.64 1599.16 L687.64 1599.23 L690.66 1599.23 L690.66 1599.06 L693.68 1599.06 L693.68 1599.08 L696.7 1599.08 L696.7 1598.95 L699.72 1598.95 L699.72 1599.17 L702.75 1599.17 L702.75 1599.24 L705.77 1599.24 L705.77 1599.28 L708.79 1599.28 L708.79 1599.13 L711.81 1599.13 L711.81 1599.51 L714.83 1599.51 L714.83 1599.42 L717.86 1599.42 L717.86 1599.27 L720.88 1599.27 L720.88 1599.23 L723.9 1599.23" fill="none" stroke="#000" stroke-width="2.5" stroke-linejoin="miter"/>
<path d="M119.5 1599.8 L120.36 1599.8 L121.23 1599.8 L122.09 1599.8 L122.96 1599.8 L123.82 1599.8 L124.69 1599.8 L125.55 1599.8 L126.42 1599.8 L127.28 1599.8 L128.15 1599.8 L129.01 1599.8 L129.88 1599.8 L130.74 1599.8 L131.61 1599.8 L132.47 1599.8 L133.33 1599.8 L134.2 1599.8 L135.06 1599.8 L135.93 1599.8 L136.79 1599.8 L137.66 1599.8 L138.52 1599.8 L139.39 1599.8 L140.25 1599.8 L141.12 1599.8 L141.98 1599.8 L142.85 1599.8 L143.71 1599.8 L144.58 1599.8 L145.44 1599.8 L146.3 1599.8 L147.17 1599.8 L148.03 1599.8 L148.9 1599.8 L149.76 1599.8 L150.63 1599.8 L151.49 1599.8 L152.36 1599.8 L153.22 1599.8 L154.09 1599.8 L154.95 1599.8 L155.82 1599.8 L156.68 1599.8 L157.55 1599.8 L158.41 1599.8 L159.27 1599.8 L160.14 1599.8 L161 1599.8 L161.87 1599.8 L162.73 1599.8 L163.6 1599.8 L164.46 1599.8 L165.33 1599.8 L166.19 1599.8 L167.06 1599.8 L167.92 1599.8 L168.79 1599.8 L169.65 1599.8 L170.52 1599.8 L171.38 1599.8 L172.24 1599.8 L173.11 1599.8 L173.97 1599.8 L174.84 1599.8 L175.7 1599.8 L176.57 1599.8 L177.43 1599.8 L178.3 1599.8 L179.16 1599.8 L180.03 1599.8 L180.89 1599.8 L181.76 1599.8 L182.62 1599.8 L183.49 1599.8 L184.35 1599.8 L185.21 1599.8 L186.08 1599.8 L186.94 1599.8 L187.81 1599.8 L188.67 1599.8 L189.54 1599.8 L190.4 1599.8 L191.27 1599.8 L192.13 1599.8 L193 1599.8 L193.86 1599.8 L194.73 1599.8 L195.59 1599.8 L196.46 1599.8 L197.32 1599.8 L198.18 1599.8 L199.05 1599.8 L199.91 1599.8 L200.78 1599.8 L201.64 1599.8 L202.51 1599.8 L203.37 1599.8 L204.24 1599.8 L205.1 1599.8 L205.97 1599.8 L206.83 1599.8 L207.7 1599.8 L208.56 1599.8 L209.43 1599.8 L210.29 1599.8 L211.15 1599.8 L212.02 1599.8 L212.88 1599.8 L213.75 1599.8 L214.61 1599.8 L215.48 1599.8 L216.34 1599.8 L217.21 1599.8 L218.07 1599.8 L218.94 1599.8 L219.8 1599.8 L220.67 1599.8 L221.53 1599.8 L222.39 1599.8 L223.26 1599.8 L224.12 1599.8 L224.99 1599.8 L225.85 1599.8 L226.72 1599.8 L227.58 1599.8 L228.45 1599.8 L229.31 1599.8 L230.18 1599.8 L231.04 1599.8 L231.91 1599.8 L232.77 1599.8 L233.64 1599.8 L234.5 1599.8 L235.36 1599.8 L236.23 1599.8 L237.09 1599.8 L237.96 1599.8 L238.82 1599.8 L239.69 1599.8 L240.55 1599.8 L241.42 1599.8 L242.28 1599.8 L243.15 1599.8 L244.01 1599.8 L244.88 1599.8 L245.74 1599.8 L246.61 1599.8 L247.47 1599.8 L248.33 1599.8 L249.2 1599.8 L250.06 1599.8 L250.93 1599.8 L251.79 1599.8 L252.66 1599.8 L253.52 1599.8 L254.39 1599.8 L255.25 1599.8 L256.12 1599.8 L256.98 1599.8 L257.85 1599.8 L258.71 1599.8 L259.58 1599.8 L260.44 1599.8 L261.3 1599.8 L262.17 1599.8 L263.03 1599.8 L263.9 1599.8 L264.76 1599.8 L265.63 1599.8 L266.49 1599.8 L267.36 1599.8 L268.22 1599.8 L269.09 1599.8 L269.95 1599.8 L270.82 1599.8 L271.68 1599.8 L272.55 1599.8 L273.41 1599.8 L274.27 1599.8 L275.14 1599.8 L276 1599.8 L276.87 1599.8 L277.73 1599.8 L278.6 1599.8 L279.46 1599.8 L280.33 1599.8 L281.19 1599.8 L282.06 1599.8 L282.92 1599.8 L283.79 1599.8 L284.65 1599.8 L285.52 1599.8 L286.38 1599.8 L287.24 1599.8 L288.11 1599.8 L288.97 1599.8 L289.84 1599.8 L290.7 1599.8 L291.57 1599.8 L292.43 1599.8 L293.3 1599.8 L294.16 1599.8 L295.03 1599.8 L295.89 1599.8 L296.76 1599.8 L297.62 1599.8 L298.49 1599.8 L299.35 1599.8 L300.21 1599.8 L301.08 1599.8 L301.94 1599.8 L302.81 1599.8 L303.67 1599.8 L304.54 1599.8 L305.4 1599.8 L306.27 1599.8 L307.13 1599.8 L308 1599.8 L308.86 1599.8 L309.73 1599.8 L310.59 1599.8 L311.46 1599.8 L312.32 1599.8 L313.18 1599.8 L314.05 1599.8 L314.91 1599.8 L315.78 1599.8 L316.64 1599.8 L317.51 1599.8 L318.37 1599.8 L319.24 1599.8 L320.1 1599.8 L320.97 1599.8 L321.83 1599.8 L322.7 1599.8 L323.56 1599.8 L324.43 1599.8 L325.29 1599.8 L326.15 1599.8 L327.02 1599.8 L327.88 1599.8 L328.75 1599.8 L329.61 1599.8 L330.48 1599.8 L331.34 1599.8 L332.21 1599.8 L333.07 1599.8 L333.94 1599.8 L334.8 1599.8 L335.67 1599.8 L336.53 1599.8 L337.4 1599.8 L338.26 1599.8 L339.12 1599.8 L339.99 1599.8 L340.85 1599.8 L341.72 1599.8 L342.58 1599.8 L343.45 1599.8 L344.31 1599.8 L345.18 1599.8 L346.04 1599.8 L346.91 1599.8 L347.77 1599.8 L348.64 1599.8 L349.5 1599.8 L350.37 1599.8 L351.23 1599.8 L352.09 1599.8 L352.96 1599.8 L353.82 1599.8 L354.69 1599.8 L355.55 1599.8 L356.42 1599.8 L357.28 1599.8 L358.15 1599.8 L359.01 1599.8 L359.88 1599.8 L360.74 1599.8 L361.61 1599.8 L362.47 1599.8 L363.34 1599.8 L364.2 1599.8 L365.06 1599.8 L365.93 1599.8 L366.79 1599.8 L367.66 1599.8 L368.52 1599.8 L369.39 1599.8 L370.25 1599.8 L371.12 1599.8 L371.98 1599.8 L372.85 1599.8 L373.71 1599.8 L374.58 1599.8 L375.44 1599.8 L376.31 1599.8 L377.17 1599.8 L378.03 1599.8 L378.9 1599.8 L379.76 1599.8 L380.63 1599.8 L381.49 1599.8 L382.36 1599.8 L383.22 1599.8 L384.09 1599.8 L384.95 1599.8 L385.82 1599.8 L386.68 1599.8 L387.55 1599.8 L388.41 1599.8 L389.28 1599.8 L390.14 1599.8 L391 1599.8 L391.87 1599.8 L392.73 1599.8 L393.6 1599.8 L394.46 1599.8 L395.33 1599.8 L396.19 1599.8 L397.06 1599.8 L397.92 1599.8 L398.79 1599.8 L399.65 1599.8 L400.52 1599.8 L401.38 1599.8 L402.25 1599.8 L403.11 1599.8 L403.97 1599.8 L404.84 1599.8 L405.7 1599.8 L406.57 1599.8 L407.43 1599.8 L408.3 1599.8 L409.16 1599.8 L410.03 1599.8 L410.89 1599.8 L411.76 1599.8 L412.62 1599.8 L413.49 1599.8 L414.35 1599.8 L415.22 1599.8 L416.08 1599.8 L416.94 1599.8 L417.81 1599.8 L418.67 1599.8 L419.54 1599.8 L420.4 1599.8 L421.27 1599.8 L422.13 1599.8 L423 1599.8 L423.86 1599.8 L424.73 1599.8 L425.59 1599.8 L426.46 1599.8 L427.32 1599.8 L428.18 1599.8 L429.05 1599.8 L429.91 1599.8 L430.78 1599.8 L431.64 1599.8 L432.51 1599.8 L433.37 1599.8 L434.24 1599.8 L435.1 1599.8 L435.97 1599.8 L436.83 1599.8 L437.7 1599.8 L438.56 1599.8 L439.43 1599.8 L440.29 1599.8 L441.15 1599.8 L442.02 1599.8 L442.88 1599.8 L443.75 1599.8 L444.61 1599.8 L445.48 1599.8 L446.34 1599.8 L447.21 1599.8 L448.07 1599.8 L448.94 1599.8 L449.8 1599.8 L450.67 1599.8 L451.53 1599.8 L452.4 1599.8 L453.26 1599.8 L454.12 1599.8 L454.99 1599.8 L455.85 1599.8 L456.72 1599.8 L457.58 1599.8 L458.45 1599.8 L459.31 1599.8 L460.18 1599.8 L461.04 1599.8 L461.91 1599.8 L462.77 1599.8 L463.64 1599.8 L464.5 1599.8 L465.37 1599.8 L466.23 1599.8 L467.09 1599.8 L467.96 1599.8 L468.82 1599.8 L469.69 1599.8 L470.55 1599.8 L471.42 1599.8 L472.28 1599.8 L473.15 1599.8 L474.01 1599.8 L474.88 1599.8 L475.74 1599.8 L476.61 1599.8 L477.47 1599.8 L478.34 1599.8 L479.2 1599.8 L480.06 1599.79 L480.93 1599.78 L481.79 1599.74 L482.66 1599.63 L483.52 1599.4 L484.39 1598.91 L485.25 1598.04 L486.12 1596.65 L486.98 1594.71 L487.85 1592.37 L488.71 1590.01 L489.58 1588.17 L490.44 1587.32 L491.31 1587.72 L492.17 1589.24 L493.03 1591.48 L493.9 1593.88 L494.76 1595.99 L495.63 1597.59 L496.49 1598.65 L497.36 1599.25 L498.22 1599.57 L499.09 1599.71 L499.95 1599.77 L500.82 1599.79 L501.68 1599.8 L502.55 1599.8 L503.41 1599.8 L504.28 1599.8 L505.14 1599.8 L506 1599.8 L506.87 1599.8 L507.73 1599.8 L508.6 1599.8 L509.46 1599.8 L510.33 1599.8 L511.19 1599.8 L512.06 1599.8 L512.92 1599.8 L513.79 1599.8 L514.65 1599.8 L515.52 1599.8 L516.38 1599.8 L517.25 1599.8 L518.11 1599.8 L518.97 1599.8 L519.84 1599.8 L520.7 1599.8 L521.57 1599.8 L522.43 1599.8 L523.3 1599.8 L524.16 1599.8 L525.03 1599.8 L525.89 1599.8 L526.76 1599.8 L527.62 1599.8 L528.49 1599.8 L529.35 1599.8 L530.22 1599.8 L531.08 1599.8 L531.94 1599.8 L532.81 1599.8 L533.67 1599.8 L534.54 1599.8 L535.4 1599.8 L536.27 1599.8 L537.13 1599.8 L538 1599.8 L538.86 1599.8 L539.73 1599.8 L540.59 1599.8 L541.46 1599.8 L542.32 1599.8 L543.19 1599.8 L544.05 1599.8 L544.91 1599.8 L545.78 1599.8 L546.64 1599.8 L547.51 1599.8 L548.37 1599.8 L549.24 1599.8 L550.1 1599.8 L550.97 1599.8 L551.83 1599.8 L552.7 1599.8 L553.56 1599.8 L554.43 1599.8 L555.29 1599.8 L556.16 1599.8 L557.02 1599.8 L557.88 1599.8 L558.75 1599.8 L559.61 1599.8 L560.48 1599.8 L561.34 1599.8 L562.21 1599.8 L563.07 1599.8 L563.94 1599.8 L564.8 1599.8 L565.67 1599.8 L566.53 1599.8 L567.4 1599.8 L568.26 1599.8 L569.13 1599.8 L569.99 1599.8 L570.85 1599.8 L571.72 1599.8 L572.58 1599.8 L573.45 1599.8 L574.31 1599.8 L575.18 1599.8 L576.04 1599.8 L576.91 1599.8 L577.77 1599.8 L578.64 1599.8 L579.5 1599.8 L580.37 1599.8 L581.23 1599.8 L582.1 1599.8 L582.96 1599.8 L583.82 1599.8 L584.69 1599.8 L585.55 1599.8 L586.42 1599.8 L587.28 1599.8 L588.15 1599.8 L589.01 1599.8 L589.88 1599.8 L590.74 1599.8 L591.61 1599.8 L592.47 1599.8 L593.34 1599.8 L594.2 1599.8 L595.07 1599.8 L595.93 1599.8 L596.79 1599.8 L597.66 1599.8 L598.52 1599.8 L599.39 1599.8 L600.25 1599.8 L601.12 1599.8 L601.98 1599.8 L602.85 1599.8 L603.71 1599.8 L604.58 1599.8 L605.44 1599.8 L606.31 1599.8 L607.17 1599.8 L608.04 1599.8 L608.9 1599.8 L609.76 1599.8 L610.63 1599.8 L611.49 1599.8 L612.36 1599.8 L613.22 1599.8 L614.09 1599.8 L614.95 1599.8 L615.82 1599.8 L616.68 1599.8 L617.55 1599.8 L618.41 1599.8 L619.28 1599.8 L620.14 1599.8 L621.01 1599.8 L621.87 1599.8 L622.73 1599.8 L623.6 1599.8 L624.46 1599.8 L625.33 1599.8 L626.19 1599.8 L627.06 1599.8 L627.92 1599.8 L628.79 1599.8 L629.65 1599.8 L630.52 1599.8 L631.38 1599.8 L632.25 1599.8 L633.11 1599.8 L633.97 1599.8 L634.84 1599.8 L635.7 1599.8 L636.57 1599.8 L637.43 1599.8 L638.3 1599.8 L639.16 1599.8 L640.03 1599.8 L640.89 1599.8 L641.76 1599.8 L642.62 1599.8 L643.49 1599.8 L644.35 1599.8 L645.22 1599.8 L646.08 1599.8 L646.94 1599.8 L647.81 1599.8 L648.67 1599.8 L649.54 1599.8 L650.4 1599.8 L651.27 1599.8 L652.13 1599.8 L653 1599.8 L653.86 1599.8 L654.73 1599.8 L655.59 1599.8 L656.46 1599.8 L657.32 1599.8 L658.19 1599.8 L659.05 1599.8 L659.91 1599.8 L660.78 1599.8 L661.64 1599.8 L662.51 1599.8 L663.37 1599.8 L664.24 1599.8 L665.1 1599.8 L665.97 1599.8 L666.83 1599.8 L667.7 1599.8 L668.56 1599.8 L669.43 1599.8 L670.29 1599.8 L671.16 1599.8 L672.02 1599.8 L672.88 1599.8 L673.75 1599.8 L674.61 1599.8 L675.48 1599.8 L676.34 1599.8 L677.21 1599.8 L678.07 1599.8 L678.94 1599.8 L679.8 1599.8 L680.67 1599.8 L681.53 1599.8 L682.4 1599.8 L683.26 1599.8 L684.13 1599.8 L684.99 1599.8 L685.85 1599.8 L686.72 1599.8 L687.58 1599.8 L688.45 1599.8 L689.31 1599.8 L690.18 1599.8 L691.04 1599.8 L691.91 1599.8 L692.77 1599.8 L693.64 1599.8 L694.5 1599.8 L695.37 1599.8 L696.23 1599.8 L697.1 1599.8 L697.96 1599.8 L698.82 1599.8 L699.69 1599.8 L700.55 1599.8 L701.42 1599.8 L702.28 1599.8 L703.15 1599.8 L704.01 1599.8 L704.88 1599.8 L705.74 1599.8 L706.61 1599.8 L707.47 1599.8 L708.34 1599.8 L709.2 1599.8 L710.07 1599.8 L710.93 1599.8 L711.79 1599.8 L712.66 1599.8 L713.52 1599.8 L714.39 1599.8 L715.25 1599.8 L716.12 1599.8 L716.98 1599.8 L717.85 1599.8 L718.71 1599.8 L719.58 1599.8 L720.44 1599.8 L721.31 1599.8 L722.17 1599.8 L723.04 1599.8 L723.9 1599.8" fill="none" stroke="#ff1493" stroke-width="3.1" />
<path d="M490.6 1599.6 V1434" stroke="#808080" stroke-width="3.7" stroke-dasharray="3.7 6.05" stroke-dashoffset="5.3" fill="none"/>
<path d="M732.23 1608.3 L732.23 1611.24 L732.42 1611.24 L732.42 1614.19 L732.41 1614.19 L732.41 1617.13 L732.61 1617.13 L732.61 1620.08 L732.75 1620.08 L732.75 1623.02 L732.99 1623.02 L732.99 1625.97 L732.97 1625.97 L732.97 1628.91 L732.67 1628.91 L732.67 1631.86 L732.93 1631.86 L732.93 1634.8 L732.77 1634.8 L732.77 1637.74 L732.79 1637.74 L732.79 1640.69 L733.77 1640.69 L733.77 1643.63 L733.02 1643.63 L733.02 1646.58 L734.11 1646.58 L734.11 1649.52 L733.41 1649.52 L733.41 1652.47 L733.83 1652.47 L733.83 1655.41 L734.36 1655.41 L734.36 1658.36 L734.11 1658.36 L734.11 1661.3 L734.47 1661.3 L734.47 1664.25 L734.41 1664.25 L734.41 1667.19 L734.51 1667.19 L734.51 1670.13 L734.85 1670.13 L734.85 1673.08 L735.4 1673.08 L735.4 1676.02 L737.71 1676.02 L737.71 1678.97 L737.86 1678.97 L737.86 1681.91 L740.54 1681.91 L740.54 1684.86 L738.98 1684.86 L738.98 1687.8 L742.42 1687.8 L742.42 1690.75 L744.35 1690.75 L744.35 1693.69 L745.09 1693.69 L745.09 1696.63 L750.56 1696.63 L750.56 1699.58 L753.72 1699.58 L753.72 1702.52 L755.25 1702.52 L755.25 1705.47 L765.66 1705.47 L765.66 1708.41 L773.34 1708.41 L773.34 1711.36 L773.38 1711.36 L773.38 1714.3 L779.53 1714.3 L779.53 1717.25 L790.86 1717.25 L790.86 1720.19 L799.66 1720.19 L799.66 1723.14 L798.86 1723.14 L798.86 1726.08 L805.3 1726.08 L805.3 1729.02 L815.78 1729.02 L815.78 1731.97 L816.08 1731.97 L816.08 1734.91 L816.37 1734.91 L816.37 1737.86 L818.4 1737.86 L818.4 1740.8 L825.15 1740.8 L825.15 1743.75 L823.08 1743.75 L823.08 1746.69 L825.77 1746.69 L825.77 1749.64 L825.19 1749.64 L825.19 1752.58 L833.34 1752.58 L833.34 1755.52 L847.68 1755.52 L847.68 1758.47 L871.3 1758.47 L871.3 1761.41 L867.66 1761.41 L867.66 1764.36 L826.93 1764.36 L826.93 1767.3 L812.66 1767.3 L812.66 1770.25 L799.04 1770.25 L799.04 1773.19 L793.82 1773.19 L793.82 1776.14 L793.31 1776.14 L793.31 1779.08 L801.25 1779.08 L801.25 1782.03 L799.17 1782.03 L799.17 1784.97 L795.79 1784.97 L795.79 1787.91 L792.14 1787.91 L792.14 1790.86 L776.38 1790.86 L776.38 1793.8 L766.91 1793.8 L766.91 1796.75 L760.46 1796.75 L760.46 1799.69 L759 1799.69 L759 1802.64 L752.87 1802.64 L752.87 1805.58 L751.67 1805.58 L751.67 1808.53 L748.15 1808.53 L748.15 1811.47 L745.37 1811.47 L745.37 1814.41 L745.84 1814.41 L745.84 1817.36 L743.94 1817.36 L743.94 1820.3 L745.7 1820.3 L745.7 1823.25 L744.43 1823.25 L744.43 1826.19 L743.35 1826.19 L743.35 1829.14 L741.67 1829.14 L741.67 1832.08 L741.05 1832.08 L741.05 1835.03 L738.92 1835.03 L738.92 1837.97 L740.04 1837.97 L740.04 1840.92 L739.36 1840.92 L739.36 1843.86 L739.76 1843.86 L739.76 1846.8 L739.22 1846.8 L739.22 1849.75 L739.28 1849.75 L739.28 1852.69 L738 1852.69 L738 1855.64 L739.28 1855.64 L739.28 1858.58 L739.17 1858.58 L739.17 1861.53 L737.58 1861.53 L737.58 1864.47 L737.69 1864.47 L737.69 1867.42 L737.87 1867.42 L737.87 1870.36 L738.42 1870.36 L738.42 1873.3 L738.27 1873.3 L738.27 1876.25 L736.04 1876.25 L736.04 1879.19 L735.9 1879.19 L735.9 1882.14 L735.3 1882.14 L735.3 1885.08 L735.1 1885.08 L735.1 1888.03 L734.67 1888.03 L734.67 1890.97 L735.46 1890.97 L735.46 1893.92 L734.56 1893.92 L734.56 1896.86 L735.48 1896.86 L735.48 1899.81 L734.7 1899.81 L734.7 1902.75 L733.41 1902.75 L733.41 1905.69 L732.96 1905.69 L732.96 1908.64 L732.98 1908.64 L732.98 1911.58 L733.71 1911.58 L733.71 1914.53 L732.89 1914.53 L732.89 1917.47 L732.66 1917.47 L732.66 1920.42 L733.18 1920.42 L733.18 1923.36 L733.33 1923.36 L733.33 1926.31 L732.96 1926.31 L732.96 1929.25 L733.79 1929.25 L733.79 1932.19 L733.28 1932.19 L733.28 1935.14 L733.31 1935.14 L733.31 1938.08 L732.8 1938.08 L732.8 1941.03 L733.04 1941.03 L733.04 1943.97 L732.95 1943.97 L732.95 1946.92 L732.17 1946.92 L732.17 1949.86 L733 1949.86 L733 1952.81 L732.25 1952.81 L732.25 1955.75 L732.8 1955.75 L732.8 1958.7 L732.27 1958.7 L732.27 1961.64 L733.37 1961.64 L733.37 1964.58 L732.77 1964.58 L732.77 1967.53 L732.89 1967.53 L732.89 1970.47 L732.86 1970.47 L732.86 1973.42 L732.12 1973.42 L732.12 1976.36 L731.79 1976.36 L731.79 1979.31 L732.36 1979.31 L732.36 1982.25 L732.7 1982.25 L732.7 1985.2 L732.42 1985.2 L732.42 1988.14 L732.59 1988.14 L732.59 1991.08 L732.59 1991.08 L732.59 1994.03 L731.84 1994.03 L731.84 1996.97 L732.33 1996.97 L732.33 1999.92 L732.77 1999.92 L732.77 2002.86 L732.01 2002.86 L732.01 2005.81 L731.56 2005.81 L731.56 2008.75 L732.03 2008.75 L732.03 2011.7 L731.93 2011.7 L731.93 2014.64 L732.14 2014.64 L732.14 2017.59 L731.75 2017.59 L731.75 2020.53 L731.97 2020.53 L731.97 2023.47 L731.33 2023.47 L731.33 2026.42 L732.1 2026.42 L732.1 2029.36 L732.24 2029.36 L732.24 2032.31 L732.13 2032.31 L732.13 2035.25 L731.39 2035.25 L731.39 2038.2 L731.81 2038.2 L731.81 2041.14 L730.98 2041.14 L730.98 2044.09 L731.72 2044.09 L731.72 2047.03 L731.6 2047.03 L731.6 2049.97 L731.37 2049.97 L731.37 2052.92 L731.67 2052.92 L731.67 2055.86 L731.61 2055.86 L731.61 2058.81 L731.79 2058.81 L731.79 2061.75 L731.59 2061.75 L731.59 2064.7 L731.61 2064.7 L731.61 2067.64 L731.11 2067.64 L731.11 2070.59 L731.28 2070.59 L731.28 2073.53 L731.43 2073.53 L731.43 2076.48 L731.59 2076.48 L731.59 2079.42 L731.51 2079.42 L731.51 2082.36 L731.84 2082.36 L731.84 2085.31 L731.31 2085.31 L731.31 2088.25 L731.44 2088.25 L731.44 2091.2 L731.54 2091.2 L731.54 2094.14 L731.43 2094.14 L731.43 2097.09 L731.58 2097.09 L731.58 2100.03 L731.34 2100.03 L731.34 2102.98 L731.76 2102.98 L731.76 2105.92 L731.38 2105.92 L731.38 2108.86 L731.67 2108.86 L731.67 2111.81 L731.42 2111.81 L731.42 2114.75 L731.73 2114.75 L731.73 2117.7 L731.12 2117.7 L731.12 2120.64 L731.51 2120.64 L731.51 2123.59 L731.31 2123.59 L731.31 2126.53 L731.44 2126.53 L731.44 2129.48 L731.63 2129.48 L731.63 2132.42 L731.14 2132.42 L731.14 2135.37 L731.09 2135.37 L731.09 2138.31 L731.15 2138.31 L731.15 2141.25 L731.4 2141.25 L731.4 2144.2 L730.96 2144.2 L730.96 2147.14 L731.35 2147.14 L731.35 2150.09 L731.07 2150.09 L731.07 2153.03 L731.09 2153.03 L731.09 2155.98 L731.24 2155.98 L731.24 2158.92 L731.37 2158.92 L731.37 2161.87 L731.17 2161.87 L731.17 2164.81 L731.19 2164.81 L731.19 2167.75 L731.27 2167.75 L731.27 2170.7 L731.22 2170.7 L731.22 2173.64 L730.75 2173.64 L730.75 2176.59 L731.17 2176.59 L731.17 2179.53 L731.26 2179.53 L731.26 2182.48 L731.44 2182.48 L731.44 2185.42 L731.61 2185.42 L731.61 2188.37 L731.34 2188.37 L731.34 2191.31 L731.23 2191.31 L731.23 2194.26 L731.03 2194.26 L731.03 2197.2" fill="none" stroke="#000" stroke-width="2.5" stroke-linejoin="miter"/>
<path d="M730.6 1608.3 L730.6 1609.14 L730.6 1609.98 L730.6 1610.83 L730.6 1611.67 L730.6 1612.51 L730.6 1613.35 L730.6 1614.2 L730.6 1615.04 L730.6 1615.88 L730.6 1616.72 L730.6 1617.57 L730.6 1618.41 L730.6 1619.25 L730.6 1620.09 L730.6 1620.94 L730.6 1621.78 L730.6 1622.62 L730.6 1623.46 L730.6 1624.31 L730.6 1625.15 L730.6 1625.99 L730.6 1626.83 L730.6 1627.68 L730.6 1628.52 L730.6 1629.36 L730.6 1630.2 L730.6 1631.05 L730.6 1631.89 L730.6 1632.73 L730.6 1633.57 L730.6 1634.42 L730.6 1635.26 L730.6 1636.1 L730.6 1636.94 L730.6 1637.79 L730.6 1638.63 L730.6 1639.47 L730.6 1640.31 L730.6 1641.16 L730.6 1642 L730.6 1642.84 L730.6 1643.68 L730.6 1644.53 L730.6 1645.37 L730.6 1646.21 L730.6 1647.05 L730.6 1647.9 L730.6 1648.74 L730.6 1649.58 L730.6 1650.42 L730.6 1651.27 L730.6 1652.11 L730.6 1652.95 L730.6 1653.79 L730.6 1654.64 L730.6 1655.48 L730.6 1656.32 L730.6 1657.16 L730.6 1658.01 L730.6 1658.85 L730.6 1659.69 L730.6 1660.53 L730.6 1661.38 L730.6 1662.22 L730.6 1663.06 L730.6 1663.9 L730.6 1664.75 L730.6 1665.59 L730.6 1666.43 L730.6 1667.27 L730.6 1668.12 L730.6 1668.96 L730.6 1669.8 L730.6 1670.64 L730.6 1671.49 L730.6 1672.33 L730.6 1673.17 L730.6 1674.01 L730.6 1674.86 L730.6 1675.7 L730.6 1676.54 L730.6 1677.38 L730.6 1678.23 L730.6 1679.07 L730.6 1679.91 L730.6 1680.75 L730.6 1681.6 L730.6 1682.44 L730.6 1683.28 L730.6 1684.12 L730.6 1684.97 L730.6 1685.81 L730.6 1686.65 L730.6 1687.49 L730.6 1688.34 L730.6 1689.18 L730.6 1690.02 L730.6 1690.86 L730.6 1691.71 L730.6 1692.55 L730.6 1693.39 L730.6 1694.23 L730.6 1695.08 L730.6 1695.92 L730.6 1696.76 L730.6 1697.6 L730.6 1698.45 L730.6 1699.29 L730.6 1700.13 L730.6 1700.97 L730.6 1701.82 L730.6 1702.66 L730.6 1703.5 L730.6 1704.34 L730.6 1705.19 L730.6 1706.03 L730.6 1706.87 L730.6 1707.71 L730.6 1708.56 L730.6 1709.4 L730.6 1710.24 L730.6 1711.08 L730.6 1711.93 L730.6 1712.77 L730.6 1713.61 L730.6 1714.45 L730.6 1715.3 L730.6 1716.14 L730.6 1716.98 L730.6 1717.82 L730.6 1718.67 L730.6 1719.51 L730.6 1720.35 L730.6 1721.19 L730.6 1722.04 L730.6 1722.88 L730.6 1723.72 L730.6 1724.56 L730.6 1725.41 L730.6 1726.25 L730.6 1727.09 L730.6 1727.93 L730.6 1728.78 L730.6 1729.62 L730.6 1730.46 L730.6 1731.3 L730.6 1732.15 L730.6 1732.99 L730.6 1733.83 L730.6 1734.67 L730.6 1735.52 L730.6 1736.36 L730.6 1737.2 L730.6 1738.04 L730.6 1738.89 L730.6 1739.73 L730.6 1740.57 L730.6 1741.41 L730.6 1742.26 L730.6 1743.1 L730.6 1743.94 L730.6 1744.78 L730.6 1745.63 L730.6 1746.47 L730.6 1747.31 L730.6 1748.15 L730.6 1749 L730.6 1749.84 L730.6 1750.68 L730.6 1751.52 L730.6 1752.37 L730.6 1753.21 L730.6 1754.05 L730.6 1754.89 L730.6 1755.74 L730.6 1756.58 L730.6 1757.42 L730.6 1758.26 L730.6 1759.11 L730.6 1759.95 L730.6 1760.79 L730.6 1761.63 L730.6 1762.48 L730.6 1763.32 L730.6 1764.16 L730.6 1765 L730.6 1765.85 L730.6 1766.69 L730.6 1767.53 L730.6 1768.37 L730.6 1769.22 L730.6 1770.06 L730.6 1770.9 L730.6 1771.74 L730.6 1772.59 L730.6 1773.43 L730.6 1774.27 L730.6 1775.11 L730.6 1775.96 L730.6 1776.8 L730.61 1777.64 L730.62 1778.48 L730.65 1779.33 L730.74 1780.17 L730.93 1781.01 L731.31 1781.85 L732.01 1782.7 L733.14 1783.54 L734.75 1784.38 L736.75 1785.22 L738.87 1786.07 L740.68 1786.91 L741.74 1787.75 L741.78 1788.59 L740.78 1789.44 L739 1790.28 L736.9 1791.12 L734.88 1791.96 L733.24 1792.81 L732.08 1793.65 L731.35 1794.49 L730.94 1795.33 L730.74 1796.18 L730.65 1797.02 L730.62 1797.86 L730.61 1798.7 L730.6 1799.55 L730.6 1800.39 L730.6 1801.23 L730.6 1802.07 L730.6 1802.92 L730.6 1803.76 L730.6 1804.6 L730.6 1805.44 L730.6 1806.28 L730.6 1807.13 L730.6 1807.97 L730.6 1808.81 L730.6 1809.65 L730.6 1810.5 L730.6 1811.34 L730.6 1812.18 L730.6 1813.02 L730.6 1813.87 L730.6 1814.71 L730.6 1815.55 L730.6 1816.39 L730.6 1817.24 L730.6 1818.08 L730.6 1818.92 L730.6 1819.76 L730.6 1820.61 L730.6 1821.45 L730.6 1822.29 L730.6 1823.13 L730.6 1823.98 L730.6 1824.82 L730.6 1825.66 L730.6 1826.5 L730.6 1827.35 L730.6 1828.19 L730.6 1829.03 L730.6 1829.87 L730.6 1830.72 L730.6 1831.56 L730.6 1832.4 L730.6 1833.24 L730.6 1834.09 L730.6 1834.93 L730.6 1835.77 L730.6 1836.61 L730.6 1837.46 L730.6 1838.3 L730.6 1839.14 L730.6 1839.98 L730.6 1840.83 L730.6 1841.67 L730.6 1842.51 L730.6 1843.35 L730.6 1844.2 L730.6 1845.04 L730.6 1845.88 L730.6 1846.72 L730.6 1847.57 L730.6 1848.41 L730.6 1849.25 L730.6 1850.09 L730.6 1850.94 L730.6 1851.78 L730.6 1852.62 L730.6 1853.46 L730.6 1854.31 L730.6 1855.15 L730.6 1855.99 L730.6 1856.83 L730.6 1857.68 L730.6 1858.52 L730.6 1859.36 L730.6 1860.2 L730.6 1861.05 L730.6 1861.89 L730.6 1862.73 L730.6 1863.57 L730.6 1864.42 L730.6 1865.26 L730.6 1866.1 L730.6 1866.94 L730.6 1867.79 L730.6 1868.63 L730.6 1869.47 L730.6 1870.31 L730.6 1871.16 L730.6 1872 L730.6 1872.84 L730.6 1873.68 L730.6 1874.53 L730.6 1875.37 L730.6 1876.21 L730.6 1877.05 L730.6 1877.9 L730.6 1878.74 L730.6 1879.58 L730.6 1880.42 L730.6 1881.27 L730.6 1882.11 L730.6 1882.95 L730.6 1883.79 L730.6 1884.64 L730.6 1885.48 L730.6 1886.32 L730.6 1887.16 L730.6 1888.01 L730.6 1888.85 L730.6 1889.69 L730.6 1890.53 L730.6 1891.38 L730.6 1892.22 L730.6 1893.06 L730.6 1893.9 L730.6 1894.75 L730.6 1895.59 L730.6 1896.43 L730.6 1897.27 L730.6 1898.12 L730.6 1898.96 L730.6 1899.8 L730.6 1900.64 L730.6 1901.49 L730.6 1902.33 L730.6 1903.17 L730.6 1904.01 L730.6 1904.86 L730.6 1905.7 L730.6 1906.54 L730.6 1907.38 L730.6 1908.23 L730.6 1909.07 L730.6 1909.91 L730.6 1910.75 L730.6 1911.6 L730.6 1912.44 L730.6 1913.28 L730.6 1914.12 L730.6 1914.97 L730.6 1915.81 L730.6 1916.65 L730.6 1917.49 L730.6 1918.34 L730.6 1919.18 L730.6 1920.02 L730.6 1920.86 L730.6 1921.71 L730.6 1922.55 L730.6 1923.39 L730.6 1924.23 L730.6 1925.08 L730.6 1925.92 L730.6 1926.76 L730.6 1927.6 L730.6 1928.45 L730.6 1929.29 L730.6 1930.13 L730.6 1930.97 L730.6 1931.82 L730.6 1932.66 L730.6 1933.5 L730.6 1934.34 L730.6 1935.19 L730.6 1936.03 L730.6 1936.87 L730.6 1937.71 L730.6 1938.56 L730.6 1939.4 L730.6 1940.24 L730.6 1941.08 L730.6 1941.93 L730.6 1942.77 L730.6 1943.61 L730.6 1944.45 L730.6 1945.3 L730.6 1946.14 L730.6 1946.98 L730.6 1947.82 L730.6 1948.67 L730.6 1949.51 L730.6 1950.35 L730.6 1951.19 L730.6 1952.04 L730.6 1952.88 L730.6 1953.72 L730.6 1954.56 L730.6 1955.41 L730.6 1956.25 L730.6 1957.09 L730.6 1957.93 L730.6 1958.78 L730.6 1959.62 L730.6 1960.46 L730.6 1961.3 L730.6 1962.15 L730.6 1962.99 L730.6 1963.83 L730.6 1964.67 L730.6 1965.52 L730.6 1966.36 L730.6 1967.2 L730.6 1968.04 L730.6 1968.89 L730.6 1969.73 L730.6 1970.57 L730.6 1971.41 L730.6 1972.26 L730.6 1973.1 L730.6 1973.94 L730.6 1974.78 L730.6 1975.63 L730.6 1976.47 L730.6 1977.31 L730.6 1978.15 L730.6 1979 L730.6 1979.84 L730.6 1980.68 L730.6 1981.52 L730.6 1982.37 L730.6 1983.21 L730.6 1984.05 L730.6 1984.89 L730.6 1985.74 L730.6 1986.58 L730.6 1987.42 L730.6 1988.26 L730.6 1989.11 L730.6 1989.95 L730.6 1990.79 L730.6 1991.63 L730.6 1992.48 L730.6 1993.32 L730.6 1994.16 L730.6 1995 L730.6 1995.85 L730.6 1996.69 L730.6 1997.53 L730.6 1998.37 L730.6 1999.22 L730.6 2000.06 L730.6 2000.9 L730.6 2001.74 L730.6 2002.58 L730.6 2003.43 L730.6 2004.27 L730.6 2005.11 L730.6 2005.95 L730.6 2006.8 L730.6 2007.64 L730.6 2008.48 L730.6 2009.32 L730.6 2010.17 L730.6 2011.01 L730.6 2011.85 L730.6 2012.69 L730.6 2013.54 L730.6 2014.38 L730.6 2015.22 L730.6 2016.06 L730.6 2016.91 L730.6 2017.75 L730.6 2018.59 L730.6 2019.43 L730.6 2020.28 L730.6 2021.12 L730.6 2021.96 L730.6 2022.8 L730.6 2023.65 L730.6 2024.49 L730.6 2025.33 L730.6 2026.17 L730.6 2027.02 L730.6 2027.86 L730.6 2028.7 L730.6 2029.54 L730.6 2030.39 L730.6 2031.23 L730.6 2032.07 L730.6 2032.91 L730.6 2033.76 L730.6 2034.6 L730.6 2035.44 L730.6 2036.28 L730.6 2037.13 L730.6 2037.97 L730.6 2038.81 L730.6 2039.65 L730.6 2040.5 L730.6 2041.34 L730.6 2042.18 L730.6 2043.02 L730.6 2043.87 L730.6 2044.71 L730.6 2045.55 L730.6 2046.39 L730.6 2047.24 L730.6 2048.08 L730.6 2048.92 L730.6 2049.76 L730.6 2050.61 L730.6 2051.45 L730.6 2052.29 L730.6 2053.13 L730.6 2053.98 L730.6 2054.82 L730.6 2055.66 L730.6 2056.5 L730.6 2057.35 L730.6 2058.19 L730.6 2059.03 L730.6 2059.87 L730.6 2060.72 L730.6 2061.56 L730.6 2062.4 L730.6 2063.24 L730.6 2064.09 L730.6 2064.93 L730.6 2065.77 L730.6 2066.61 L730.6 2067.46 L730.6 2068.3 L730.6 2069.14 L730.6 2069.98 L730.6 2070.83 L730.6 2071.67 L730.6 2072.51 L730.6 2073.35 L730.6 2074.2 L730.6 2075.04 L730.6 2075.88 L730.6 2076.72 L730.6 2077.57 L730.6 2078.41 L730.6 2079.25 L730.6 2080.09 L730.6 2080.94 L730.6 2081.78 L730.6 2082.62 L730.6 2083.46 L730.6 2084.31 L730.6 2085.15 L730.6 2085.99 L730.6 2086.83 L730.6 2087.68 L730.6 2088.52 L730.6 2089.36 L730.6 2090.2 L730.6 2091.05 L730.6 2091.89 L730.6 2092.73 L730.6 2093.57 L730.6 2094.42 L730.6 2095.26 L730.6 2096.1 L730.6 2096.94 L730.6 2097.79 L730.6 2098.63 L730.6 2099.47 L730.6 2100.31 L730.6 2101.16 L730.6 2102 L730.6 2102.84 L730.6 2103.68 L730.6 2104.53 L730.6 2105.37 L730.6 2106.21 L730.6 2107.05 L730.6 2107.9 L730.6 2108.74 L730.6 2109.58 L730.6 2110.42 L730.6 2111.27 L730.6 2112.11 L730.6 2112.95 L730.6 2113.79 L730.6 2114.64 L730.6 2115.48 L730.6 2116.32 L730.6 2117.16 L730.6 2118.01 L730.6 2118.85 L730.6 2119.69 L730.6 2120.53 L730.6 2121.38 L730.6 2122.22 L730.6 2123.06 L730.6 2123.9 L730.6 2124.75 L730.6 2125.59 L730.6 2126.43 L730.6 2127.27 L730.6 2128.12 L730.6 2128.96 L730.6 2129.8 L730.6 2130.64 L730.6 2131.49 L730.6 2132.33 L730.6 2133.17 L730.6 2134.01 L730.6 2134.86 L730.6 2135.7 L730.6 2136.54 L730.6 2137.38 L730.6 2138.23 L730.6 2139.07 L730.6 2139.91 L730.6 2140.75 L730.6 2141.6 L730.6 2142.44 L730.6 2143.28 L730.6 2144.12 L730.6 2144.97 L730.6 2145.81 L730.6 2146.65 L730.6 2147.49 L730.6 2148.34 L730.6 2149.18 L730.6 2150.02 L730.6 2150.86 L730.6 2151.71 L730.6 2152.55 L730.6 2153.39 L730.6 2154.23 L730.6 2155.08 L730.6 2155.92 L730.6 2156.76 L730.6 2157.6 L730.6 2158.45 L730.6 2159.29 L730.6 2160.13 L730.6 2160.97 L730.6 2161.82 L730.6 2162.66 L730.6 2163.5 L730.6 2164.34 L730.6 2165.19 L730.6 2166.03 L730.6 2166.87 L730.6 2167.71 L730.6 2168.56 L730.6 2169.4 L730.6 2170.24 L730.6 2171.08 L730.6 2171.93 L730.6 2172.77 L730.6 2173.61 L730.6 2174.45 L730.6 2175.3 L730.6 2176.14 L730.6 2176.98 L730.6 2177.82 L730.6 2178.67 L730.6 2179.51 L730.6 2180.35 L730.6 2181.19 L730.6 2182.04 L730.6 2182.88 L730.6 2183.72 L730.6 2184.56 L730.6 2185.41 L730.6 2186.25 L730.6 2187.09 L730.6 2187.93 L730.6 2188.78 L730.6 2189.62 L730.6 2190.46 L730.6 2191.3 L730.6 2192.15 L730.6 2192.99 L730.6 2193.83 L730.6 2194.67 L730.6 2195.52 L730.6 2196.36 L730.6 2197.2" fill="none" stroke="#ff1493" stroke-width="3.1" />
<path d="M730.6 1788.2 H868.6" stroke="#808080" stroke-width="3.7" stroke-dasharray="3.7 6.1" fill="none"/>
<defs><linearGradient id="cb" x1="0" y1="0" x2="0" y2="1"><stop offset="0" stop-color="#08306b"/><stop offset="0.03" stop-color="#083877"/><stop offset="0.06" stop-color="#084084"/><stop offset="0.09" stop-color="#084990"/><stop offset="0.12" stop-color="#08519c"/><stop offset="0.16" stop-color="#0e59a2"/><stop offset="0.19" stop-color="#1461a8"/><stop offset="0.22" stop-color="#1b69af"/><stop offset="0.25" stop-color="#2171b5"/><stop offset="0.28" stop-color="#2979b9"/><stop offset="0.31" stop-color="#3282be"/><stop offset="0.34" stop-color="#3a8ac2"/><stop offset="0.38" stop-color="#4292c6"/><stop offset="0.41" stop-color="#4c99ca"/><stop offset="0.44" stop-color="#56a0ce"/><stop offset="0.47" stop-color="#61a7d2"/><stop offset="0.5" stop-color="#6baed6"/><stop offset="0.53" stop-color="#78b5d9"/><stop offset="0.56" stop-color="#84bcdc"/><stop offset="0.59" stop-color="#91c3de"/><stop offset="0.62" stop-color="#9ecae1"/><stop offset="0.66" stop-color="#a8cee4"/><stop offset="0.69" stop-color="#b2d2e8"/><stop offset="0.72" stop-color="#bcd7ec"/><stop offset="0.75" stop-color="#c6dbef"/><stop offset="0.78" stop-color="#ccdff1"/><stop offset="0.81" stop-color="#d2e3f3"/><stop offset="0.84" stop-color="#d8e7f5"/><stop offset="0.88" stop-color="#deebf7"/><stop offset="0.91" stop-color="#e4eff9"/><stop offset="0.94" stop-color="#eaf3fb"/><stop offset="0.97" stop-color="#f1f7fd"/><stop offset="1" stop-color="#f7fbff"/></linearGradient></defs>
<rect x="894.5" y="1608.3" width="29.9" height="588.9" fill="url(#cb)" stroke="#000" stroke-width="2"/>
<path d="M924.4 2197.2 h6.6M924.4 2146.63 h3.8M924.4 2117.04 h3.8M924.4 2096.05 h3.8M924.4 2079.77 h3.8M924.4 2066.47 h3.8M924.4 2055.22 h3.8M924.4 2045.48 h3.8M924.4 2036.89 h3.8M924.4 2029.2 h6.6M924.4 1978.63 h3.8M924.4 1949.04 h3.8M924.4 1928.05 h3.8M924.4 1911.77 h3.8M924.4 1898.47 h3.8M924.4 1887.22 h3.8M924.4 1877.48 h3.8M924.4 1868.89 h3.8M924.4 1861.2 h6.6M924.4 1810.63 h3.8M924.4 1781.04 h3.8M924.4 1760.05 h3.8M924.4 1743.77 h3.8M924.4 1730.47 h3.8M924.4 1719.22 h3.8M924.4 1709.48 h3.8M924.4 1700.89 h3.8M924.4 1693.2 h6.6M924.4 1642.63 h3.8M924.4 1613.04 h3.8" stroke="#000" stroke-width="1.9" fill="none"/>
<text x="936.6" y="2204.5" font-size="19">10<tspan font-size="13.3" dy="-6.6">0</tspan></text>
<text x="936.6" y="2036.5" font-size="19">10<tspan font-size="13.3" dy="-6.6">1</tspan></text>
<text x="936.6" y="1868.5" font-size="19">10<tspan font-size="13.3" dy="-6.6">2</tspan></text>
<text x="936.6" y="1700.5" font-size="19">10<tspan font-size="13.3" dy="-6.6">3</tspan></text>
<text transform="translate(989.5 1903.3) rotate(-90)" font-size="18.5" text-anchor="middle">N</text>
<rect x="119.5" y="1608.3" width="604.4" height="588.9" fill="none" stroke="#000" stroke-width="2"/>
<rect x="119.5" y="1411.7" width="604.4" height="196.6" fill="none" stroke="#000" stroke-width="2"/>
<rect x="723.9" y="1608.3" width="160.9" height="588.9" fill="none" stroke="#000" stroke-width="2"/>
<path d="M171.5 2197.2 v6.6M302.9 2197.2 v6.6M434.3 2197.2 v6.6M565.7 2197.2 v6.6M697.1 2197.2 v6.6M119.5 1608.5 h-6.6M119.5 1731 h-6.6M119.5 1853.5 h-6.6M119.5 1976 h-6.6M119.5 2098.5 h-6.6M119.5 1599.6 h-6.6M119.5 1551.6 h-6.6M119.5 1503.6 h-6.6M119.5 1455.5 h-6.6M723.9 1711.5 h-6.6M723.9 1839.2 h-6.6M723.9 1966.9 h-6.6M723.9 2094.6 h-6.6M730.5 2197.2 v6.6M817.5 2197.2 v6.6" stroke="#000" stroke-width="1.9" fill="none"/>
<text x="171.5" y="2224" font-size="18.5" text-anchor="middle" >−10</text>
<text x="302.9" y="2224" font-size="18.5" text-anchor="middle" >−5</text>
<text x="434.3" y="2224" font-size="18.5" text-anchor="middle" >0</text>
<text x="565.7" y="2224" font-size="18.5" text-anchor="middle" >5</text>
<text x="697.1" y="2224" font-size="18.5" text-anchor="middle" >10</text>
<text x="107.2" y="1616.1" font-size="18.5" text-anchor="end" >5</text>
<text x="107.2" y="1738.6" font-size="18.5" text-anchor="end" >0</text>
<text x="107.2" y="1861.1" font-size="18.5" text-anchor="end" >−5</text>
<text x="107.2" y="1983.6" font-size="18.5" text-anchor="end" >−10</text>
<text x="107.2" y="2106.1" font-size="18.5" text-anchor="end" >−15</text>
<text x="107.2" y="1607.2" font-size="18.5" text-anchor="end" >0</text>
<text x="107.2" y="1559.2" font-size="18.5" text-anchor="end" >500</text>
<text x="107.2" y="1511.2" font-size="18.5" text-anchor="end" >1000</text>
<text x="730.5" y="2224" font-size="18.5" text-anchor="middle" >0</text>
<text x="817.5" y="2224" font-size="18.5" text-anchor="middle" >1000</text>
<text x="119.2" y="1444.4" font-size="30.9" ><tspan font-style="italic">μ</tspan><tspan font-style="italic" font-size="21.63" dy="4.94">α</tspan><tspan dy="-4.94"> =2.15 (mas yr</tspan><tspan font-size="21.63" dy="-11.22">−1</tspan><tspan dy="11.22">)</tspan></text>
<text x="0" y="0" font-size="30.9" transform="translate(851.3 1831.7) rotate(90)"><tspan font-style="italic">μ</tspan><tspan font-style="italic" font-size="21.63" dy="4.94">δ</tspan><tspan dy="-4.94"> =-3.01 (mas yr</tspan><tspan font-size="21.63" dy="-11.22">−1</tspan><tspan dy="11.22">)</tspan></text>
<text x="156.6" y="2281.3" font-size="54.3" ><tspan font-style="italic">μ</tspan><tspan font-style="italic" font-size="38.01" dy="8.69">α</tspan><tspan dy="-8.69">cos(</tspan><tspan font-style="italic">δ</tspan><tspan>) (mas yr</tspan><tspan font-size="38.01" dy="-19.71">−1</tspan><tspan dy="19.71">)</tspan></text>
<text x="0" y="0" font-size="54.6" transform="translate(47.8 2084.2) rotate(-90)"><tspan font-style="italic">μ</tspan><tspan font-style="italic" font-size="38.22" dy="8.74">δ</tspan><tspan dy="-8.74"> (mas yr</tspan><tspan font-size="38.22" dy="-19.82">−1</tspan><tspan dy="19.82">)</tspan></text>
</g>
</svg>
</body></html>
